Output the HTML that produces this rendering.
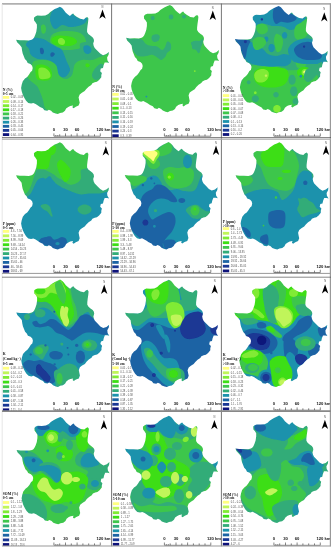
<!DOCTYPE html>
<html><head><meta charset="utf-8"><title>Soil maps</title>
<style>html,body{margin:0;padding:0;background:#fff}svg{display:block}text{font-family:"Liberation Sans",sans-serif}.s{font-family:"Liberation Serif",serif;font-weight:bold}</style></head><body>
<svg width="333" height="550" viewBox="0 0 333 550">
<defs><filter id="b" x="-5%" y="-5%" width="110%" height="110%"><feGaussianBlur stdDeviation="0.45"/></filter>
<clipPath id="c0"><path d="M59.9 6.8 L62.1 8.1 L63.6 9.8 L65.6 12.4 L67.9 14.4 L69.9 15.9 L72.1 13.9 L73.2 13.4 L74.3 15.0 L76.6 16.7 L80.3 18.8 L83.8 19.4 L85.6 17.7 L87.3 17.0 L88.4 18.6 L88.1 21.9 L87.5 25.9 L87.1 29.4 L87.1 31.9 L88.3 33.9 L90.3 35.6 L92.5 37.2 L93.7 38.9 L94.0 40.9 L93.2 43.6 L93.7 45.9 L94.7 48.0 L97.4 50.8 L100.2 53.6 L103.0 55.2 L106.3 54.1 L108.9 51.9 L108.6 54.7 L107.1 57.5 L107.4 60.2 L109.1 63.0 L107.1 62.5 L104.7 62.5 L103.6 65.2 L103.0 68.0 L100.8 68.6 L100.2 71.3 L101.9 73.0 L101.3 75.2 L101.3 77.2 L99.1 80.0 L96.9 81.7 L94.7 82.2 L92.4 83.3 L91.3 85.0 L88.6 86.7 L86.3 88.9 L84.7 91.1 L81.9 92.8 L79.7 94.5 L78.6 97.2 L79.1 100.0 L79.7 102.8 L78.6 105.6 L75.8 106.7 L73.6 108.3 L72.4 107.2 L73.0 105.6 L70.2 106.1 L68.3 106.9 L66.1 108.6 L65.0 110.8 L62.8 112.5 L60.0 113.0 L57.8 114.1 L55.6 113.6 L52.8 112.5 L51.1 110.8 L48.9 109.7 L47.2 110.8 L44.4 110.2 L42.8 108.2 L40.0 106.9 L37.5 105.2 L35.6 104.1 L33.3 103.0 L31.1 103.6 L28.3 103.0 L26.1 100.8 L24.4 98.0 L22.8 94.7 L21.7 91.3 L21.1 88.0 L21.7 84.7 L22.8 81.3 L25.0 78.6 L27.2 76.9 L28.9 74.7 L30.6 71.9 L32.1 70.7 L32.7 67.9 L32.1 65.7 L30.4 64.0 L27.7 62.9 L26.6 60.7 L24.9 59.0 L23.8 56.2 L22.7 53.5 L22.1 50.7 L21.6 47.3 L19.9 45.1 L17.1 42.3 L16.1 39.7 L19.9 40.3 L24.3 40.2 L28.8 40.4 L31.6 39.7 L32.9 39.0 L34.1 37.4 L35.2 35.0 L36.3 31.7 L36.9 27.8 L36.9 24.5 L35.5 22.2 L34.1 20.6 L33.9 17.8 L35.3 16.4 L37.3 15.6 L41.3 15.7 L45.3 15.4 L48.3 13.9 L50.3 11.9 L51.8 10.9 L54.7 9.1 L57.4 7.9Z"/></clipPath>
<clipPath id="c1"><path d="M169.9 4.9 L172.1 6.2 L173.6 7.9 L175.6 10.5 L177.9 12.5 L179.9 14.0 L182.1 12.0 L183.2 11.5 L184.3 13.1 L186.6 14.8 L190.3 16.9 L193.8 17.5 L195.6 15.8 L197.3 15.1 L198.4 16.7 L198.1 20.0 L197.5 24.0 L197.1 27.5 L197.1 30.0 L198.3 32.0 L200.3 33.7 L202.5 35.3 L203.7 37.0 L204.0 39.0 L203.2 41.7 L203.7 44.0 L204.7 46.1 L207.4 48.9 L210.2 51.7 L213.0 53.3 L216.3 52.2 L218.9 50.0 L218.6 52.8 L217.1 55.6 L217.4 58.3 L219.1 61.1 L217.1 60.6 L214.7 60.6 L213.6 63.3 L213.0 66.1 L210.8 66.7 L210.2 69.4 L211.9 71.1 L211.3 73.3 L211.3 75.3 L209.1 78.1 L206.9 79.8 L204.7 80.3 L202.4 81.4 L201.3 83.1 L198.6 84.8 L196.3 87.0 L194.7 89.2 L191.9 90.9 L189.7 92.6 L188.6 95.3 L189.1 98.1 L189.7 100.9 L188.6 103.7 L185.8 104.8 L183.6 106.4 L182.4 105.3 L183.0 103.7 L180.2 104.2 L178.3 105.0 L176.1 106.7 L175.0 108.9 L172.8 110.6 L170.0 111.1 L167.8 112.2 L165.6 111.7 L162.8 110.6 L161.1 108.9 L158.9 107.8 L157.2 108.9 L154.4 108.3 L152.8 106.3 L150.0 105.0 L147.5 103.3 L145.6 102.2 L143.3 101.1 L141.1 101.7 L138.3 101.1 L136.1 98.9 L134.4 96.1 L132.8 92.8 L131.7 89.4 L131.1 86.1 L131.7 82.8 L132.8 79.4 L135.0 76.7 L137.2 75.0 L138.9 72.8 L140.6 70.0 L142.1 68.8 L142.7 66.0 L142.1 63.8 L140.4 62.1 L137.7 61.0 L136.6 58.8 L134.9 57.1 L133.8 54.3 L132.7 51.6 L132.1 48.8 L131.6 45.4 L129.9 43.2 L127.1 40.4 L126.1 37.8 L129.9 38.4 L134.3 38.3 L138.8 38.5 L141.6 37.8 L142.9 37.1 L144.1 35.5 L145.2 33.1 L146.3 29.8 L146.9 25.9 L146.9 22.6 L145.5 20.3 L144.1 18.7 L143.9 15.9 L145.3 14.5 L147.3 13.7 L151.3 13.8 L155.3 13.5 L158.3 12.0 L160.3 10.0 L161.8 9.0 L164.7 7.2 L167.4 6.0Z"/></clipPath>
<clipPath id="c2"><path d="M278.7 6.0 L280.9 7.3 L282.4 9.0 L284.4 11.6 L286.7 13.6 L288.7 15.1 L290.9 13.1 L292.0 12.6 L293.1 14.2 L295.4 15.9 L299.1 18.0 L302.6 18.6 L304.4 16.9 L306.1 16.2 L307.2 17.8 L306.9 21.1 L306.3 25.1 L305.9 28.6 L305.9 31.1 L307.1 33.1 L309.1 34.8 L311.3 36.4 L312.5 38.1 L312.8 40.1 L312.0 42.8 L312.5 45.1 L313.5 47.2 L316.2 50.0 L319.0 52.8 L321.8 54.4 L325.1 53.3 L327.7 51.1 L327.4 53.9 L325.9 56.7 L326.2 59.4 L327.9 62.2 L325.9 61.7 L323.5 61.7 L322.4 64.4 L321.8 67.2 L319.6 67.8 L319.0 70.5 L320.7 72.2 L320.1 74.4 L320.1 76.4 L317.9 79.2 L315.7 80.9 L313.5 81.4 L311.2 82.5 L310.1 84.2 L307.4 85.9 L305.1 88.1 L303.5 90.3 L300.7 92.0 L298.5 93.7 L297.4 96.4 L297.9 99.2 L298.5 102.0 L297.4 104.8 L294.6 105.9 L292.4 107.5 L291.2 106.4 L291.8 104.8 L289.0 105.3 L287.1 106.1 L284.9 107.8 L283.8 110.0 L281.6 111.7 L278.8 112.2 L276.6 113.3 L274.4 112.8 L271.6 111.7 L269.9 110.0 L267.7 108.9 L266.0 110.0 L263.2 109.4 L261.6 107.4 L258.8 106.1 L256.3 104.4 L254.4 103.3 L252.1 102.2 L249.9 102.8 L247.1 102.2 L244.9 100.0 L243.2 97.2 L241.6 93.9 L240.5 90.5 L239.9 87.2 L240.5 83.9 L241.6 80.5 L243.8 77.8 L246.0 76.1 L247.7 73.9 L249.4 71.1 L250.9 69.9 L251.5 67.1 L250.9 64.9 L249.2 63.2 L246.5 62.1 L245.4 59.9 L243.7 58.2 L242.6 55.4 L241.5 52.7 L240.9 49.9 L240.4 46.5 L238.7 44.3 L235.9 41.5 L234.9 38.9 L238.7 39.5 L243.1 39.4 L247.6 39.6 L250.4 38.9 L251.7 38.2 L252.9 36.6 L254.0 34.2 L255.1 30.9 L255.7 27.0 L255.7 23.7 L254.3 21.4 L252.9 19.8 L252.7 17.0 L254.1 15.6 L256.1 14.8 L260.1 14.9 L264.1 14.6 L267.1 13.1 L269.1 11.1 L270.6 10.1 L273.5 8.3 L276.2 7.1Z"/></clipPath>
<clipPath id="c3"><path d="M59.9 142.3 L62.1 143.6 L63.6 145.3 L65.6 147.9 L67.9 149.9 L69.9 151.4 L72.1 149.4 L73.2 148.9 L74.3 150.5 L76.6 152.2 L80.3 154.3 L83.8 154.9 L85.6 153.2 L87.3 152.5 L88.4 154.1 L88.1 157.4 L87.5 161.4 L87.1 164.9 L87.1 167.4 L88.3 169.4 L90.3 171.1 L92.5 172.7 L93.7 174.4 L94.0 176.4 L93.2 179.1 L93.7 181.4 L94.7 183.5 L97.4 186.3 L100.2 189.1 L103.0 190.7 L106.3 189.6 L108.9 187.4 L108.6 190.2 L107.1 193.0 L107.4 195.7 L109.1 198.5 L107.1 198.0 L104.7 198.0 L103.6 200.7 L103.0 203.5 L100.8 204.1 L100.2 206.8 L101.9 208.5 L101.3 210.7 L101.3 212.7 L99.1 215.5 L96.9 217.2 L94.7 217.7 L92.4 218.8 L91.3 220.5 L88.6 222.2 L86.3 224.4 L84.7 226.6 L81.9 228.3 L79.7 230.0 L78.6 232.7 L79.1 235.5 L79.7 238.3 L78.6 241.1 L75.8 242.2 L73.6 243.8 L72.4 242.7 L73.0 241.1 L70.2 241.6 L68.3 242.4 L66.1 244.1 L65.0 246.3 L62.8 248.0 L60.0 248.5 L57.8 249.6 L55.6 249.1 L52.8 248.0 L51.1 246.3 L48.9 245.2 L47.2 246.3 L44.4 245.7 L42.8 243.7 L40.0 242.4 L37.5 240.7 L35.6 239.6 L33.3 238.5 L31.1 239.1 L28.3 238.5 L26.1 236.3 L24.4 233.5 L22.8 230.2 L21.7 226.8 L21.1 223.5 L21.7 220.2 L22.8 216.8 L25.0 214.1 L27.2 212.4 L28.9 210.2 L30.6 207.4 L32.1 206.2 L32.7 203.4 L32.1 201.2 L30.4 199.5 L27.7 198.4 L26.6 196.2 L24.9 194.5 L23.8 191.7 L22.7 189.0 L22.1 186.2 L21.6 182.8 L19.9 180.6 L17.1 177.8 L16.1 175.2 L19.9 175.8 L24.3 175.7 L28.8 175.9 L31.6 175.2 L32.9 174.5 L34.1 172.9 L35.2 170.5 L36.3 167.2 L36.9 163.3 L36.9 160.0 L35.5 157.7 L34.1 156.1 L33.9 153.3 L35.3 151.9 L37.3 151.1 L41.3 151.2 L45.3 150.9 L48.3 149.4 L50.3 147.4 L51.8 146.4 L54.7 144.6 L57.4 143.4Z"/></clipPath>
<clipPath id="c4"><path d="M168.6 142.1 L170.8 143.4 L172.3 145.1 L174.3 147.7 L176.6 149.7 L178.6 151.2 L180.8 149.2 L181.9 148.7 L183.0 150.3 L185.3 152.0 L189.0 154.1 L192.5 154.7 L194.3 153.0 L196.0 152.3 L197.1 153.9 L196.8 157.2 L196.2 161.2 L195.8 164.7 L195.8 167.2 L197.0 169.2 L199.0 170.9 L201.2 172.5 L202.4 174.2 L202.7 176.2 L201.9 178.9 L202.4 181.2 L203.4 183.3 L206.1 186.1 L208.9 188.9 L211.7 190.5 L215.0 189.4 L217.6 187.2 L217.3 190.0 L215.8 192.8 L216.1 195.5 L217.8 198.3 L215.8 197.8 L213.4 197.8 L212.3 200.5 L211.7 203.3 L209.5 203.9 L208.9 206.6 L210.6 208.3 L210.0 210.5 L210.0 212.5 L207.8 215.3 L205.6 217.0 L203.4 217.5 L201.1 218.6 L200.0 220.3 L197.3 222.0 L195.0 224.2 L193.4 226.4 L190.6 228.1 L188.4 229.8 L187.3 232.5 L187.8 235.3 L188.4 238.1 L187.3 240.9 L184.5 242.0 L182.3 243.6 L181.1 242.5 L181.7 240.9 L178.9 241.4 L177.0 242.2 L174.8 243.9 L173.7 246.1 L171.5 247.8 L168.7 248.3 L166.5 249.4 L164.3 248.9 L161.5 247.8 L159.8 246.1 L157.6 245.0 L155.9 246.1 L153.1 245.5 L151.5 243.5 L148.7 242.2 L146.2 240.5 L144.3 239.4 L142.0 238.3 L139.8 238.9 L137.0 238.3 L134.8 236.1 L133.1 233.3 L131.5 230.0 L130.4 226.6 L129.8 223.3 L130.4 220.0 L131.5 216.6 L133.7 213.9 L135.9 212.2 L137.6 210.0 L139.3 207.2 L140.8 206.0 L141.4 203.2 L140.8 201.0 L139.1 199.3 L136.4 198.2 L135.3 196.0 L133.6 194.3 L132.5 191.5 L131.4 188.8 L130.8 186.0 L130.3 182.6 L128.6 180.4 L125.8 177.6 L124.8 175.0 L128.6 175.6 L133.0 175.5 L137.5 175.7 L140.3 175.0 L141.6 174.3 L142.8 172.7 L143.9 170.3 L145.0 167.0 L145.6 163.1 L145.6 159.8 L144.2 157.5 L142.8 155.9 L142.6 153.1 L144.0 151.7 L146.0 150.9 L150.0 151.0 L154.0 150.7 L157.0 149.2 L159.0 147.2 L160.5 146.2 L163.4 144.4 L166.1 143.2Z"/></clipPath>
<clipPath id="c5"><path d="M279.4 142.3 L281.6 143.6 L283.1 145.3 L285.1 147.9 L287.4 149.9 L289.4 151.4 L291.6 149.4 L292.7 148.9 L293.8 150.5 L296.1 152.2 L299.8 154.3 L303.3 154.9 L305.1 153.2 L306.8 152.5 L307.9 154.1 L307.6 157.4 L307.0 161.4 L306.6 164.9 L306.6 167.4 L307.8 169.4 L309.8 171.1 L312.0 172.7 L313.2 174.4 L313.5 176.4 L312.7 179.1 L313.2 181.4 L314.2 183.5 L316.9 186.3 L319.7 189.1 L322.5 190.7 L325.8 189.6 L328.4 187.4 L328.1 190.2 L326.6 193.0 L326.9 195.7 L328.6 198.5 L326.6 198.0 L324.2 198.0 L323.1 200.7 L322.5 203.5 L320.3 204.1 L319.7 206.8 L321.4 208.5 L320.8 210.7 L320.8 212.7 L318.6 215.5 L316.4 217.2 L314.2 217.7 L311.9 218.8 L310.8 220.5 L308.1 222.2 L305.8 224.4 L304.2 226.6 L301.4 228.3 L299.2 230.0 L298.1 232.7 L298.6 235.5 L299.2 238.3 L298.1 241.1 L295.3 242.2 L293.1 243.8 L291.9 242.7 L292.5 241.1 L289.7 241.6 L287.8 242.4 L285.6 244.1 L284.5 246.3 L282.3 248.0 L279.5 248.5 L277.3 249.6 L275.1 249.1 L272.3 248.0 L270.6 246.3 L268.4 245.2 L266.7 246.3 L263.9 245.7 L262.3 243.7 L259.5 242.4 L257.0 240.7 L255.1 239.6 L252.8 238.5 L250.6 239.1 L247.8 238.5 L245.6 236.3 L243.9 233.5 L242.3 230.2 L241.2 226.8 L240.6 223.5 L241.2 220.2 L242.3 216.8 L244.5 214.1 L246.7 212.4 L248.4 210.2 L250.1 207.4 L251.6 206.2 L252.2 203.4 L251.6 201.2 L249.9 199.5 L247.2 198.4 L246.1 196.2 L244.4 194.5 L243.3 191.7 L242.2 189.0 L241.6 186.2 L241.1 182.8 L239.4 180.6 L236.6 177.8 L235.6 175.2 L239.4 175.8 L243.8 175.7 L248.3 175.9 L251.1 175.2 L252.4 174.5 L253.6 172.9 L254.7 170.5 L255.8 167.2 L256.4 163.3 L256.4 160.0 L255.0 157.7 L253.6 156.1 L253.4 153.3 L254.8 151.9 L256.8 151.1 L260.8 151.2 L264.8 150.9 L267.8 149.4 L269.8 147.4 L271.3 146.4 L274.2 144.6 L276.9 143.4Z"/></clipPath>
<clipPath id="c6"><path d="M60.1 279.6 L62.3 280.9 L63.8 282.6 L65.8 285.2 L68.1 287.2 L70.1 288.7 L72.3 286.7 L73.4 286.2 L74.5 287.8 L76.8 289.5 L80.5 291.6 L84.0 292.2 L85.8 290.5 L87.5 289.8 L88.6 291.4 L88.3 294.7 L87.7 298.7 L87.3 302.2 L87.3 304.7 L88.5 306.7 L90.5 308.4 L92.7 310.0 L93.9 311.7 L94.2 313.7 L93.4 316.4 L93.9 318.7 L94.9 320.8 L97.6 323.6 L100.4 326.4 L103.2 328.0 L106.5 326.9 L109.1 324.7 L108.8 327.5 L107.3 330.3 L107.6 333.0 L109.3 335.8 L107.3 335.3 L104.9 335.3 L103.8 338.0 L103.2 340.8 L101.0 341.4 L100.4 344.1 L102.1 345.8 L101.5 348.0 L101.5 350.0 L99.3 352.8 L97.1 354.5 L94.9 355.0 L92.6 356.1 L91.5 357.8 L88.8 359.5 L86.5 361.7 L84.9 363.9 L82.1 365.6 L79.9 367.3 L78.8 370.0 L79.3 372.8 L79.9 375.6 L78.8 378.4 L76.0 379.5 L73.8 381.1 L72.6 380.0 L73.2 378.4 L70.4 378.9 L68.5 379.7 L66.3 381.4 L65.2 383.6 L63.0 385.3 L60.2 385.8 L58.0 386.9 L55.8 386.4 L53.0 385.3 L51.3 383.6 L49.1 382.5 L47.4 383.6 L44.6 383.0 L43.0 381.0 L40.2 379.7 L37.7 378.0 L35.8 376.9 L33.5 375.8 L31.3 376.4 L28.5 375.8 L26.3 373.6 L24.6 370.8 L23.0 367.5 L21.9 364.1 L21.3 360.8 L21.9 357.5 L23.0 354.1 L25.2 351.4 L27.4 349.7 L29.1 347.5 L30.8 344.7 L32.3 343.5 L32.9 340.7 L32.3 338.5 L30.6 336.8 L27.9 335.7 L26.8 333.5 L25.1 331.8 L24.0 329.0 L22.9 326.3 L22.3 323.5 L21.8 320.1 L20.1 317.9 L17.3 315.1 L16.3 312.5 L20.1 313.1 L24.5 313.0 L29.0 313.2 L31.8 312.5 L33.1 311.8 L34.3 310.2 L35.4 307.8 L36.5 304.5 L37.1 300.6 L37.1 297.3 L35.7 295.0 L34.3 293.4 L34.1 290.6 L35.5 289.2 L37.5 288.4 L41.5 288.5 L45.5 288.2 L48.5 286.7 L50.5 284.7 L52.0 283.7 L54.9 281.9 L57.6 280.7Z"/></clipPath>
<clipPath id="c7"><path d="M168.9 279.8 L171.1 281.1 L172.6 282.8 L174.6 285.4 L176.9 287.4 L178.9 288.9 L181.1 286.9 L182.2 286.4 L183.3 288.0 L185.6 289.7 L189.3 291.8 L192.8 292.4 L194.6 290.7 L196.3 290.0 L197.4 291.6 L197.1 294.9 L196.5 298.9 L196.1 302.4 L196.1 304.9 L197.3 306.9 L199.3 308.6 L201.5 310.2 L202.7 311.9 L203.0 313.9 L202.2 316.6 L202.7 318.9 L203.7 321.0 L206.4 323.8 L209.2 326.6 L212.0 328.2 L215.3 327.1 L217.9 324.9 L217.6 327.7 L216.1 330.5 L216.4 333.2 L218.1 336.0 L216.1 335.5 L213.7 335.5 L212.6 338.2 L212.0 341.0 L209.8 341.6 L209.2 344.3 L210.9 346.0 L210.3 348.2 L210.3 350.2 L208.1 353.0 L205.9 354.7 L203.7 355.2 L201.4 356.3 L200.3 358.0 L197.6 359.7 L195.3 361.9 L193.7 364.1 L190.9 365.8 L188.7 367.5 L187.6 370.2 L188.1 373.0 L188.7 375.8 L187.6 378.6 L184.8 379.7 L182.6 381.3 L181.4 380.2 L182.0 378.6 L179.2 379.1 L177.3 379.9 L175.1 381.6 L174.0 383.8 L171.8 385.5 L169.0 386.0 L166.8 387.1 L164.6 386.6 L161.8 385.5 L160.1 383.8 L157.9 382.7 L156.2 383.8 L153.4 383.2 L151.8 381.2 L149.0 379.9 L146.5 378.2 L144.6 377.1 L142.3 376.0 L140.1 376.6 L137.3 376.0 L135.1 373.8 L133.4 371.0 L131.8 367.7 L130.7 364.3 L130.1 361.0 L130.7 357.7 L131.8 354.3 L134.0 351.6 L136.2 349.9 L137.9 347.7 L139.6 344.9 L141.1 343.7 L141.7 340.9 L141.1 338.7 L139.4 337.0 L136.7 335.9 L135.6 333.7 L133.9 332.0 L132.8 329.2 L131.7 326.5 L131.1 323.7 L130.6 320.3 L128.9 318.1 L126.1 315.3 L125.1 312.7 L128.9 313.3 L133.3 313.2 L137.8 313.4 L140.6 312.7 L141.9 312.0 L143.1 310.4 L144.2 308.0 L145.3 304.7 L145.9 300.8 L145.9 297.5 L144.5 295.2 L143.1 293.6 L142.9 290.8 L144.3 289.4 L146.3 288.6 L150.3 288.7 L154.3 288.4 L157.3 286.9 L159.3 284.9 L160.8 283.9 L163.7 282.1 L166.4 280.9Z"/></clipPath>
<clipPath id="c8"><path d="M278.2 279.8 L280.4 281.1 L281.9 282.8 L283.9 285.4 L286.2 287.4 L288.2 288.9 L290.4 286.9 L291.5 286.4 L292.6 288.0 L294.9 289.7 L298.6 291.8 L302.1 292.4 L303.9 290.7 L305.6 290.0 L306.7 291.6 L306.4 294.9 L305.8 298.9 L305.4 302.4 L305.4 304.9 L306.6 306.9 L308.6 308.6 L310.8 310.2 L312.0 311.9 L312.3 313.9 L311.5 316.6 L312.0 318.9 L313.0 321.0 L315.7 323.8 L318.5 326.6 L321.3 328.2 L324.6 327.1 L327.2 324.9 L326.9 327.7 L325.4 330.5 L325.7 333.2 L327.4 336.0 L325.4 335.5 L323.0 335.5 L321.9 338.2 L321.3 341.0 L319.1 341.6 L318.5 344.3 L320.2 346.0 L319.6 348.2 L319.6 350.2 L317.4 353.0 L315.2 354.7 L313.0 355.2 L310.7 356.3 L309.6 358.0 L306.9 359.7 L304.6 361.9 L303.0 364.1 L300.2 365.8 L298.0 367.5 L296.9 370.2 L297.4 373.0 L298.0 375.8 L296.9 378.6 L294.1 379.7 L291.9 381.3 L290.7 380.2 L291.3 378.6 L288.5 379.1 L286.6 379.9 L284.4 381.6 L283.3 383.8 L281.1 385.5 L278.3 386.0 L276.1 387.1 L273.9 386.6 L271.1 385.5 L269.4 383.8 L267.2 382.7 L265.5 383.8 L262.7 383.2 L261.1 381.2 L258.3 379.9 L255.8 378.2 L253.9 377.1 L251.6 376.0 L249.4 376.6 L246.6 376.0 L244.4 373.8 L242.7 371.0 L241.1 367.7 L240.0 364.3 L239.4 361.0 L240.0 357.7 L241.1 354.3 L243.3 351.6 L245.5 349.9 L247.2 347.7 L248.9 344.9 L250.4 343.7 L251.0 340.9 L250.4 338.7 L248.7 337.0 L246.0 335.9 L244.9 333.7 L243.2 332.0 L242.1 329.2 L241.0 326.5 L240.4 323.7 L239.9 320.3 L238.2 318.1 L235.4 315.3 L234.4 312.7 L238.2 313.3 L242.6 313.2 L247.1 313.4 L249.9 312.7 L251.2 312.0 L252.4 310.4 L253.5 308.0 L254.6 304.7 L255.2 300.8 L255.2 297.5 L253.8 295.2 L252.4 293.6 L252.2 290.8 L253.6 289.4 L255.6 288.6 L259.6 288.7 L263.6 288.4 L266.6 286.9 L268.6 284.9 L270.1 283.9 L273.0 282.1 L275.7 280.9Z"/></clipPath>
<clipPath id="c9"><path d="M60.4 417.0 L62.6 418.3 L64.1 420.0 L66.1 422.6 L68.4 424.6 L70.4 426.1 L72.6 424.1 L73.7 423.6 L74.8 425.2 L77.1 426.9 L80.8 429.0 L84.3 429.6 L86.1 427.9 L87.8 427.2 L88.9 428.8 L88.6 432.1 L88.0 436.1 L87.6 439.6 L87.6 442.1 L88.8 444.1 L90.8 445.8 L93.0 447.4 L94.2 449.1 L94.5 451.1 L93.7 453.8 L94.2 456.1 L95.2 458.2 L97.9 461.0 L100.7 463.8 L103.5 465.4 L106.8 464.3 L109.4 462.1 L109.1 464.9 L107.6 467.7 L107.9 470.4 L109.6 473.2 L107.6 472.7 L105.2 472.7 L104.1 475.4 L103.5 478.2 L101.3 478.8 L100.7 481.5 L102.4 483.2 L101.8 485.4 L101.8 487.4 L99.6 490.2 L97.4 491.9 L95.2 492.4 L92.9 493.5 L91.8 495.2 L89.1 496.9 L86.8 499.1 L85.2 501.3 L82.4 503.0 L80.2 504.7 L79.1 507.4 L79.6 510.2 L80.2 513.0 L79.1 515.8 L76.3 516.9 L74.1 518.5 L72.9 517.4 L73.5 515.8 L70.7 516.3 L68.8 517.1 L66.6 518.8 L65.5 521.0 L63.3 522.7 L60.5 523.2 L58.3 524.3 L56.1 523.8 L53.3 522.7 L51.6 521.0 L49.4 519.9 L47.7 521.0 L44.9 520.4 L43.3 518.4 L40.5 517.1 L38.0 515.4 L36.1 514.3 L33.8 513.2 L31.6 513.8 L28.8 513.2 L26.6 511.0 L24.9 508.2 L23.3 504.9 L22.2 501.5 L21.6 498.2 L22.2 494.9 L23.3 491.5 L25.5 488.8 L27.7 487.1 L29.4 484.9 L31.1 482.1 L32.6 480.9 L33.2 478.1 L32.6 475.9 L30.9 474.2 L28.2 473.1 L27.1 470.9 L25.4 469.2 L24.3 466.4 L23.2 463.7 L22.6 460.9 L22.1 457.5 L20.4 455.3 L17.6 452.5 L16.6 449.9 L20.4 450.5 L24.8 450.4 L29.3 450.6 L32.1 449.9 L33.4 449.2 L34.6 447.6 L35.7 445.2 L36.8 441.9 L37.4 438.0 L37.4 434.7 L36.0 432.4 L34.6 430.8 L34.4 428.0 L35.8 426.6 L37.8 425.8 L41.8 425.9 L45.8 425.6 L48.8 424.1 L50.8 422.1 L52.3 421.1 L55.2 419.3 L57.9 418.1Z"/></clipPath>
<clipPath id="c10"><path d="M168.9 415.8 L171.1 417.1 L172.6 418.8 L174.6 421.4 L176.9 423.4 L178.9 424.9 L181.1 422.9 L182.2 422.4 L183.3 424.0 L185.6 425.7 L189.3 427.8 L192.8 428.4 L194.6 426.7 L196.3 426.0 L197.4 427.6 L197.1 430.9 L196.5 434.9 L196.1 438.4 L196.1 440.9 L197.3 442.9 L199.3 444.6 L201.5 446.2 L202.7 447.9 L203.0 449.9 L202.2 452.6 L202.7 454.9 L203.7 457.0 L206.4 459.8 L209.2 462.6 L212.0 464.2 L215.3 463.1 L217.9 460.9 L217.6 463.7 L216.1 466.5 L216.4 469.2 L218.1 472.0 L216.1 471.5 L213.7 471.5 L212.6 474.2 L212.0 477.0 L209.8 477.6 L209.2 480.3 L210.9 482.0 L210.3 484.2 L210.3 486.2 L208.1 489.0 L205.9 490.7 L203.7 491.2 L201.4 492.3 L200.3 494.0 L197.6 495.7 L195.3 497.9 L193.7 500.1 L190.9 501.8 L188.7 503.5 L187.6 506.2 L188.1 509.0 L188.7 511.8 L187.6 514.6 L184.8 515.7 L182.6 517.3 L181.4 516.2 L182.0 514.6 L179.2 515.1 L177.3 515.9 L175.1 517.6 L174.0 519.8 L171.8 521.5 L169.0 522.0 L166.8 523.1 L164.6 522.6 L161.8 521.5 L160.1 519.8 L157.9 518.7 L156.2 519.8 L153.4 519.2 L151.8 517.2 L149.0 515.9 L146.5 514.2 L144.6 513.1 L142.3 512.0 L140.1 512.6 L137.3 512.0 L135.1 509.8 L133.4 507.0 L131.8 503.7 L130.7 500.3 L130.1 497.0 L130.7 493.7 L131.8 490.3 L134.0 487.6 L136.2 485.9 L137.9 483.7 L139.6 480.9 L141.1 479.7 L141.7 476.9 L141.1 474.7 L139.4 473.0 L136.7 471.9 L135.6 469.7 L133.9 468.0 L132.8 465.2 L131.7 462.5 L131.1 459.7 L130.6 456.3 L128.9 454.1 L126.1 451.3 L125.1 448.7 L128.9 449.3 L133.3 449.2 L137.8 449.4 L140.6 448.7 L141.9 448.0 L143.1 446.4 L144.2 444.0 L145.3 440.7 L145.9 436.8 L145.9 433.5 L144.5 431.2 L143.1 429.6 L142.9 426.8 L144.3 425.4 L146.3 424.6 L150.3 424.7 L154.3 424.4 L157.3 422.9 L159.3 420.9 L160.8 419.9 L163.7 418.1 L166.4 416.9Z"/></clipPath>
<clipPath id="c11"><path d="M279.2 415.6 L281.4 416.9 L282.9 418.6 L284.9 421.2 L287.2 423.2 L289.2 424.7 L291.4 422.7 L292.5 422.2 L293.6 423.8 L295.9 425.5 L299.6 427.6 L303.1 428.2 L304.9 426.5 L306.6 425.8 L307.7 427.4 L307.4 430.7 L306.8 434.7 L306.4 438.2 L306.4 440.7 L307.6 442.7 L309.6 444.4 L311.8 446.0 L313.0 447.7 L313.3 449.7 L312.5 452.4 L313.0 454.7 L314.0 456.8 L316.7 459.6 L319.5 462.4 L322.3 464.0 L325.6 462.9 L328.2 460.7 L327.9 463.5 L326.4 466.3 L326.7 469.0 L328.4 471.8 L326.4 471.3 L324.0 471.3 L322.9 474.0 L322.3 476.8 L320.1 477.4 L319.5 480.1 L321.2 481.8 L320.6 484.0 L320.6 486.0 L318.4 488.8 L316.2 490.5 L314.0 491.0 L311.7 492.1 L310.6 493.8 L307.9 495.5 L305.6 497.7 L304.0 499.9 L301.2 501.6 L299.0 503.3 L297.9 506.0 L298.4 508.8 L299.0 511.6 L297.9 514.4 L295.1 515.5 L292.9 517.1 L291.7 516.0 L292.3 514.4 L289.5 514.9 L287.6 515.7 L285.4 517.4 L284.3 519.6 L282.1 521.3 L279.3 521.8 L277.1 522.9 L274.9 522.4 L272.1 521.3 L270.4 519.6 L268.2 518.5 L266.5 519.6 L263.7 519.0 L262.1 517.0 L259.3 515.7 L256.8 514.0 L254.9 512.9 L252.6 511.8 L250.4 512.4 L247.6 511.8 L245.4 509.6 L243.7 506.8 L242.1 503.5 L241.0 500.1 L240.4 496.8 L241.0 493.5 L242.1 490.1 L244.3 487.4 L246.5 485.7 L248.2 483.5 L249.9 480.7 L251.4 479.5 L252.0 476.7 L251.4 474.5 L249.7 472.8 L247.0 471.7 L245.9 469.5 L244.2 467.8 L243.1 465.0 L242.0 462.3 L241.4 459.5 L240.9 456.1 L239.2 453.9 L236.4 451.1 L235.4 448.5 L239.2 449.1 L243.6 449.0 L248.1 449.2 L250.9 448.5 L252.2 447.8 L253.4 446.2 L254.5 443.8 L255.6 440.5 L256.2 436.6 L256.2 433.3 L254.8 431.0 L253.4 429.4 L253.2 426.6 L254.6 425.2 L256.6 424.4 L260.6 424.5 L264.6 424.2 L267.6 422.7 L269.6 420.7 L271.1 419.7 L274.0 417.9 L276.7 416.7Z"/></clipPath>
</defs>
<rect width="333" height="550" fill="#fff"/>
<g clip-path="url(#c0)"><g filter="url(#b)">
<rect x="5.0" y="0.0" width="115" height="125" fill="#32ac78"/>
<path d="M50.0 40.0 C50.0 38.2 50.7 36.3 52.0 35.0 C53.3 33.7 55.7 32.7 58.0 32.0 C60.3 31.3 63.3 31.1 66.0 31.0 C68.7 30.9 71.7 31.2 74.0 31.5 C76.3 31.8 78.2 32.1 80.0 33.0 C81.8 33.9 83.5 35.3 84.5 37.0 C85.5 38.7 86.4 41.2 86.0 43.0 C85.6 44.8 84.0 46.4 82.0 47.5 C80.0 48.6 76.7 49.1 74.0 49.5 C71.3 49.9 68.7 50.1 66.0 50.0 C63.3 49.9 60.3 49.7 58.0 49.0 C55.7 48.3 53.3 47.5 52.0 46.0 C50.7 44.5 50.0 41.8 50.0 40.0Z" fill="#3ec64b"/>
<path d="M33.0 62.0 C34.5 60.3 37.2 60.2 40.0 60.0 C42.8 59.8 47.2 60.0 50.0 61.0 C52.8 62.0 55.3 63.5 57.0 66.0 C58.7 68.5 58.5 73.8 60.0 76.0 C61.5 78.2 64.0 79.2 66.0 79.0 C68.0 78.8 70.5 77.5 72.0 75.0 C73.5 72.5 73.3 66.5 75.0 64.0 C76.7 61.5 79.2 60.7 82.0 60.0 C84.8 59.3 89.0 60.5 92.0 60.0 C95.0 59.5 97.0 58.0 100.0 57.0 C103.0 56.0 109.0 52.5 110.0 54.0 C111.0 55.5 107.3 62.3 106.0 66.0 C104.7 69.7 104.3 72.7 102.0 76.0 C99.7 79.3 95.7 82.7 92.0 86.0 C88.3 89.3 82.0 92.7 80.0 96.0 C78.0 99.3 81.7 104.0 80.0 106.0 C78.3 108.0 73.3 106.7 70.0 108.0 C66.7 109.3 63.3 113.5 60.0 114.0 C56.7 114.5 52.5 112.0 50.0 111.0 C47.5 110.0 46.2 109.8 45.0 108.0 C43.8 106.2 43.8 102.7 43.0 100.0 C42.2 97.3 41.0 94.3 40.0 92.0 C39.0 89.7 38.3 87.7 37.0 86.0 C35.7 84.3 33.7 83.7 32.0 82.0 C30.3 80.3 27.2 78.0 27.0 76.0 C26.8 74.0 30.0 72.3 31.0 70.0 C32.0 67.7 31.5 63.7 33.0 62.0Z" fill="#3ec64b"/>
<path d="M41.0 26.0 C41.3 24.6 43.2 24.2 44.0 24.5 C44.8 24.8 45.8 26.6 46.0 28.0 C46.2 29.4 45.7 32.2 45.0 33.0 C44.3 33.8 42.7 34.2 42.0 33.0 C41.3 31.8 40.7 27.4 41.0 26.0Z" fill="#3ec64b"/>
<path d="M80.0 44.0 C81.0 42.0 85.7 42.0 88.0 42.0 C90.3 42.0 92.5 42.7 94.0 44.0 C95.5 45.3 97.0 48.0 97.0 50.0 C97.0 52.0 95.5 54.7 94.0 56.0 C92.5 57.3 90.0 58.3 88.0 58.0 C86.0 57.7 83.3 56.3 82.0 54.0 C80.7 51.7 79.0 46.0 80.0 44.0Z" fill="#32ac78"/>
<path d="M94.0 70.0 C95.3 68.0 98.3 64.7 100.0 64.0 C101.7 63.3 103.7 64.0 104.0 66.0 C104.3 68.0 103.3 73.7 102.0 76.0 C100.7 78.3 97.7 80.0 96.0 80.0 C94.3 80.0 92.3 77.7 92.0 76.0 C91.7 74.3 92.7 72.0 94.0 70.0Z" fill="#32ac78"/>
<path d="M53.0 10.0 C54.8 8.0 58.8 5.7 61.0 6.0 C63.2 6.3 64.2 10.7 66.0 12.0 C67.8 13.3 69.7 12.8 72.0 14.0 C74.3 15.2 77.5 18.3 80.0 19.0 C82.5 19.7 86.2 17.3 87.0 18.0 C87.8 18.7 86.5 21.7 85.0 23.0 C83.5 24.3 80.5 25.3 78.0 26.0 C75.5 26.7 72.7 27.2 70.0 27.0 C67.3 26.8 64.3 24.7 62.0 25.0 C59.7 25.3 57.7 28.8 56.0 29.0 C54.3 29.2 53.0 27.8 52.0 26.0 C51.0 24.2 49.8 20.7 50.0 18.0 C50.2 15.3 51.2 12.0 53.0 10.0Z" fill="#1c92ac"/>
<path d="M26.0 44.0 C26.7 42.2 30.2 38.8 33.0 38.0 C35.8 37.2 40.2 38.2 43.0 39.0 C45.8 39.8 47.7 41.7 50.0 43.0 C52.3 44.3 55.0 45.8 57.0 47.0 C59.0 48.2 60.3 47.5 62.0 50.0 C63.7 52.5 65.7 58.7 67.0 62.0 C68.3 65.3 70.3 67.5 70.0 70.0 C69.7 72.5 66.8 76.2 65.0 77.0 C63.2 77.8 60.5 77.0 59.0 75.0 C57.5 73.0 57.8 67.5 56.0 65.0 C54.2 62.5 51.0 61.0 48.0 60.0 C45.0 59.0 40.8 59.8 38.0 59.0 C35.2 58.2 32.5 56.7 31.0 55.0 C29.5 53.3 29.8 50.8 29.0 49.0 C28.2 47.2 25.3 45.8 26.0 44.0Z" fill="#1c92ac"/>
<path d="M84.0 46.0 C84.8 45.2 86.8 45.2 88.0 45.5 C89.2 45.8 90.5 46.9 91.0 48.0 C91.5 49.1 91.5 51.0 91.0 52.0 C90.5 53.0 89.0 53.8 88.0 54.0 C87.0 54.2 85.8 53.7 85.0 53.0 C84.2 52.3 83.7 51.2 83.5 50.0 C83.3 48.8 83.2 46.8 84.0 46.0Z" fill="#1c92ac"/>
<path d="M40.0 48.5 C40.3 47.6 41.8 47.6 42.5 48.0 C43.2 48.4 43.9 50.0 44.0 51.0 C44.1 52.0 43.6 53.6 43.0 54.0 C42.4 54.4 41.0 54.4 40.5 53.5 C40.0 52.6 39.7 49.4 40.0 48.5Z" fill="#1c64a4"/>
<path d="M50.5 53.5 C50.9 52.8 52.3 52.2 53.0 52.3 C53.7 52.4 54.8 53.3 54.8 54.0 C54.8 54.7 53.7 56.1 53.0 56.5 C52.3 56.9 51.2 57.0 50.8 56.5 C50.4 56.0 50.1 54.2 50.5 53.5Z" fill="#1c64a4"/>
<path d="M36.0 66.0 C36.9 64.6 39.2 64.5 41.0 64.5 C42.8 64.5 45.3 65.1 47.0 66.0 C48.7 66.9 50.2 68.3 51.0 70.0 C51.8 71.7 52.3 74.3 52.0 76.0 C51.7 77.7 50.7 79.2 49.0 80.0 C47.3 80.8 44.0 80.7 42.0 80.5 C40.0 80.3 38.1 80.2 37.0 79.0 C35.9 77.8 35.7 75.2 35.5 73.0 C35.3 70.8 35.1 67.4 36.0 66.0Z" fill="#3cde14"/>
<path d="M38.5 69.0 C39.0 67.5 40.8 67.6 42.0 67.5 C43.2 67.4 44.8 67.8 46.0 68.5 C47.2 69.2 48.8 70.7 49.5 72.0 C50.2 73.3 50.9 75.4 50.5 76.5 C50.1 77.6 48.6 78.4 47.0 78.8 C45.4 79.2 42.4 79.4 41.0 79.0 C39.6 78.6 39.2 78.2 38.8 76.5 C38.4 74.8 38.0 70.5 38.5 69.0Z" fill="#80eb34"/>
<path d="M52.0 38.0 C53.0 36.9 55.7 35.8 58.0 35.5 C60.3 35.2 63.3 35.6 66.0 36.0 C68.7 36.4 72.2 37.0 74.0 38.0 C75.8 39.0 77.3 40.8 77.0 42.0 C76.7 43.2 74.2 44.8 72.0 45.5 C69.8 46.2 66.7 46.1 64.0 46.0 C61.3 45.9 58.0 45.7 56.0 45.0 C54.0 44.3 52.7 43.2 52.0 42.0 C51.3 40.8 51.0 39.1 52.0 38.0Z" fill="#3cde14"/>
<path d="M58.5 39.0 C59.2 38.3 60.9 37.7 62.0 38.0 C63.1 38.3 64.7 39.9 65.0 41.0 C65.3 42.1 64.8 43.9 64.0 44.5 C63.2 45.1 61.0 44.9 60.0 44.5 C59.0 44.1 58.2 42.9 58.0 42.0 C57.8 41.1 57.8 39.7 58.5 39.0Z" fill="#80eb34"/>
<path d="M85.8 64.0 C86.2 63.5 87.3 63.4 88.0 63.6 C88.7 63.9 89.8 64.9 89.8 65.5 C89.8 66.1 88.7 67.0 88.0 67.2 C87.3 67.4 86.2 67.0 85.8 66.5 C85.4 66.0 85.4 64.5 85.8 64.0Z" fill="#3cde14"/>
</g></g>
<text class="s" x="2.8" y="90.8" font-size="3.7" fill="#111">N (%)</text>
<text class="s" x="2.8" y="95.0" font-size="3.7" fill="#111">0-5 cm</text>
<rect x="2.8" y="96.0" width="6.4" height="2.8" fill="#ffff80"/>
<text x="10.7" y="98.4" font-size="2.65" fill="#555">0.02 - 0.09</text>
<rect x="2.8" y="100.1" width="6.4" height="2.8" fill="#c0f55a"/>
<text x="10.7" y="102.5" font-size="2.65" fill="#555">0.09 - 0.14</text>
<rect x="2.8" y="104.3" width="6.4" height="2.8" fill="#80eb34"/>
<text x="10.7" y="106.6" font-size="2.65" fill="#555">0.14 - 0.17</text>
<rect x="2.8" y="108.4" width="6.4" height="2.8" fill="#3cde14"/>
<text x="10.7" y="110.7" font-size="2.65" fill="#555">0.17 - 0.18</text>
<rect x="2.8" y="112.5" width="6.4" height="2.8" fill="#3ec64b"/>
<text x="10.7" y="114.9" font-size="2.65" fill="#555">0.18 - 0.21</text>
<rect x="2.8" y="116.7" width="6.4" height="2.8" fill="#32ac78"/>
<text x="10.7" y="119.0" font-size="2.65" fill="#555">0.21 - 0.26</text>
<rect x="2.8" y="120.8" width="6.4" height="2.8" fill="#1c92ac"/>
<text x="10.7" y="123.1" font-size="2.65" fill="#555">0.26 - 0.33</text>
<rect x="2.8" y="124.9" width="6.4" height="2.8" fill="#1c64a4"/>
<text x="10.7" y="127.3" font-size="2.65" fill="#555">0.33 - 0.45</text>
<rect x="2.8" y="129.0" width="6.4" height="2.8" fill="#1a3794"/>
<text x="10.7" y="131.4" font-size="2.65" fill="#555">0.45 - 0.64</text>
<rect x="2.8" y="133.2" width="6.4" height="2.8" fill="#0e127a"/>
<text x="10.7" y="135.5" font-size="2.65" fill="#555">0.64 - 0.95</text>
<path d="M53.9 136.2H100.3M53.9 136.2v-2.8M65.5 136.2v-2.8M77.1 136.2v-2.8M100.3 136.2v-2.8M59.7 136.2v-1.9M71.3 136.2v-1.9M82.9 136.2v-1.9M88.7 136.2v-1.9M94.5 136.2v-1.9M55.8 136.2v-1.2M57.8 136.2v-1.2" fill="none" stroke="#222" stroke-width="0.55"/>
<text x="53.9" y="131.3" font-size="4.2" font-weight="bold" text-anchor="middle" fill="#111">0</text>
<text x="65.5" y="131.3" font-size="4.2" font-weight="bold" text-anchor="middle" fill="#111">30</text>
<text x="77.1" y="131.3" font-size="4.2" font-weight="bold" text-anchor="middle" fill="#111">60</text>
<text x="96.4" y="131.3" font-size="4.2" font-weight="bold" fill="#111">120 km</text>
<path d="M102.5 9.5l3.2 9.3l-3.2 -2.5l-3.2 2.5z" fill="#000"/>
<text x="102.5" y="7.5" font-size="2.6" text-anchor="middle" fill="#555">N</text>
<g clip-path="url(#c1)"><g filter="url(#b)">
<rect x="115.0" y="-1.9" width="115" height="125" fill="#3ec64b"/>
<path d="M125.8 38.0 C126.6 37.5 130.6 38.5 133.2 38.7 C135.8 38.9 139.4 38.3 141.5 39.2 C143.6 40.1 144.4 42.9 146.0 44.0 C147.6 45.1 149.2 45.4 151.0 45.8 C152.8 46.2 155.2 45.8 157.0 46.5 C158.8 47.2 160.7 49.8 162.0 49.9 C163.3 50.0 164.2 48.4 165.0 47.0 C165.8 45.6 166.2 42.5 167.0 41.7 C167.8 41.0 169.3 41.8 170.0 42.5 C170.7 43.2 171.1 44.8 171.2 46.0 C171.3 47.2 171.2 48.8 170.5 50.0 C169.8 51.2 167.8 51.9 167.0 53.0 C166.2 54.1 166.4 55.4 165.5 56.5 C164.6 57.6 162.7 59.8 161.3 59.9 C159.9 60.0 158.6 58.2 157.2 57.4 C155.8 56.6 154.5 55.2 153.0 54.9 C151.5 54.6 149.9 55.4 148.0 55.7 C146.1 56.0 143.4 56.6 141.5 56.5 C139.6 56.4 137.9 55.9 136.5 54.9 C135.1 53.9 134.0 52.2 133.2 50.8 C132.4 49.4 132.4 48.1 131.6 46.6 C130.8 45.1 129.3 43.1 128.3 41.7 C127.3 40.3 125.0 38.5 125.8 38.0Z" fill="#32ac78"/>
<path d="M154.7 18.1 C154.7 18.5 154.5 19.0 154.3 19.3 C154.1 19.7 153.7 20.0 153.3 20.1 C152.9 20.2 152.4 20.2 152.0 20.1 C151.6 20.0 151.2 19.7 151.0 19.3 C150.8 19.0 150.6 18.5 150.6 18.1 C150.6 17.7 150.8 17.2 151.0 16.9 C151.2 16.5 151.6 16.2 152.0 16.1 C152.4 16.0 152.9 16.0 153.3 16.1 C153.7 16.2 154.1 16.5 154.3 16.9 C154.5 17.2 154.7 17.7 154.7 18.1Z" fill="#32ac78"/>
<path d="M173.4 16.9 C173.4 17.4 173.2 18.0 173.0 18.4 C172.7 18.8 172.2 19.1 171.8 19.3 C171.3 19.4 170.8 19.4 170.3 19.3 C169.9 19.1 169.4 18.8 169.1 18.4 C168.9 18.0 168.7 17.4 168.7 16.9 C168.7 16.4 168.9 15.8 169.1 15.4 C169.4 15.0 169.9 14.7 170.3 14.5 C170.8 14.4 171.3 14.4 171.8 14.5 C172.2 14.7 172.7 15.0 173.0 15.4 C173.2 15.8 173.4 16.4 173.4 16.9Z" fill="#32ac78"/>
<path d="M186.0 16.7 C186.0 17.1 185.8 17.5 185.6 17.8 C185.4 18.0 185.0 18.3 184.6 18.4 C184.2 18.5 183.7 18.5 183.3 18.4 C182.9 18.3 182.5 18.0 182.3 17.8 C182.1 17.5 181.9 17.1 181.9 16.7 C181.9 16.3 182.1 15.9 182.3 15.6 C182.5 15.4 182.9 15.1 183.3 15.0 C183.7 14.9 184.2 14.9 184.6 15.0 C185.0 15.1 185.4 15.4 185.6 15.6 C185.8 15.9 186.0 16.3 186.0 16.7Z" fill="#32ac78"/>
<path d="M151.4 38.0 C151.4 36.9 152.1 35.6 153.0 35.0 C153.9 34.4 155.9 34.0 157.0 34.2 C158.1 34.4 159.4 35.0 159.7 36.0 C160.0 37.0 159.6 39.0 159.0 40.0 C158.4 41.0 157.0 41.5 156.0 41.7 C155.0 42.0 153.8 42.1 153.0 41.5 C152.2 40.9 151.4 39.1 151.4 38.0Z" fill="#32ac78"/>
<path d="M191.0 42.5 C191.5 41.7 193.5 41.1 195.0 40.8 C196.5 40.5 198.7 41.2 200.0 40.8 C201.3 40.4 202.6 38.0 203.0 38.4 C203.4 38.8 202.8 41.8 202.5 43.3 C202.2 44.8 201.3 46.1 200.9 47.5 C200.5 48.9 200.4 50.6 200.0 51.6 C199.6 52.6 199.1 53.5 198.4 53.2 C197.7 52.9 196.9 50.6 195.9 49.9 C194.9 49.2 193.3 49.8 192.6 49.1 C191.9 48.4 192.1 46.9 191.8 45.8 C191.5 44.7 190.5 43.3 191.0 42.5Z" fill="#32ac78"/>
<path d="M147.3 96.7 C147.3 96.9 147.2 97.2 147.0 97.3 C146.9 97.5 146.6 97.6 146.4 97.6 C146.2 97.6 145.9 97.5 145.8 97.3 C145.6 97.2 145.5 96.9 145.5 96.7 C145.5 96.5 145.6 96.2 145.8 96.1 C145.9 95.9 146.2 95.8 146.4 95.8 C146.6 95.8 146.9 95.9 147.0 96.1 C147.2 96.2 147.3 96.5 147.3 96.7Z" fill="#1c92ac"/>
<path d="M195.7 71.1 C195.7 71.3 195.6 71.6 195.4 71.7 C195.3 71.9 195.0 72.0 194.8 72.0 C194.6 72.0 194.3 71.9 194.2 71.7 C194.0 71.6 193.9 71.3 193.9 71.1 C193.9 70.9 194.0 70.6 194.2 70.5 C194.3 70.3 194.6 70.2 194.8 70.2 C195.0 70.2 195.3 70.3 195.4 70.5 C195.6 70.6 195.7 70.9 195.7 71.1Z" fill="#80eb34"/>
</g></g>
<text class="s" x="112.3" y="87.7" font-size="3.7" fill="#111">N (%)</text>
<text class="s" x="112.3" y="91.7" font-size="3.7" fill="#111">5-10 cm</text>
<rect x="112.3" y="93.0" width="6.4" height="2.8" fill="#ffff80"/>
<text x="120.2" y="95.4" font-size="2.65" fill="#555">0.02 - 0.05</text>
<rect x="112.3" y="97.6" width="6.4" height="2.8" fill="#c0f55a"/>
<text x="120.2" y="99.9" font-size="2.65" fill="#555">0.05 - 0.08</text>
<rect x="112.3" y="102.2" width="6.4" height="2.8" fill="#80eb34"/>
<text x="120.2" y="104.5" font-size="2.65" fill="#555">0.08 - 0.1</text>
<rect x="112.3" y="106.8" width="6.4" height="2.8" fill="#3cde14"/>
<text x="120.2" y="109.1" font-size="2.65" fill="#555">0.1 - 0.13</text>
<rect x="112.3" y="111.4" width="6.4" height="2.8" fill="#3ec64b"/>
<text x="120.2" y="113.7" font-size="2.65" fill="#555">0.13 - 0.15</text>
<rect x="112.3" y="116.0" width="6.4" height="2.8" fill="#32ac78"/>
<text x="120.2" y="118.3" font-size="2.65" fill="#555">0.15 - 0.16</text>
<rect x="112.3" y="120.5" width="6.4" height="2.8" fill="#1c92ac"/>
<text x="120.2" y="122.9" font-size="2.65" fill="#555">0.16 - 0.19</text>
<rect x="112.3" y="125.1" width="6.4" height="2.8" fill="#1c64a4"/>
<text x="120.2" y="127.5" font-size="2.65" fill="#555">0.19 - 0.24</text>
<rect x="112.3" y="129.7" width="6.4" height="2.8" fill="#1a3794"/>
<text x="120.2" y="132.1" font-size="2.65" fill="#555">0.24 - 0.3</text>
<rect x="112.3" y="134.3" width="6.4" height="2.8" fill="#0e127a"/>
<text x="120.2" y="136.7" font-size="2.65" fill="#555">0.3 - 0.39</text>
<path d="M164.4 136.2H210.8M164.4 136.2v-2.8M176.0 136.2v-2.8M187.6 136.2v-2.8M210.8 136.2v-2.8M170.2 136.2v-1.9M181.8 136.2v-1.9M193.4 136.2v-1.9M199.2 136.2v-1.9M205.0 136.2v-1.9M166.3 136.2v-1.2M168.3 136.2v-1.2" fill="none" stroke="#222" stroke-width="0.55"/>
<text x="164.4" y="131.3" font-size="4.2" font-weight="bold" text-anchor="middle" fill="#111">0</text>
<text x="176.0" y="131.3" font-size="4.2" font-weight="bold" text-anchor="middle" fill="#111">30</text>
<text x="187.6" y="131.3" font-size="4.2" font-weight="bold" text-anchor="middle" fill="#111">60</text>
<text x="206.9" y="131.3" font-size="4.2" font-weight="bold" fill="#111">120 km</text>
<path d="M212.8 10.6l3.2 9.3l-3.2 -2.5l-3.2 2.5z" fill="#000"/>
<text x="212.8" y="8.6" font-size="2.6" text-anchor="middle" fill="#555">N</text>
<g clip-path="url(#c2)"><g filter="url(#b)">
<rect x="223.8" y="-0.8" width="115" height="125" fill="#32ac78"/>
<path d="M246.0 68.0 C248.0 66.2 252.7 65.3 256.0 65.0 C259.3 64.7 262.7 65.5 266.0 66.0 C269.3 66.5 272.7 67.3 276.0 68.0 C279.3 68.7 282.7 69.7 286.0 70.0 C289.3 70.3 292.7 70.3 296.0 70.0 C299.3 69.7 303.0 67.7 306.0 68.0 C309.0 68.3 312.0 70.3 314.0 72.0 C316.0 73.7 318.3 75.7 318.0 78.0 C317.7 80.3 314.3 83.7 312.0 86.0 C309.7 88.3 306.3 89.7 304.0 92.0 C301.7 94.3 299.3 97.3 298.0 100.0 C296.7 102.7 298.0 106.3 296.0 108.0 C294.0 109.7 289.3 108.7 286.0 110.0 C282.7 111.3 279.3 115.7 276.0 116.0 C272.7 116.3 269.3 113.3 266.0 112.0 C262.7 110.7 259.3 109.3 256.0 108.0 C252.7 106.7 248.7 106.0 246.0 104.0 C243.3 102.0 241.0 99.0 240.0 96.0 C239.0 93.0 239.3 89.3 240.0 86.0 C240.7 82.7 243.0 79.0 244.0 76.0 C245.0 73.0 244.0 69.8 246.0 68.0Z" fill="#3ec64b"/>
<path d="M252.0 16.0 C253.7 14.5 258.7 14.3 262.0 13.0 C265.3 11.7 269.0 9.3 272.0 8.0 C275.0 6.7 277.3 4.3 280.0 5.0 C282.7 5.7 285.0 10.2 288.0 12.0 C291.0 13.8 295.0 15.0 298.0 16.0 C301.0 17.0 305.0 16.7 306.0 18.0 C307.0 19.3 305.3 22.3 304.0 24.0 C302.7 25.7 300.3 27.0 298.0 28.0 C295.7 29.0 292.3 30.2 290.0 30.0 C287.7 29.8 286.0 27.7 284.0 27.0 C282.0 26.3 280.0 26.2 278.0 26.0 C276.0 25.8 274.0 26.3 272.0 26.0 C270.0 25.7 268.0 24.3 266.0 24.0 C264.0 23.7 261.8 23.7 260.0 24.0 C258.2 24.3 256.3 26.3 255.0 26.0 C253.7 25.7 252.5 23.7 252.0 22.0 C251.5 20.3 250.3 17.5 252.0 16.0Z" fill="#1c92ac"/>
<path d="M244.0 44.0 C245.0 41.7 247.7 41.8 250.0 42.0 C252.3 42.2 255.7 43.7 258.0 45.0 C260.3 46.3 262.3 48.5 264.0 50.0 C265.7 51.5 266.0 53.0 268.0 54.0 C270.0 55.0 273.3 56.0 276.0 56.0 C278.7 56.0 281.7 54.0 284.0 54.0 C286.3 54.0 288.8 54.7 290.0 56.0 C291.2 57.3 291.7 60.3 291.0 62.0 C290.3 63.7 288.2 65.3 286.0 66.0 C283.8 66.7 280.5 65.9 278.0 66.0 C275.5 66.1 273.7 66.5 271.0 66.5 C268.3 66.5 264.8 66.3 262.0 66.0 C259.2 65.7 256.3 65.2 254.0 64.5 C251.7 63.8 249.7 63.4 248.0 62.0 C246.3 60.6 244.7 59.0 244.0 56.0 C243.3 53.0 243.0 46.3 244.0 44.0Z" fill="#1c92ac"/>
<path d="M268.4 39.1 C268.4 39.7 268.2 40.3 268.0 40.7 C267.7 41.1 267.3 41.5 266.9 41.7 C266.5 41.8 265.9 41.8 265.5 41.7 C265.1 41.5 264.7 41.1 264.4 40.7 C264.2 40.3 264.0 39.7 264.0 39.1 C264.0 38.6 264.2 38.0 264.4 37.6 C264.7 37.2 265.1 36.8 265.5 36.6 C265.9 36.5 266.5 36.5 266.9 36.6 C267.3 36.8 267.7 37.2 268.0 37.6 C268.2 38.0 268.4 38.6 268.4 39.1Z" fill="#1c92ac"/>
<path d="M274.7 48.1 C274.7 48.9 274.5 49.9 274.1 50.6 C273.7 51.2 273.1 51.8 272.5 52.1 C271.9 52.3 271.2 52.3 270.6 52.1 C270.0 51.8 269.4 51.2 269.0 50.6 C268.6 49.9 268.4 48.9 268.4 48.1 C268.4 47.3 268.6 46.3 269.0 45.6 C269.4 45.0 270.0 44.4 270.6 44.1 C271.2 43.9 271.9 43.9 272.5 44.1 C273.1 44.4 273.7 45.0 274.1 45.6 C274.5 46.3 274.7 47.3 274.7 48.1Z" fill="#1c92ac"/>
<path d="M257.0 25.0 C257.9 24.1 260.3 23.3 262.0 23.5 C263.7 23.7 266.1 24.8 267.0 26.0 C267.9 27.2 268.2 29.7 267.7 31.0 C267.2 32.3 265.4 33.6 264.0 34.0 C262.6 34.4 260.2 34.2 259.0 33.4 C257.8 32.6 256.8 30.4 256.5 29.0 C256.2 27.6 256.1 25.9 257.0 25.0Z" fill="#3ec64b"/>
<path d="M253.0 40.0 C253.8 38.5 256.2 37.3 258.0 37.0 C259.8 36.7 262.7 37.0 264.0 38.0 C265.3 39.0 266.3 41.3 266.0 43.0 C265.7 44.7 263.7 46.8 262.0 48.0 C260.3 49.2 257.5 50.3 256.0 50.0 C254.5 49.7 253.5 47.7 253.0 46.0 C252.5 44.3 252.2 41.5 253.0 40.0Z" fill="#3ec64b"/>
<path d="M276.0 34.0 C277.2 33.3 279.8 34.7 281.0 36.0 C282.2 37.3 283.0 39.7 283.0 42.0 C283.0 44.3 282.0 48.3 281.0 50.0 C280.0 51.7 278.0 52.7 277.0 52.0 C276.0 51.3 275.5 48.0 275.0 46.0 C274.5 44.0 273.8 42.0 274.0 40.0 C274.2 38.0 274.8 34.7 276.0 34.0Z" fill="#3ec64b"/>
<path d="M307.4 18.5 C308.4 19.2 306.5 24.4 306.6 26.8 C306.7 29.2 308.5 30.8 308.2 32.6 C307.9 34.4 306.4 36.3 304.9 37.5 C303.4 38.7 300.8 40.0 299.1 40.0 C297.5 40.0 295.8 38.9 295.0 37.5 C294.2 36.1 294.1 33.7 294.2 31.8 C294.3 29.9 294.7 27.5 295.8 26.0 C296.9 24.5 298.9 23.9 300.8 22.7 C302.7 21.4 306.4 17.8 307.4 18.5Z" fill="#3ec64b"/>
<path d="M295.8 62.0 C296.5 60.7 300.3 59.7 302.0 60.0 C303.7 60.3 305.7 62.7 306.0 64.0 C306.3 65.3 305.3 67.3 304.0 68.0 C302.7 68.7 299.4 69.0 298.0 68.0 C296.6 67.0 295.1 63.3 295.8 62.0Z" fill="#3ec64b"/>
<path d="M288.0 50.0 C288.3 47.0 291.3 43.9 294.0 42.0 C296.7 40.1 300.7 38.8 304.0 38.5 C307.3 38.2 311.2 38.6 314.0 40.0 C316.8 41.4 318.7 44.3 321.0 47.0 C323.3 49.7 327.5 53.3 328.0 56.0 C328.5 58.7 326.7 61.7 324.0 63.0 C321.3 64.3 316.0 63.9 312.0 64.0 C308.0 64.1 303.3 64.2 300.0 63.5 C296.7 62.8 294.0 62.2 292.0 60.0 C290.0 57.8 287.7 53.0 288.0 50.0Z" fill="#1c92ac"/>
<path d="M287.3 35.3 C287.3 35.9 287.1 36.7 286.8 37.2 C286.5 37.8 286.0 38.2 285.5 38.4 C285.0 38.6 284.3 38.6 283.8 38.4 C283.3 38.2 282.8 37.8 282.5 37.2 C282.2 36.7 282.0 35.9 282.0 35.3 C282.0 34.7 282.2 33.9 282.5 33.4 C282.8 32.8 283.3 32.4 283.8 32.2 C284.3 32.0 285.0 32.0 285.5 32.2 C286.0 32.4 286.5 32.8 286.8 33.4 C287.1 33.9 287.3 34.7 287.3 35.3Z" fill="#1c92ac"/>
<path d="M234.9 39.2 C236.1 38.7 241.9 39.4 244.5 39.7 C247.1 40.0 249.6 39.9 250.3 40.8 C251.0 41.7 249.2 43.5 248.7 45.0 C248.1 46.5 247.4 48.2 247.0 49.9 C246.6 51.5 246.6 53.4 246.2 54.9 C245.8 56.4 245.2 59.3 244.5 59.0 C243.8 58.7 242.8 55.3 242.0 53.2 C241.2 51.1 240.4 48.4 239.6 46.6 C238.8 44.8 237.9 43.7 237.1 42.5 C236.3 41.3 233.7 39.7 234.9 39.2Z" fill="#1c64a4"/>
<path d="M274.0 8.0 C275.2 5.8 278.6 5.3 280.0 5.0 C281.4 4.7 281.6 5.2 282.6 6.1 C283.6 7.0 284.2 8.9 285.9 10.3 C287.5 11.7 290.7 13.2 292.5 14.4 C294.3 15.6 296.4 16.6 296.7 17.7 C297.0 18.8 295.7 20.2 294.2 21.0 C292.7 21.8 289.8 22.6 287.6 22.7 C285.4 22.8 282.9 21.6 281.0 21.8 C279.1 22.0 277.3 24.6 276.0 24.0 C274.7 23.4 273.3 20.7 273.0 18.0 C272.7 15.3 272.8 10.2 274.0 8.0Z" fill="#1c64a4"/>
<path d="M294.0 49.1 C294.4 47.1 297.1 45.2 299.1 44.0 C301.1 42.8 303.7 42.2 305.8 42.0 C307.9 41.8 309.7 41.7 311.5 42.5 C313.3 43.3 314.8 45.1 316.5 47.0 C318.2 48.9 321.4 52.0 322.0 54.0 C322.6 56.0 321.7 58.0 320.0 59.0 C318.3 60.0 314.7 59.9 312.0 60.0 C309.3 60.1 306.5 60.2 304.0 59.5 C301.5 58.8 298.7 57.7 297.0 56.0 C295.3 54.3 293.6 51.1 294.0 49.1Z" fill="#1c64a4"/>
<path d="M246.9 41.7 C246.9 42.1 246.7 42.5 246.5 42.8 C246.2 43.0 245.8 43.2 245.4 43.2 C245.0 43.2 244.6 43.0 244.3 42.8 C244.1 42.5 243.9 42.1 243.9 41.7 C243.9 41.3 244.1 40.9 244.3 40.6 C244.6 40.4 245.0 40.2 245.4 40.2 C245.8 40.2 246.2 40.4 246.5 40.6 C246.7 40.9 246.9 41.3 246.9 41.7Z" fill="#1a3794"/>
<path d="M263.1 19.4 C263.1 19.7 262.9 20.0 262.7 20.2 C262.5 20.4 262.2 20.6 261.9 20.6 C261.6 20.6 261.3 20.4 261.1 20.2 C260.9 20.0 260.7 19.7 260.7 19.4 C260.7 19.1 260.9 18.8 261.1 18.6 C261.3 18.4 261.6 18.2 261.9 18.2 C262.2 18.2 262.5 18.4 262.7 18.6 C262.9 18.8 263.1 19.1 263.1 19.4Z" fill="#1a3794"/>
<path d="M305.2 46.6 C305.2 46.9 305.1 47.2 304.9 47.4 C304.7 47.6 304.4 47.7 304.1 47.7 C303.8 47.7 303.5 47.6 303.3 47.4 C303.1 47.2 303.0 46.9 303.0 46.6 C303.0 46.3 303.1 46.0 303.3 45.8 C303.5 45.6 303.8 45.5 304.1 45.5 C304.4 45.5 304.7 45.6 304.9 45.8 C305.1 46.0 305.2 46.3 305.2 46.6Z" fill="#1a3794"/>
<path d="M254.5 72.0 C255.5 70.3 257.4 68.8 260.0 68.0 C262.6 67.2 266.7 67.1 270.0 67.0 C273.3 66.9 277.2 67.0 280.0 67.5 C282.8 68.0 285.6 68.4 287.0 70.0 C288.4 71.6 288.8 74.7 288.5 77.0 C288.2 79.3 286.8 82.3 285.0 84.0 C283.2 85.7 280.5 86.4 278.0 87.0 C275.5 87.6 272.7 87.6 270.0 87.5 C267.3 87.4 264.2 87.2 262.0 86.5 C259.8 85.8 257.8 84.4 256.5 83.0 C255.2 81.6 254.3 79.8 254.0 78.0 C253.7 76.2 253.5 73.7 254.5 72.0Z" fill="#3cde14"/>
<path d="M254.4 74.0 C254.9 72.5 256.4 70.8 258.0 70.0 C259.6 69.2 262.2 68.7 264.0 69.0 C265.8 69.3 267.8 70.5 268.5 72.0 C269.2 73.5 268.8 76.3 268.0 78.0 C267.2 79.7 265.7 81.3 264.0 82.0 C262.3 82.7 259.5 82.8 258.0 82.3 C256.5 81.8 255.6 80.4 255.0 79.0 C254.4 77.6 253.9 75.5 254.4 74.0Z" fill="#80eb34"/>
<path d="M267.3 75.7 C267.3 76.0 267.1 76.4 266.9 76.6 C266.7 76.8 266.3 77.0 266.0 77.0 C265.7 77.0 265.3 76.8 265.1 76.6 C264.9 76.4 264.7 76.0 264.7 75.7 C264.7 75.4 264.9 75.0 265.1 74.8 C265.3 74.6 265.7 74.4 266.0 74.4 C266.3 74.4 266.7 74.6 266.9 74.8 C267.1 75.0 267.3 75.4 267.3 75.7Z" fill="#c0f55a"/>
<path d="M256.7 92.7 C256.7 93.0 256.5 93.5 256.3 93.7 C256.1 93.9 255.6 94.1 255.3 94.1 C255.0 94.1 254.5 93.9 254.3 93.7 C254.1 93.5 253.9 93.0 253.9 92.7 C253.9 92.4 254.1 91.9 254.3 91.7 C254.5 91.5 255.0 91.3 255.3 91.3 C255.6 91.3 256.1 91.5 256.3 91.7 C256.5 91.9 256.7 92.4 256.7 92.7Z" fill="#80eb34"/>
<path d="M250.7 82.3 C250.7 82.8 250.4 83.4 250.1 83.7 C249.8 84.0 249.2 84.3 248.7 84.3 C248.2 84.3 247.6 84.0 247.3 83.7 C247.0 83.4 246.7 82.8 246.7 82.3 C246.7 81.8 247.0 81.2 247.3 80.9 C247.6 80.6 248.2 80.3 248.7 80.3 C249.2 80.3 249.8 80.6 250.1 80.9 C250.4 81.2 250.7 81.8 250.7 82.3Z" fill="#32ac78"/>
<path d="M258.9 98.8 C258.9 99.6 258.4 100.7 257.8 101.3 C257.2 101.9 256.1 102.4 255.3 102.4 C254.5 102.4 253.4 101.9 252.8 101.3 C252.2 100.7 251.7 99.6 251.7 98.8 C251.7 98.0 252.2 96.9 252.8 96.3 C253.4 95.7 254.5 95.2 255.3 95.2 C256.1 95.2 257.2 95.7 257.8 96.3 C258.4 96.9 258.9 98.0 258.9 98.8Z" fill="#32ac78"/>
<path d="M278.8 94.7 C278.8 95.4 278.4 96.2 278.0 96.7 C277.5 97.1 276.7 97.5 276.0 97.5 C275.3 97.5 274.5 97.1 274.0 96.7 C273.6 96.2 273.2 95.4 273.2 94.7 C273.2 94.0 273.6 93.2 274.0 92.7 C274.5 92.3 275.3 91.9 276.0 91.9 C276.7 91.9 277.5 92.3 278.0 92.7 C278.4 93.2 278.8 94.0 278.8 94.7Z" fill="#32ac78"/>
<path d="M280.8 108.7 C280.8 109.6 280.3 110.8 279.7 111.4 C279.1 112.0 277.9 112.5 277.0 112.5 C276.1 112.5 274.9 112.0 274.3 111.4 C273.7 110.8 273.2 109.6 273.2 108.7 C273.2 107.8 273.7 106.6 274.3 106.0 C274.9 105.4 276.1 104.9 277.0 104.9 C277.9 104.9 279.1 105.4 279.7 106.0 C280.3 106.6 280.8 107.8 280.8 108.7Z" fill="#80eb34"/>
<path d="M312.0 72.5 C312.0 73.6 311.4 74.9 310.6 75.7 C309.7 76.6 308.2 77.4 306.8 77.7 C305.4 78.1 303.6 78.1 302.2 77.7 C300.8 77.4 299.3 76.6 298.4 75.7 C297.6 74.9 297.0 73.6 297.0 72.5 C297.0 71.4 297.6 70.1 298.4 69.3 C299.3 68.4 300.8 67.6 302.2 67.3 C303.6 66.9 305.4 66.9 306.8 67.3 C308.2 67.6 309.7 68.4 310.6 69.3 C311.4 70.1 312.0 71.4 312.0 72.5Z" fill="#3cde14"/>
<path d="M308.2 72.4 C308.2 73.2 307.8 74.2 307.2 74.7 C306.7 75.3 305.7 75.7 304.9 75.7 C304.1 75.7 303.1 75.3 302.6 74.7 C302.0 74.2 301.6 73.2 301.6 72.4 C301.6 71.6 302.0 70.6 302.6 70.1 C303.1 69.5 304.1 69.1 304.9 69.1 C305.7 69.1 306.7 69.5 307.2 70.1 C307.8 70.6 308.2 71.6 308.2 72.4Z" fill="#80eb34"/>
<path d="M306.5 72.2 C306.5 72.6 306.3 73.1 306.0 73.3 C305.8 73.6 305.3 73.8 304.9 73.8 C304.5 73.8 304.0 73.6 303.8 73.3 C303.5 73.1 303.3 72.6 303.3 72.2 C303.3 71.8 303.5 71.3 303.8 71.1 C304.0 70.8 304.5 70.6 304.9 70.6 C305.3 70.6 305.8 70.8 306.0 71.1 C306.3 71.3 306.5 71.8 306.5 72.2Z" fill="#ffff80"/>
<path d="M302.2 76.2 C302.2 76.5 302.0 77.0 301.8 77.2 C301.6 77.4 301.1 77.6 300.8 77.6 C300.5 77.6 300.0 77.4 299.8 77.2 C299.6 77.0 299.4 76.5 299.4 76.2 C299.4 75.9 299.6 75.4 299.8 75.2 C300.0 75.0 300.5 74.8 300.8 74.8 C301.1 74.8 301.6 75.0 301.8 75.2 C302.0 75.4 302.2 75.9 302.2 76.2Z" fill="#1c92ac"/>
<path d="M295.8 79.8 C295.8 80.8 295.5 81.9 295.1 82.7 C294.7 83.5 293.9 84.3 293.2 84.6 C292.6 84.9 291.6 84.9 291.0 84.6 C290.3 84.3 289.5 83.5 289.1 82.7 C288.7 81.9 288.4 80.8 288.4 79.8 C288.4 78.8 288.7 77.7 289.1 76.9 C289.5 76.1 290.3 75.3 291.0 75.0 C291.6 74.7 292.6 74.7 293.2 75.0 C293.9 75.3 294.7 76.1 295.1 76.9 C295.5 77.7 295.8 78.8 295.8 79.8Z" fill="#32ac78"/>
<path d="M297.5 91.3 C297.5 92.3 297.2 93.5 296.8 94.3 C296.4 95.0 295.6 95.8 294.9 96.1 C294.2 96.4 293.3 96.4 292.6 96.1 C291.9 95.8 291.1 95.0 290.7 94.3 C290.3 93.5 290.0 92.3 290.0 91.3 C290.0 90.4 290.3 89.2 290.7 88.4 C291.1 87.7 291.9 86.9 292.6 86.6 C293.3 86.3 294.2 86.3 294.9 86.6 C295.6 86.9 296.4 87.7 296.8 88.4 C297.2 89.2 297.5 90.4 297.5 91.3Z" fill="#32ac78"/>
<path d="M299.0 101.3 C299.0 101.9 298.8 102.7 298.4 103.2 C298.0 103.8 297.4 104.2 296.8 104.4 C296.1 104.6 295.4 104.6 294.7 104.4 C294.1 104.2 293.5 103.8 293.1 103.2 C292.7 102.7 292.5 101.9 292.5 101.3 C292.5 100.7 292.7 99.9 293.1 99.4 C293.5 98.8 294.1 98.4 294.7 98.2 C295.4 98.0 296.1 98.0 296.8 98.2 C297.4 98.4 298.0 98.8 298.4 99.4 C298.8 99.9 299.0 100.7 299.0 101.3Z" fill="#32ac78"/>
<path d="M306.0 70.0 C307.7 68.0 311.3 67.3 314.0 66.0 C316.7 64.7 321.0 61.3 322.0 62.0 C323.0 62.7 321.3 67.3 320.0 70.0 C318.7 72.7 316.0 76.0 314.0 78.0 C312.0 80.0 309.7 82.0 308.0 82.0 C306.3 82.0 304.3 80.0 304.0 78.0 C303.7 76.0 304.3 72.0 306.0 70.0Z" fill="#32ac78"/>
</g></g>
<text class="s" x="222.8" y="88.5" font-size="3.7" fill="#111">N (%)</text>
<text class="s" x="222.8" y="92.2" font-size="3.7" fill="#111">&gt;10 cm</text>
<rect x="222.8" y="94.2" width="6.4" height="2.8" fill="#ffff80"/>
<text x="230.7" y="96.5" font-size="2.65" fill="#555">0.01 - 0.03</text>
<rect x="222.8" y="98.5" width="6.4" height="2.8" fill="#c0f55a"/>
<text x="230.7" y="100.9" font-size="2.65" fill="#555">0.03 - 0.05</text>
<rect x="222.8" y="102.8" width="6.4" height="2.8" fill="#80eb34"/>
<text x="230.7" y="105.2" font-size="2.65" fill="#555">0.05 - 0.06</text>
<rect x="222.8" y="107.2" width="6.4" height="2.8" fill="#3cde14"/>
<text x="230.7" y="109.5" font-size="2.65" fill="#555">0.06 - 0.07</text>
<rect x="222.8" y="111.5" width="6.4" height="2.8" fill="#3ec64b"/>
<text x="230.7" y="113.8" font-size="2.65" fill="#555">0.07 - 0.08</text>
<rect x="222.8" y="115.8" width="6.4" height="2.8" fill="#32ac78"/>
<text x="230.7" y="118.1" font-size="2.65" fill="#555">0.08 - 0.1</text>
<rect x="222.8" y="120.1" width="6.4" height="2.8" fill="#1c92ac"/>
<text x="230.7" y="122.5" font-size="2.65" fill="#555">0.1 - 0.13</text>
<rect x="222.8" y="124.4" width="6.4" height="2.8" fill="#1c64a4"/>
<text x="230.7" y="126.8" font-size="2.65" fill="#555">0.13 - 0.16</text>
<rect x="222.8" y="128.8" width="6.4" height="2.8" fill="#1a3794"/>
<text x="230.7" y="131.1" font-size="2.65" fill="#555">0.16 - 0.2</text>
<rect x="222.8" y="133.1" width="6.4" height="2.8" fill="#0e127a"/>
<text x="230.7" y="135.4" font-size="2.65" fill="#555">0.2 - 0.26</text>
<path d="M273.9 136.2H320.3M273.9 136.2v-2.8M285.5 136.2v-2.8M297.1 136.2v-2.8M320.3 136.2v-2.8M279.7 136.2v-1.9M291.3 136.2v-1.9M302.9 136.2v-1.9M308.7 136.2v-1.9M314.5 136.2v-1.9M275.8 136.2v-1.2M277.8 136.2v-1.2" fill="none" stroke="#222" stroke-width="0.55"/>
<text x="273.9" y="131.3" font-size="4.2" font-weight="bold" text-anchor="middle" fill="#111">0</text>
<text x="285.5" y="131.3" font-size="4.2" font-weight="bold" text-anchor="middle" fill="#111">30</text>
<text x="297.1" y="131.3" font-size="4.2" font-weight="bold" text-anchor="middle" fill="#111">60</text>
<text x="316.4" y="131.3" font-size="4.2" font-weight="bold" fill="#111">120 km</text>
<path d="M324.3 12.2l3.2 9.3l-3.2 -2.5l-3.2 2.5z" fill="#000"/>
<text x="324.3" y="10.2" font-size="2.6" text-anchor="middle" fill="#555">N</text>
<g clip-path="url(#c3)"><g filter="url(#b)">
<rect x="5.0" y="135.5" width="115" height="125" fill="#1c92ac"/>
<path d="M10.0 140.0 C27.5 130.0 97.5 132.3 115.0 140.0 C132.5 147.7 116.6 177.3 115.0 186.0 C113.4 194.7 108.5 190.7 105.6 191.9 C102.6 193.2 100.1 193.2 97.3 193.5 C94.5 193.8 91.8 193.3 89.0 193.5 C86.2 193.7 83.5 194.7 80.8 194.4 C78.0 194.1 75.2 192.9 72.5 191.9 C69.8 190.9 66.9 189.8 64.3 188.6 C61.7 187.4 59.0 185.9 57.1 184.5 C55.2 183.1 54.2 181.7 53.0 180.3 C51.8 178.9 51.0 176.5 49.7 176.2 C48.5 175.9 46.6 178.4 45.5 178.7 C44.4 179.0 44.2 177.7 43.0 177.8 C41.8 177.9 39.5 178.2 38.1 179.5 C36.7 180.8 36.0 183.0 34.8 185.3 C33.6 187.6 32.1 191.6 30.7 193.5 C29.3 195.4 28.3 195.8 26.5 196.9 C24.7 198.0 22.8 199.5 20.0 200.0 C17.2 200.5 11.7 210.0 10.0 200.0 C8.3 190.0 -7.5 150.0 10.0 140.0Z" fill="#32ac78"/>
<path d="M10.0 140.0 C25.0 131.7 86.3 136.7 100.0 140.0 C113.7 143.3 94.0 155.5 92.0 160.0 C90.0 164.5 89.4 165.6 88.2 167.1 C87.0 168.6 86.1 168.2 84.9 168.8 C83.7 169.4 81.5 168.8 80.8 170.4 C80.1 172.1 81.6 176.5 80.8 178.7 C80.0 180.9 77.7 182.6 75.8 183.6 C73.9 184.6 71.4 185.1 69.2 184.5 C67.0 183.9 64.5 181.4 62.6 180.3 C60.7 179.2 59.4 178.8 57.9 177.8 C56.4 176.8 55.4 175.6 53.8 174.5 C52.1 173.4 49.8 172.0 48.0 171.2 C46.2 170.4 44.8 169.9 43.0 169.6 C41.2 169.3 38.7 168.8 37.3 169.6 C35.9 170.4 35.6 172.4 34.8 174.5 C34.0 176.6 33.1 179.7 32.3 182.0 C31.5 184.3 30.9 186.7 29.8 188.6 C28.7 190.5 27.7 192.6 25.7 193.5 C23.7 194.4 20.6 194.6 18.0 194.0 C15.4 193.4 11.3 199.0 10.0 190.0 C8.7 181.0 -5.0 148.3 10.0 140.0Z" fill="#3ec64b"/>
<path d="M34.0 150.0 C34.7 148.0 37.8 148.0 40.0 148.0 C42.2 148.0 45.0 149.3 47.0 150.0 C49.0 150.7 51.5 150.3 52.0 152.0 C52.5 153.7 50.7 157.3 50.0 160.0 C49.3 162.7 49.3 166.5 48.0 168.0 C46.7 169.5 43.8 169.0 42.0 169.0 C40.2 169.0 38.0 169.5 37.0 168.0 C36.0 166.5 36.5 163.0 36.0 160.0 C35.5 157.0 33.3 152.0 34.0 150.0Z" fill="#3cde14"/>
<path d="M57.0 164.0 C57.2 162.2 59.0 160.5 60.0 160.0 C61.0 159.5 61.8 160.2 63.0 161.0 C64.2 161.8 65.8 163.5 67.0 165.0 C68.2 166.5 70.1 167.8 70.5 170.0 C70.9 172.2 70.4 176.0 69.5 178.0 C68.6 180.0 66.3 182.2 65.0 182.0 C63.7 181.8 62.6 178.8 61.5 177.0 C60.4 175.2 59.2 173.2 58.5 171.0 C57.8 168.8 56.8 165.8 57.0 164.0Z" fill="#3cde14"/>
<path d="M48.0 147.0 C48.7 145.8 50.7 145.0 52.0 145.0 C53.3 145.0 55.5 145.7 56.0 147.0 C56.5 148.3 55.8 151.7 55.0 153.0 C54.2 154.3 52.2 155.2 51.0 155.0 C49.8 154.8 48.5 153.3 48.0 152.0 C47.5 150.7 47.3 148.2 48.0 147.0Z" fill="#3cde14"/>
<path d="M40.6 205.7 C41.0 204.9 44.0 203.9 45.5 204.1 C47.0 204.2 48.7 205.4 49.7 206.6 C50.7 207.8 50.8 209.8 51.3 211.5 C51.8 213.2 52.7 215.8 52.6 216.5 C52.5 217.2 51.4 216.5 50.5 215.7 C49.6 214.9 48.5 212.6 47.2 211.5 C46.0 210.4 44.1 210.0 43.0 209.0 C41.9 208.0 40.2 206.5 40.6 205.7Z" fill="#32ac78"/>
<path d="M91.6 209.4 C91.6 210.6 90.7 212.1 89.5 212.9 C88.4 213.8 86.2 214.4 84.6 214.4 C83.0 214.4 80.8 213.8 79.7 212.9 C78.5 212.1 77.6 210.6 77.6 209.4 C77.6 208.2 78.5 206.7 79.7 205.9 C80.8 205.0 83.0 204.4 84.6 204.4 C86.2 204.4 88.4 205.0 89.5 205.9 C90.7 206.7 91.6 208.2 91.6 209.4Z" fill="#32ac78"/>
<path d="M38.1 242.9 C38.0 241.9 39.4 239.8 40.6 238.8 C41.8 237.8 43.9 237.5 45.5 237.1 C47.1 236.7 49.1 235.9 50.5 236.3 C51.9 236.7 52.6 239.2 53.8 239.6 C55.0 240.0 56.5 239.2 57.9 238.8 C59.3 238.4 60.5 236.9 62.0 237.1 C63.5 237.3 66.0 237.9 66.7 240.0 C67.4 242.1 67.2 247.8 66.0 249.5 C64.8 251.2 61.6 250.4 59.6 250.4 C57.6 250.4 55.4 250.2 53.8 249.5 C52.1 248.8 51.1 246.9 49.7 246.2 C48.3 245.5 46.9 245.7 45.5 245.4 C44.1 245.1 42.6 245.0 41.4 244.6 C40.2 244.2 38.2 243.9 38.1 242.9Z" fill="#1c64a4"/>
<path d="M59.6 243.7 C59.6 244.1 59.3 244.6 59.0 244.8 C58.6 245.1 58.0 245.3 57.5 245.3 C57.0 245.3 56.4 245.1 56.0 244.8 C55.7 244.6 55.4 244.1 55.4 243.7 C55.4 243.3 55.7 242.8 56.0 242.6 C56.4 242.3 57.0 242.1 57.5 242.1 C58.0 242.1 58.6 242.3 59.0 242.6 C59.3 242.8 59.6 243.3 59.6 243.7Z" fill="#1c92ac"/>
</g></g>
<text class="s" x="2.8" y="225.1" font-size="3.7" fill="#111">P (ppm)</text>
<text class="s" x="2.8" y="229.2" font-size="3.7" fill="#111">0-5 cm</text>
<rect x="2.8" y="230.0" width="6.4" height="2.8" fill="#ffff80"/>
<text x="10.7" y="232.3" font-size="2.65" fill="#555">4.6 - 7.56</text>
<rect x="2.8" y="234.4" width="6.4" height="2.8" fill="#c0f55a"/>
<text x="10.7" y="236.8" font-size="2.65" fill="#555">7.56 - 8.99</text>
<rect x="2.8" y="238.9" width="6.4" height="2.8" fill="#80eb34"/>
<text x="10.7" y="241.2" font-size="2.65" fill="#555">8.99 - 9.69</text>
<rect x="2.8" y="243.3" width="6.4" height="2.8" fill="#3cde14"/>
<text x="10.7" y="245.6" font-size="2.65" fill="#555">9.69 - 14.54</text>
<rect x="2.8" y="247.7" width="6.4" height="2.8" fill="#3ec64b"/>
<text x="10.7" y="250.1" font-size="2.65" fill="#555">14.54 - 20.23</text>
<rect x="2.8" y="252.2" width="6.4" height="2.8" fill="#32ac78"/>
<text x="10.7" y="254.5" font-size="2.65" fill="#555">20.23 - 27.17</text>
<rect x="2.8" y="256.6" width="6.4" height="2.8" fill="#1c92ac"/>
<text x="10.7" y="258.9" font-size="2.65" fill="#555">27.17 - 35.65</text>
<rect x="2.8" y="261.0" width="6.4" height="2.8" fill="#1c64a4"/>
<text x="10.7" y="263.4" font-size="2.65" fill="#555">35.65 - 46</text>
<rect x="2.8" y="265.4" width="6.4" height="2.8" fill="#1a3794"/>
<text x="10.7" y="267.8" font-size="2.65" fill="#555">46 - 58.65</text>
<rect x="2.8" y="269.9" width="6.4" height="2.8" fill="#0e127a"/>
<text x="10.7" y="272.2" font-size="2.65" fill="#555">58.65 - 69</text>
<path d="M53.9 272.5H100.3M53.9 272.5v-2.8M65.5 272.5v-2.8M77.1 272.5v-2.8M100.3 272.5v-2.8M59.7 272.5v-1.9M71.3 272.5v-1.9M82.9 272.5v-1.9M88.7 272.5v-1.9M94.5 272.5v-1.9M55.8 272.5v-1.2M57.8 272.5v-1.2" fill="none" stroke="#222" stroke-width="0.55"/>
<text x="53.9" y="267.6" font-size="4.2" font-weight="bold" text-anchor="middle" fill="#111">0</text>
<text x="65.5" y="267.6" font-size="4.2" font-weight="bold" text-anchor="middle" fill="#111">30</text>
<text x="77.1" y="267.6" font-size="4.2" font-weight="bold" text-anchor="middle" fill="#111">60</text>
<text x="96.4" y="267.6" font-size="4.2" font-weight="bold" fill="#111">120 km</text>
<path d="M105.8 146.2l3.2 9.3l-3.2 -2.5l-3.2 2.5z" fill="#000"/>
<text x="105.8" y="144.2" font-size="2.6" text-anchor="middle" fill="#555">N</text>
<g clip-path="url(#c4)"><g filter="url(#b)">
<rect x="113.7" y="135.3" width="115" height="125" fill="#1c92ac"/>
<path d="M118.0 140.0 C135.8 131.3 207.2 135.3 225.0 140.0 C242.8 144.7 227.5 162.7 225.0 168.0 C222.5 173.3 213.9 170.7 210.0 172.0 C206.1 173.3 204.0 173.0 201.5 176.0 C199.0 179.0 197.9 187.5 195.0 190.0 C192.1 192.5 186.8 191.2 183.9 191.0 C181.0 190.8 179.9 189.1 177.6 188.9 C175.3 188.7 172.5 190.2 170.2 190.0 C167.9 189.8 165.5 189.3 163.9 187.9 C162.3 186.5 161.9 183.5 160.7 181.6 C159.5 179.7 158.2 177.2 156.5 176.3 C154.8 175.4 152.3 175.4 150.2 176.3 C148.1 177.2 146.0 179.8 143.9 181.6 C141.8 183.3 139.7 185.4 137.6 186.8 C135.5 188.2 134.6 189.1 131.3 190.0 C128.0 190.9 120.2 200.3 118.0 192.0 C115.8 183.7 100.2 148.7 118.0 140.0Z" fill="#32ac78"/>
<path d="M125.0 174.5 C125.7 173.3 130.5 174.8 133.0 175.0 C135.5 175.2 137.8 175.2 140.0 175.5 C142.2 175.8 145.0 176.1 146.0 177.0 C147.0 177.9 147.0 179.8 146.0 181.0 C145.0 182.2 142.0 183.2 140.0 184.0 C138.0 184.8 135.8 186.3 134.0 186.0 C132.2 185.7 130.5 183.9 129.0 182.0 C127.5 180.1 124.3 175.7 125.0 174.5Z" fill="#3ec64b"/>
<path d="M158.0 151.0 C158.3 149.3 160.2 147.5 162.0 146.0 C163.8 144.5 167.1 142.0 168.8 142.0 C170.5 142.0 171.6 144.3 172.0 146.0 C172.4 147.7 172.0 150.5 171.0 152.0 C170.0 153.5 167.8 154.3 166.0 155.0 C164.2 155.7 161.3 156.7 160.0 156.0 C158.7 155.3 157.7 152.7 158.0 151.0Z" fill="#3ec64b"/>
<path d="M146.0 159.0 C146.5 158.2 150.0 161.8 152.0 162.0 C154.0 162.2 156.7 159.5 158.0 160.0 C159.3 160.5 160.5 163.5 160.0 165.0 C159.5 166.5 156.8 168.7 155.0 169.0 C153.2 169.3 150.5 168.7 149.0 167.0 C147.5 165.3 145.5 159.8 146.0 159.0Z" fill="#3ec64b"/>
<path d="M163.5 170.0 C164.5 168.2 167.6 167.3 170.0 167.0 C172.4 166.7 175.3 168.0 178.0 168.0 C180.7 168.0 183.5 166.7 186.0 167.0 C188.5 167.3 191.7 168.2 193.0 170.0 C194.3 171.8 194.2 175.5 193.7 178.0 C193.2 180.5 191.9 183.3 190.0 185.0 C188.1 186.7 184.7 187.5 182.0 188.0 C179.3 188.5 176.3 188.5 174.0 188.0 C171.7 187.5 169.7 186.7 168.0 185.0 C166.3 183.3 164.8 180.5 164.0 178.0 C163.2 175.5 162.5 171.8 163.5 170.0Z" fill="#3ec64b"/>
<path d="M174.0 176.6 C174.0 177.3 173.7 178.2 173.3 178.8 C172.9 179.4 172.1 180.0 171.4 180.2 C170.7 180.4 169.8 180.4 169.1 180.2 C168.4 180.0 167.6 179.4 167.2 178.8 C166.8 178.2 166.5 177.3 166.5 176.6 C166.5 175.9 166.8 175.0 167.2 174.4 C167.6 173.8 168.4 173.2 169.1 173.0 C169.8 172.8 170.7 172.8 171.4 173.0 C172.1 173.2 172.9 173.8 173.3 174.4 C173.7 175.0 174.0 175.9 174.0 176.6Z" fill="#3cde14"/>
<path d="M170.9 177.2 C170.9 177.6 170.7 178.1 170.4 178.3 C170.2 178.6 169.7 178.8 169.3 178.8 C168.9 178.8 168.4 178.6 168.2 178.3 C167.9 178.1 167.7 177.6 167.7 177.2 C167.7 176.8 167.9 176.3 168.2 176.1 C168.4 175.8 168.9 175.6 169.3 175.6 C169.7 175.6 170.2 175.8 170.4 176.1 C170.7 176.3 170.9 176.8 170.9 177.2Z" fill="#80eb34"/>
<path d="M141.0 152.0 C141.2 150.7 144.0 149.4 146.0 149.0 C148.0 148.6 150.9 149.2 153.0 149.5 C155.1 149.8 157.4 149.6 158.5 150.5 C159.6 151.4 159.8 153.4 159.5 155.0 C159.2 156.6 157.5 158.5 156.5 160.0 C155.5 161.5 154.8 163.9 153.5 164.0 C152.2 164.1 150.4 161.7 149.0 160.5 C147.6 159.3 146.3 158.4 145.0 157.0 C143.7 155.6 140.8 153.3 141.0 152.0Z" fill="#80eb34"/>
<path d="M143.5 152.5 C143.5 151.6 145.2 150.5 146.4 150.2 C147.7 149.9 149.4 150.3 151.0 150.5 C152.6 150.7 154.9 150.9 156.0 151.5 C157.1 152.1 157.7 152.9 157.5 154.0 C157.3 155.1 155.7 156.8 155.0 158.0 C154.3 159.2 154.0 161.1 153.3 161.2 C152.6 161.3 151.8 159.8 150.6 158.8 C149.4 157.9 147.6 156.6 146.4 155.5 C145.2 154.4 143.5 153.4 143.5 152.5Z" fill="#ffff80"/>
<path d="M192.0 161.5 C192.0 162.8 191.7 164.4 191.1 165.5 C190.6 166.6 189.7 167.6 188.9 168.0 C188.1 168.4 186.9 168.4 186.1 168.0 C185.3 167.6 184.4 166.6 183.9 165.5 C183.3 164.4 183.0 162.8 183.0 161.5 C183.0 160.2 183.3 158.6 183.9 157.5 C184.4 156.4 185.3 155.4 186.1 155.0 C186.9 154.6 188.1 154.6 188.9 155.0 C189.7 155.4 190.6 156.4 191.1 157.5 C191.7 158.6 192.0 160.2 192.0 161.5Z" fill="#1c92ac"/>
<path d="M139.7 201.5 C141.2 199.8 141.5 196.9 142.9 195.2 C144.3 193.4 146.5 192.1 148.1 191.0 C149.7 189.9 150.9 190.0 152.3 188.9 C153.7 187.8 154.6 185.2 156.5 184.7 C158.4 184.2 161.6 184.8 163.9 185.8 C166.2 186.9 168.3 189.1 170.2 191.0 C172.1 192.9 174.3 195.6 175.5 197.3 C176.7 199.1 177.6 200.7 177.1 201.5 C176.6 202.3 174.0 202.3 172.3 202.0 C170.6 201.7 168.8 200.0 167.0 199.4 C165.2 198.8 163.6 198.4 161.8 198.4 C160.1 198.4 158.2 198.5 156.5 199.4 C154.8 200.3 152.7 201.8 151.3 203.6 C149.9 205.3 148.4 208.0 148.1 209.9 C147.8 211.8 148.5 213.6 149.2 215.2 C149.9 216.8 151.1 219.1 152.3 219.4 C153.5 219.8 154.9 218.1 156.5 217.3 C158.1 216.5 159.7 215.5 161.8 214.6 C163.9 213.7 167.0 211.9 169.1 212.0 C171.2 212.1 173.3 213.4 174.4 215.2 C175.5 217.0 175.8 220.0 175.5 222.6 C175.2 225.2 173.7 228.6 172.3 231.0 C170.9 233.4 168.6 235.2 167.0 237.3 C165.4 239.4 163.3 241.6 162.8 243.6 C162.3 245.6 165.0 248.4 163.9 249.5 C162.8 250.6 159.1 250.8 156.5 250.0 C153.9 249.2 150.9 247.0 148.1 245.0 C145.3 243.0 142.7 240.8 139.7 238.0 C136.7 235.2 131.9 231.4 130.0 228.0 C128.1 224.6 128.0 220.1 128.0 217.3 C128.0 214.5 129.0 212.9 130.0 211.0 C131.0 209.1 132.4 207.3 134.0 205.7 C135.6 204.1 138.2 203.2 139.7 201.5Z" fill="#1c64a4"/>
<path d="M157.2 210.6 C157.2 211.0 157.0 211.5 156.7 211.8 C156.4 212.1 155.9 212.3 155.5 212.3 C155.1 212.3 154.6 212.1 154.3 211.8 C154.0 211.5 153.8 211.0 153.8 210.6 C153.8 210.2 154.0 209.7 154.3 209.4 C154.6 209.1 155.1 208.9 155.5 208.9 C155.9 208.9 156.4 209.1 156.7 209.4 C157.0 209.7 157.2 210.2 157.2 210.6Z" fill="#32ac78"/>
<path d="M148.4 222.6 C148.4 223.3 148.0 224.2 147.5 224.7 C147.0 225.2 146.1 225.6 145.4 225.6 C144.7 225.6 143.8 225.2 143.3 224.7 C142.8 224.2 142.4 223.3 142.4 222.6 C142.4 221.9 142.8 221.0 143.3 220.5 C143.8 220.0 144.7 219.6 145.4 219.6 C146.1 219.6 147.0 220.0 147.5 220.5 C148.0 221.0 148.4 221.9 148.4 222.6Z" fill="#1a3794"/>
<path d="M155.8 226.3 C155.8 226.6 155.6 227.1 155.4 227.3 C155.2 227.5 154.7 227.7 154.4 227.7 C154.1 227.7 153.6 227.5 153.4 227.3 C153.2 227.1 153.0 226.6 153.0 226.3 C153.0 226.0 153.2 225.5 153.4 225.3 C153.6 225.1 154.1 224.9 154.4 224.9 C154.7 224.9 155.2 225.1 155.4 225.3 C155.6 225.5 155.8 226.0 155.8 226.3Z" fill="#1c92ac"/>
<path d="M152.6 178.4 C152.6 178.7 152.4 179.1 152.2 179.3 C152.0 179.5 151.6 179.7 151.3 179.7 C151.0 179.7 150.6 179.5 150.4 179.3 C150.2 179.1 150.0 178.7 150.0 178.4 C150.0 178.1 150.2 177.7 150.4 177.5 C150.6 177.3 151.0 177.1 151.3 177.1 C151.6 177.1 152.0 177.3 152.2 177.5 C152.4 177.7 152.6 178.1 152.6 178.4Z" fill="#1c64a4"/>
<path d="M144.1 185.1 C144.1 185.4 143.9 185.7 143.7 185.9 C143.5 186.1 143.2 186.3 142.9 186.3 C142.6 186.3 142.3 186.1 142.1 185.9 C141.9 185.7 141.7 185.4 141.7 185.1 C141.7 184.8 141.9 184.5 142.1 184.3 C142.3 184.1 142.6 183.9 142.9 183.9 C143.2 183.9 143.5 184.1 143.7 184.3 C143.9 184.5 144.1 184.8 144.1 185.1Z" fill="#1c64a4"/>
<path d="M155.3 183.3 C155.3 183.5 155.2 183.8 155.0 183.9 C154.9 184.1 154.6 184.2 154.4 184.2 C154.2 184.2 153.9 184.1 153.8 183.9 C153.6 183.8 153.5 183.5 153.5 183.3 C153.5 183.1 153.6 182.8 153.8 182.7 C153.9 182.5 154.2 182.4 154.4 182.4 C154.6 182.4 154.9 182.5 155.0 182.7 C155.2 182.8 155.3 183.1 155.3 183.3Z" fill="#1c64a4"/>
<path d="M185.3 200.5 C185.3 201.1 184.9 201.8 184.3 202.2 C183.7 202.6 182.6 202.9 181.8 202.9 C181.0 202.9 179.9 202.6 179.3 202.2 C178.7 201.8 178.3 201.1 178.3 200.5 C178.3 199.9 178.7 199.2 179.3 198.8 C179.9 198.4 181.0 198.1 181.8 198.1 C182.6 198.1 183.7 198.4 184.3 198.8 C184.9 199.2 185.3 199.9 185.3 200.5Z" fill="#1c64a4"/>
<path d="M163.0 242.0 C163.3 240.3 166.2 239.9 168.0 239.6 C169.8 239.3 172.7 239.3 174.0 240.0 C175.3 240.7 176.3 242.4 176.0 244.0 C175.7 245.6 173.7 248.5 172.0 249.5 C170.3 250.5 167.5 251.2 166.0 250.0 C164.5 248.8 162.7 243.7 163.0 242.0Z" fill="#1c64a4"/>
<path d="M185.8 209.9 C186.1 208.4 188.9 206.5 190.8 205.7 C192.7 204.9 195.6 204.5 197.4 204.9 C199.2 205.3 200.1 207.2 201.5 208.2 C202.9 209.2 204.2 210.4 206.0 211.0 C207.8 211.6 211.7 211.0 212.0 212.0 C212.3 213.0 209.7 216.0 208.0 217.0 C206.3 218.0 203.9 217.7 202.0 218.0 C200.1 218.3 198.2 219.0 196.6 219.0 C195.0 219.0 193.7 218.8 192.4 218.1 C191.2 217.4 190.2 216.2 189.1 214.8 C188.0 213.4 185.5 211.4 185.8 209.9Z" fill="#32ac78"/>
<path d="M199.5 210.5 C199.5 211.5 199.2 212.6 198.6 213.4 C198.1 214.2 197.2 215.0 196.4 215.3 C195.6 215.6 194.4 215.6 193.6 215.3 C192.8 215.0 191.9 214.2 191.4 213.4 C190.8 212.6 190.5 211.5 190.5 210.5 C190.5 209.5 190.8 208.4 191.4 207.6 C191.9 206.8 192.8 206.0 193.6 205.7 C194.4 205.4 195.6 205.4 196.4 205.7 C197.2 206.0 198.1 206.8 198.6 207.6 C199.2 208.4 199.5 209.5 199.5 210.5Z" fill="#3ec64b"/>
<path d="M196.4 209.0 C196.4 209.4 196.2 209.8 196.0 210.1 C195.7 210.3 195.3 210.5 194.9 210.5 C194.5 210.5 194.1 210.3 193.8 210.1 C193.6 209.8 193.4 209.4 193.4 209.0 C193.4 208.6 193.6 208.2 193.8 207.9 C194.1 207.7 194.5 207.5 194.9 207.5 C195.3 207.5 195.7 207.7 196.0 207.9 C196.2 208.2 196.4 208.6 196.4 209.0Z" fill="#3cde14"/>
</g></g>
<text class="s" x="112.3" y="225.1" font-size="3.7" fill="#111">P (ppm)</text>
<text class="s" x="112.3" y="229.1" font-size="3.7" fill="#111">5-10 cm</text>
<rect x="112.3" y="230.0" width="6.4" height="2.8" fill="#ffff80"/>
<text x="120.2" y="232.3" font-size="2.65" fill="#555">0.4 - 0.98</text>
<rect x="112.3" y="234.4" width="6.4" height="2.8" fill="#c0f55a"/>
<text x="120.2" y="236.8" font-size="2.65" fill="#555">0.98 - 1.99</text>
<rect x="112.3" y="238.9" width="6.4" height="2.8" fill="#80eb34"/>
<text x="120.2" y="241.2" font-size="2.65" fill="#555">1.99 - 3.3</text>
<rect x="112.3" y="243.3" width="6.4" height="2.8" fill="#3cde14"/>
<text x="120.2" y="245.6" font-size="2.65" fill="#555">3.3 - 5.48</text>
<rect x="112.3" y="247.7" width="6.4" height="2.8" fill="#3ec64b"/>
<text x="120.2" y="250.1" font-size="2.65" fill="#555">5.48 - 8.97</text>
<rect x="112.3" y="252.2" width="6.4" height="2.8" fill="#32ac78"/>
<text x="120.2" y="254.5" font-size="2.65" fill="#555">8.97 - 14.32</text>
<rect x="112.3" y="256.6" width="6.4" height="2.8" fill="#1c92ac"/>
<text x="120.2" y="258.9" font-size="2.65" fill="#555">14.32 - 22.29</text>
<rect x="112.3" y="261.0" width="6.4" height="2.8" fill="#1c64a4"/>
<text x="120.2" y="263.4" font-size="2.65" fill="#555">22.29 - 34.96</text>
<rect x="112.3" y="265.4" width="6.4" height="2.8" fill="#1a3794"/>
<text x="120.2" y="267.8" font-size="2.65" fill="#555">34.96 - 54.43</text>
<rect x="112.3" y="269.9" width="6.4" height="2.8" fill="#0e127a"/>
<text x="120.2" y="272.2" font-size="2.65" fill="#555">54.43 - 67.1</text>
<path d="M164.4 272.5H210.8M164.4 272.5v-2.8M176.0 272.5v-2.8M187.6 272.5v-2.8M210.8 272.5v-2.8M170.2 272.5v-1.9M181.8 272.5v-1.9M193.4 272.5v-1.9M199.2 272.5v-1.9M205.0 272.5v-1.9M166.3 272.5v-1.2M168.3 272.5v-1.2" fill="none" stroke="#222" stroke-width="0.55"/>
<text x="164.4" y="267.6" font-size="4.2" font-weight="bold" text-anchor="middle" fill="#111">0</text>
<text x="176.0" y="267.6" font-size="4.2" font-weight="bold" text-anchor="middle" fill="#111">30</text>
<text x="187.6" y="267.6" font-size="4.2" font-weight="bold" text-anchor="middle" fill="#111">60</text>
<text x="206.9" y="267.6" font-size="4.2" font-weight="bold" fill="#111">120 km</text>
<path d="M216.0 145.6l3.2 9.3l-3.2 -2.5l-3.2 2.5z" fill="#000"/>
<text x="216.0" y="143.6" font-size="2.6" text-anchor="middle" fill="#555">N</text>
<g clip-path="url(#c5)"><g filter="url(#b)">
<rect x="224.5" y="135.5" width="115" height="125" fill="#1c92ac"/>
<path d="M228.0 140.0 C245.8 130.0 317.2 133.3 335.0 140.0 C352.8 146.7 338.3 173.3 335.0 180.0 C331.7 186.7 319.0 181.3 315.0 180.0 C311.0 178.7 312.8 173.8 310.8 172.3 C308.8 170.8 305.3 169.8 303.0 170.8 C300.7 171.8 298.5 175.4 297.0 178.4 C295.5 181.4 295.5 186.0 294.0 189.0 C292.5 192.0 289.8 194.8 288.0 196.6 C286.2 198.4 284.2 199.8 283.0 200.0 C281.8 200.2 281.4 199.3 280.5 198.0 C279.6 196.7 279.8 193.5 277.5 192.0 C275.2 190.5 270.6 189.2 266.8 189.0 C263.0 188.8 258.5 189.5 254.7 190.5 C250.9 191.5 246.8 193.6 244.0 195.0 C241.2 196.4 240.7 198.2 238.0 199.0 C235.3 199.8 229.7 209.8 228.0 200.0 C226.3 190.2 210.2 150.0 228.0 140.0Z" fill="#32ac78"/>
<path d="M236.0 175.0 C236.7 173.9 241.7 175.3 244.0 175.5 C246.3 175.7 248.5 175.2 250.0 176.0 C251.5 176.8 253.0 178.7 253.0 180.0 C253.0 181.3 251.5 183.0 250.0 184.0 C248.5 185.0 245.7 186.3 244.0 186.0 C242.3 185.7 241.3 183.8 240.0 182.0 C238.7 180.2 235.3 176.1 236.0 175.0Z" fill="#3ec64b"/>
<path d="M254.0 152.0 C254.7 150.5 256.7 149.3 258.0 149.0 C259.3 148.7 260.7 150.5 262.0 150.0 C263.3 149.5 264.3 147.2 266.0 146.0 C267.7 144.8 269.7 143.8 272.0 143.0 C274.3 142.2 277.3 140.0 280.0 141.0 C282.7 142.0 285.7 147.2 288.0 149.0 C290.3 150.8 292.5 150.5 294.0 152.0 C295.5 153.5 296.2 155.7 297.0 158.0 C297.8 160.3 299.0 163.0 299.0 166.0 C299.0 169.0 297.8 172.7 297.0 176.0 C296.2 179.3 295.5 183.6 294.0 186.0 C292.5 188.4 290.3 189.8 288.0 190.5 C285.7 191.2 282.3 190.4 280.0 190.0 C277.7 189.6 276.0 189.0 274.0 188.0 C272.0 187.0 269.7 186.0 268.0 184.0 C266.3 182.0 265.2 178.7 264.0 176.0 C262.8 173.3 262.2 170.2 261.0 168.0 C259.8 165.8 258.2 164.7 257.0 163.0 C255.8 161.3 254.5 159.8 254.0 158.0 C253.5 156.2 253.3 153.5 254.0 152.0Z" fill="#3ec64b"/>
<path d="M261.0 154.0 C261.7 152.0 263.8 149.8 266.0 148.0 C268.2 146.2 271.7 144.2 274.0 143.0 C276.3 141.8 278.3 140.2 280.0 141.0 C281.7 141.8 283.3 145.2 284.0 148.0 C284.7 150.8 284.3 155.0 284.0 158.0 C283.7 161.0 283.7 164.5 282.0 166.0 C280.3 167.5 276.7 167.0 274.0 167.0 C271.3 167.0 268.0 167.2 266.0 166.0 C264.0 164.8 262.8 162.0 262.0 160.0 C261.2 158.0 260.3 156.0 261.0 154.0Z" fill="#3cde14"/>
<path d="M291.0 171.3 C291.0 171.6 290.7 172.0 290.1 172.3 C289.6 172.6 288.7 172.8 287.8 172.9 C287.0 173.0 285.8 173.0 285.0 172.9 C284.1 172.8 283.2 172.6 282.7 172.3 C282.1 172.0 281.8 171.6 281.8 171.3 C281.8 171.0 282.1 170.6 282.7 170.3 C283.2 170.0 284.1 169.8 285.0 169.7 C285.8 169.6 287.0 169.6 287.8 169.7 C288.7 169.8 289.6 170.0 290.1 170.3 C290.7 170.6 291.0 171.0 291.0 171.3Z" fill="#3cde14"/>
<path d="M282.6 178.5 C282.6 178.8 282.4 179.1 282.1 179.4 C281.8 179.6 281.3 179.8 280.9 179.9 C280.4 180.0 279.8 180.0 279.3 179.9 C278.9 179.8 278.4 179.6 278.1 179.4 C277.8 179.1 277.6 178.8 277.6 178.5 C277.6 178.2 277.8 177.9 278.1 177.6 C278.4 177.4 278.9 177.2 279.3 177.1 C279.8 177.0 280.4 177.0 280.9 177.1 C281.3 177.2 281.8 177.4 282.1 177.6 C282.4 177.9 282.6 178.2 282.6 178.5Z" fill="#3cde14"/>
<path d="M309.0 201.8 C309.0 202.7 308.6 203.6 308.0 204.3 C307.5 204.9 306.5 205.5 305.5 205.8 C304.6 206.0 303.4 206.0 302.5 205.8 C301.5 205.5 300.5 204.9 300.0 204.3 C299.4 203.6 299.0 202.7 299.0 201.8 C299.0 201.0 299.4 200.1 300.0 199.4 C300.5 198.8 301.5 198.2 302.5 197.9 C303.4 197.7 304.6 197.7 305.5 197.9 C306.5 198.2 307.5 198.8 308.0 199.4 C308.6 200.1 309.0 201.0 309.0 201.8Z" fill="#32ac78"/>
<path d="M307.5 182.8 C307.5 183.3 307.2 184.0 306.9 184.4 C306.5 184.7 305.8 185.0 305.3 185.0 C304.8 185.0 304.1 184.7 303.7 184.4 C303.4 184.0 303.1 183.3 303.1 182.8 C303.1 182.3 303.4 181.6 303.7 181.2 C304.1 180.9 304.8 180.6 305.3 180.6 C305.8 180.6 306.5 180.9 306.9 181.2 C307.2 181.6 307.5 182.3 307.5 182.8Z" fill="#1c64a4"/>
<path d="M268.5 214.0 C269.0 211.8 270.1 211.7 272.0 211.0 C273.9 210.3 277.8 209.7 280.0 210.0 C282.2 210.3 284.2 210.7 285.0 213.0 C285.8 215.3 285.5 221.5 285.0 224.0 C284.5 226.5 283.8 227.3 282.0 228.0 C280.2 228.7 276.2 228.7 274.0 228.0 C271.8 227.3 269.9 226.3 269.0 224.0 C268.1 221.7 268.0 216.2 268.5 214.0Z" fill="#1c64a4"/>
<path d="M242.0 227.2 C242.3 226.5 244.8 227.2 246.2 228.0 C247.6 228.8 249.6 230.7 250.3 232.2 C251.0 233.7 250.9 236.4 250.3 237.1 C249.8 237.8 248.0 237.1 247.0 236.3 C246.0 235.5 245.3 233.7 244.5 232.2 C243.7 230.7 241.7 227.9 242.0 227.2Z" fill="#1c64a4"/>
<path d="M261.0 236.3 C262.1 235.3 265.6 233.8 266.8 234.3 C268.1 234.9 268.4 237.9 268.5 239.6 C268.6 241.3 268.5 243.9 267.7 244.6 C266.9 245.3 264.8 244.5 263.5 243.8 C262.2 243.1 260.6 241.8 260.2 240.5 C259.8 239.2 259.9 237.3 261.0 236.3Z" fill="#1c64a4"/>
<path d="M277.3 197.5 C277.3 197.8 277.1 198.2 276.9 198.4 C276.7 198.6 276.3 198.8 276.0 198.8 C275.7 198.8 275.3 198.6 275.1 198.4 C274.9 198.2 274.7 197.8 274.7 197.5 C274.7 197.2 274.9 196.8 275.1 196.6 C275.3 196.4 275.7 196.2 276.0 196.2 C276.3 196.2 276.7 196.4 276.9 196.6 C277.1 196.8 277.3 197.2 277.3 197.5Z" fill="#3ec64b"/>
<path d="M264.4 225.6 C264.4 225.8 264.3 226.1 264.1 226.2 C264.0 226.4 263.7 226.5 263.5 226.5 C263.3 226.5 263.0 226.4 262.9 226.2 C262.7 226.1 262.6 225.8 262.6 225.6 C262.6 225.4 262.7 225.1 262.9 225.0 C263.0 224.8 263.3 224.7 263.5 224.7 C263.7 224.7 264.0 224.8 264.1 225.0 C264.3 225.1 264.4 225.4 264.4 225.6Z" fill="#3ec64b"/>
<path d="M298.3 198.3 C299.1 197.6 302.3 199.6 304.1 200.0 C305.9 200.4 307.5 200.2 309.0 200.8 C310.5 201.4 311.9 202.1 313.2 203.3 C314.4 204.5 315.3 207.0 316.5 208.2 C317.7 209.4 320.5 210.0 320.6 210.7 C320.7 211.4 318.8 211.8 317.3 212.4 C315.8 213.0 313.3 213.4 311.5 214.0 C309.7 214.6 308.1 215.1 306.6 215.7 C305.1 216.2 303.6 217.7 302.4 217.3 C301.1 216.9 300.0 214.6 299.1 213.2 C298.2 211.8 297.2 210.5 297.2 209.0 C297.2 207.5 298.9 205.9 299.1 204.1 C299.3 202.3 297.5 199.0 298.3 198.3Z" fill="#32ac78"/>
</g></g>
<text class="s" x="222.8" y="222.7" font-size="3.7" fill="#111">P (ppm)</text>
<text class="s" x="222.8" y="226.7" font-size="3.7" fill="#111">&gt;10 cm</text>
<rect x="222.8" y="227.2" width="6.4" height="2.8" fill="#ffff80"/>
<text x="230.7" y="229.5" font-size="2.65" fill="#555">0.6 - 1.4</text>
<rect x="222.8" y="231.9" width="6.4" height="2.8" fill="#c0f55a"/>
<text x="230.7" y="234.2" font-size="2.65" fill="#555">1.4 - 2.73</text>
<rect x="222.8" y="236.6" width="6.4" height="2.8" fill="#80eb34"/>
<text x="230.7" y="238.9" font-size="2.65" fill="#555">2.73 - 4.49</text>
<rect x="222.8" y="241.3" width="6.4" height="2.8" fill="#3cde14"/>
<text x="230.7" y="243.6" font-size="2.65" fill="#555">4.49 - 6.91</text>
<rect x="222.8" y="246.0" width="6.4" height="2.8" fill="#3ec64b"/>
<text x="230.7" y="248.3" font-size="2.65" fill="#555">6.91 - 9.06</text>
<rect x="222.8" y="250.7" width="6.4" height="2.8" fill="#32ac78"/>
<text x="230.7" y="253.0" font-size="2.65" fill="#555">9.06 - 13.95</text>
<rect x="222.8" y="255.4" width="6.4" height="2.8" fill="#1c92ac"/>
<text x="230.7" y="257.8" font-size="2.65" fill="#555">13.95 - 19.32</text>
<rect x="222.8" y="260.1" width="6.4" height="2.8" fill="#1c64a4"/>
<text x="230.7" y="262.4" font-size="2.65" fill="#555">19.32 - 26.66</text>
<rect x="222.8" y="264.8" width="6.4" height="2.8" fill="#1a3794"/>
<text x="230.7" y="267.1" font-size="2.65" fill="#555">26.66 - 35.05</text>
<rect x="222.8" y="269.5" width="6.4" height="2.8" fill="#0e127a"/>
<text x="230.7" y="271.8" font-size="2.65" fill="#555">35.05 - 45.3</text>
<path d="M273.9 272.5H320.3M273.9 272.5v-2.8M285.5 272.5v-2.8M297.1 272.5v-2.8M320.3 272.5v-2.8M279.7 272.5v-1.9M291.3 272.5v-1.9M302.9 272.5v-1.9M308.7 272.5v-1.9M314.5 272.5v-1.9M275.8 272.5v-1.2M277.8 272.5v-1.2" fill="none" stroke="#222" stroke-width="0.55"/>
<text x="273.9" y="267.6" font-size="4.2" font-weight="bold" text-anchor="middle" fill="#111">0</text>
<text x="285.5" y="267.6" font-size="4.2" font-weight="bold" text-anchor="middle" fill="#111">30</text>
<text x="297.1" y="267.6" font-size="4.2" font-weight="bold" text-anchor="middle" fill="#111">60</text>
<text x="316.4" y="267.6" font-size="4.2" font-weight="bold" fill="#111">120 km</text>
<path d="M326.0 145.6l3.2 9.3l-3.2 -2.5l-3.2 2.5z" fill="#000"/>
<text x="326.0" y="143.6" font-size="2.6" text-anchor="middle" fill="#555">N</text>
<g clip-path="url(#c6)"><g filter="url(#b)">
<rect x="5.2" y="272.8" width="115" height="125" fill="#1c92ac"/>
<path d="M30.0 280.0 C44.5 274.7 100.8 273.3 115.0 280.0 C129.2 286.7 118.5 313.6 115.0 320.0 C111.5 326.4 98.5 319.6 94.0 318.3 C89.5 317.0 90.2 312.3 88.0 312.0 C85.8 311.7 83.4 314.3 80.8 316.7 C78.2 319.1 75.3 325.1 72.5 326.6 C69.7 328.2 66.4 327.4 64.0 326.0 C61.6 324.6 60.0 320.3 58.0 318.0 C56.0 315.7 54.0 313.7 52.0 312.0 C50.0 310.3 48.0 308.7 46.0 308.0 C44.0 307.3 42.0 307.3 40.0 308.0 C38.0 308.7 36.0 311.3 34.0 312.0 C32.0 312.7 28.7 317.3 28.0 312.0 C27.3 306.7 15.5 285.3 30.0 280.0Z" fill="#32ac78"/>
<path d="M56.0 282.0 C57.7 280.2 60.3 278.8 62.0 279.0 C63.7 279.2 64.7 281.7 66.0 283.0 C67.3 284.3 68.9 284.4 70.0 287.0 C71.1 289.6 71.5 295.2 72.5 298.5 C73.5 301.8 75.0 303.5 75.8 306.8 C76.6 310.1 77.8 315.8 77.5 318.3 C77.2 320.8 75.6 320.7 74.0 322.0 C72.4 323.3 70.0 326.3 68.0 326.0 C66.0 325.7 63.7 322.3 62.0 320.0 C60.3 317.7 59.3 314.3 58.0 312.0 C56.7 309.7 55.3 308.0 54.0 306.0 C52.7 304.0 50.3 302.7 50.0 300.0 C49.7 297.3 51.0 293.0 52.0 290.0 C53.0 287.0 54.3 283.8 56.0 282.0Z" fill="#3ec64b"/>
<path d="M34.0 292.0 C34.2 289.7 34.3 287.3 36.0 286.0 C37.7 284.7 41.3 284.5 44.0 284.0 C46.7 283.5 49.3 283.7 52.0 283.0 C54.7 282.3 57.7 279.5 60.0 280.0 C62.3 280.5 64.3 283.7 66.0 286.0 C67.7 288.3 69.0 291.0 70.0 294.0 C71.0 297.0 71.3 300.7 72.0 304.0 C72.7 307.3 74.3 311.0 74.0 314.0 C73.7 317.0 71.7 320.3 70.0 322.0 C68.3 323.7 66.0 325.0 64.0 324.0 C62.0 323.0 60.0 319.0 58.0 316.0 C56.0 313.0 54.0 308.3 52.0 306.0 C50.0 303.7 48.0 302.7 46.0 302.0 C44.0 301.3 41.8 302.3 40.0 302.0 C38.2 301.7 36.0 301.7 35.0 300.0 C34.0 298.3 33.8 294.3 34.0 292.0Z" fill="#3cde14"/>
<path d="M34.8 294.0 C34.1 292.2 34.5 288.5 36.0 287.0 C37.5 285.5 41.3 285.5 44.0 285.0 C46.7 284.5 49.3 284.8 52.0 284.0 C54.7 283.2 58.0 280.2 60.0 280.5 C62.0 280.8 63.0 284.1 64.0 286.0 C65.0 287.9 66.3 290.3 66.0 292.0 C65.7 293.7 63.7 295.7 62.0 296.0 C60.3 296.3 58.0 294.5 56.0 294.0 C54.0 293.5 51.7 292.5 50.0 293.0 C48.3 293.5 47.7 296.2 46.0 297.0 C44.3 297.8 41.9 298.5 40.0 298.0 C38.1 297.5 35.5 295.8 34.8 294.0Z" fill="#80eb34"/>
<path d="M45.5 291.0 C45.5 291.7 45.1 292.5 44.5 293.0 C43.9 293.6 42.8 294.0 41.8 294.2 C40.8 294.4 39.5 294.4 38.5 294.2 C37.5 294.0 36.4 293.6 35.8 293.0 C35.2 292.5 34.8 291.7 34.8 291.0 C34.8 290.4 35.2 289.6 35.8 289.1 C36.4 288.5 37.5 288.1 38.5 287.9 C39.5 287.7 40.8 287.7 41.8 287.9 C42.8 288.1 43.9 288.5 44.5 289.1 C45.1 289.6 45.5 290.4 45.5 291.0Z" fill="#3cde14"/>
<path d="M55.0 284.0 C55.5 281.8 58.5 280.3 60.0 281.0 C61.5 281.7 63.0 285.5 64.0 288.0 C65.0 290.5 66.0 293.3 66.0 296.0 C66.0 298.7 65.0 303.3 64.0 304.0 C63.0 304.7 61.2 301.7 60.0 300.0 C58.8 298.3 57.8 296.7 57.0 294.0 C56.2 291.3 54.5 286.2 55.0 284.0Z" fill="#3ec64b"/>
<path d="M65.1 306.8 C66.1 306.0 68.0 307.0 68.4 308.4 C68.8 309.8 67.5 312.8 67.6 315.0 C67.7 317.2 69.3 319.7 69.2 321.6 C69.1 323.5 67.7 326.2 66.7 326.6 C65.7 327.0 64.2 325.5 63.4 324.1 C62.6 322.7 61.9 320.1 61.8 318.3 C61.7 316.5 62.1 315.3 62.6 313.4 C63.1 311.5 64.1 307.6 65.1 306.8Z" fill="#c0f55a"/>
<path d="M65.0 313.0 C65.0 314.4 64.8 316.0 64.5 317.1 C64.2 318.2 63.7 319.2 63.3 319.7 C62.8 320.1 62.2 320.1 61.7 319.7 C61.3 319.2 60.8 318.2 60.5 317.1 C60.2 316.0 60.0 314.4 60.0 313.0 C60.0 311.6 60.2 310.0 60.5 308.9 C60.8 307.8 61.3 306.8 61.7 306.3 C62.2 305.9 62.8 305.9 63.3 306.3 C63.7 306.8 64.2 307.8 64.5 308.9 C64.8 310.0 65.0 311.6 65.0 313.0Z" fill="#c0f55a"/>
<path d="M45.5 313.2 C45.5 314.1 45.1 315.1 44.5 315.7 C43.9 316.4 42.8 317.0 41.8 317.3 C40.8 317.5 39.5 317.5 38.5 317.3 C37.5 317.0 36.4 316.4 35.8 315.7 C35.2 315.1 34.8 314.1 34.8 313.2 C34.8 312.4 35.2 311.4 35.8 310.8 C36.4 310.1 37.5 309.5 38.5 309.2 C39.5 309.0 40.8 309.0 41.8 309.2 C42.8 309.5 43.9 310.1 44.5 310.8 C45.1 311.4 45.5 312.4 45.5 313.2Z" fill="#32ac78"/>
<path d="M30.0 317.0 C30.0 317.6 29.8 318.3 29.4 318.8 C29.1 319.2 28.5 319.7 27.9 319.9 C27.4 320.0 26.6 320.0 26.1 319.9 C25.5 319.7 24.9 319.2 24.6 318.8 C24.2 318.3 24.0 317.6 24.0 317.0 C24.0 316.4 24.2 315.7 24.6 315.2 C24.9 314.8 25.5 314.3 26.1 314.1 C26.6 314.0 27.4 314.0 27.9 314.1 C28.5 314.3 29.1 314.8 29.4 315.2 C29.8 315.7 30.0 316.4 30.0 317.0Z" fill="#32ac78"/>
<path d="M32.3 322.5 C32.6 321.5 35.1 320.5 36.4 320.8 C37.6 321.1 38.3 323.8 39.8 324.1 C41.3 324.4 43.7 323.3 45.5 322.5 C47.3 321.7 48.8 319.5 50.5 319.1 C52.2 318.7 53.9 319.2 55.5 320.0 C57.1 320.8 59.0 322.9 60.4 324.1 C61.8 325.3 62.7 326.0 64.0 327.0 C65.3 328.0 67.0 330.0 68.4 329.9 C69.8 329.8 71.0 328.2 72.5 326.6 C74.0 325.0 76.1 321.8 77.5 320.0 C78.9 318.2 79.3 316.8 80.8 315.8 C82.3 314.8 84.8 314.1 86.6 314.2 C88.4 314.3 90.0 315.6 91.5 316.7 C93.0 317.8 94.0 319.4 95.7 320.8 C97.4 322.2 99.0 323.9 101.5 324.9 C104.0 325.9 109.4 325.6 111.0 327.0 C112.6 328.4 112.2 331.7 111.0 333.0 C109.8 334.3 106.2 334.9 103.9 334.9 C101.6 334.9 99.5 333.6 97.3 333.2 C95.1 332.8 92.9 332.4 90.7 332.4 C88.5 332.4 86.3 332.4 84.1 333.2 C81.9 334.0 79.4 336.1 77.5 337.3 C75.6 338.5 73.9 340.3 72.5 340.6 C71.1 340.9 70.9 339.9 69.2 339.0 C67.5 338.1 64.8 336.0 62.6 334.9 C60.4 333.8 57.8 333.5 56.0 332.4 C54.2 331.3 53.3 329.3 52.0 328.2 C50.7 327.1 49.1 326.3 48.0 326.0 C46.9 325.7 46.9 326.4 45.5 326.6 C44.1 326.8 41.6 327.4 39.8 327.4 C38.0 327.4 36.0 327.4 34.8 326.6 C33.5 325.8 32.0 323.5 32.3 322.5Z" fill="#1c64a4"/>
<path d="M55.3 311.7 C55.3 311.9 55.2 312.2 55.0 312.4 C54.8 312.6 54.5 312.7 54.3 312.7 C54.1 312.7 53.8 312.6 53.6 312.4 C53.4 312.2 53.3 311.9 53.3 311.7 C53.3 311.5 53.4 311.2 53.6 311.0 C53.8 310.8 54.1 310.7 54.3 310.7 C54.5 310.7 54.8 310.8 55.0 311.0 C55.2 311.2 55.3 311.5 55.3 311.7Z" fill="#1c64a4"/>
<path d="M33.1 349.5 C33.8 348.1 36.2 346.2 38.1 345.4 C40.0 344.6 42.9 344.2 44.7 344.6 C46.5 345.0 48.7 346.2 48.8 347.9 C48.9 349.5 46.6 352.6 45.5 354.5 C44.4 356.4 43.6 359.1 42.2 359.4 C40.8 359.7 38.7 357.1 37.3 356.1 C35.9 355.2 34.7 354.8 34.0 353.7 C33.3 352.6 32.4 350.9 33.1 349.5Z" fill="#32ac78"/>
<path d="M43.0 350.8 C43.0 351.5 42.7 352.4 42.2 353.0 C41.8 353.5 41.0 354.1 40.2 354.3 C39.5 354.5 38.5 354.5 37.8 354.3 C37.0 354.1 36.2 353.5 35.8 353.0 C35.3 352.4 35.0 351.5 35.0 350.8 C35.0 350.0 35.3 349.1 35.8 348.5 C36.2 348.0 37.0 347.4 37.8 347.2 C38.5 347.0 39.5 347.0 40.2 347.2 C41.0 347.4 41.8 348.0 42.2 348.5 C42.7 349.1 43.0 350.0 43.0 350.8Z" fill="#3ec64b"/>
<path d="M23.2 363.6 C23.8 362.2 26.3 360.4 28.2 360.0 C30.1 359.6 32.8 361.0 34.8 361.0 C36.8 361.0 38.1 359.8 40.0 360.0 C41.9 360.2 44.0 361.3 46.0 362.0 C48.0 362.7 50.2 363.0 52.0 364.0 C53.8 365.0 56.0 366.3 57.0 368.0 C58.0 369.7 58.2 372.0 58.0 374.0 C57.8 376.0 57.0 378.3 56.0 380.0 C55.0 381.7 53.5 383.4 52.0 384.0 C50.5 384.6 48.8 384.2 47.2 383.5 C45.6 382.8 44.0 381.1 42.2 380.0 C40.4 378.9 38.5 378.1 36.4 377.0 C34.3 375.9 31.7 374.9 29.8 373.5 C27.9 372.1 26.0 370.1 24.9 368.5 C23.8 366.9 22.6 365.0 23.2 363.6Z" fill="#1c64a4"/>
<path d="M36.4 366.0 C37.0 364.6 38.7 364.0 39.8 364.4 C40.9 364.8 41.8 367.1 43.0 368.5 C44.2 369.9 46.0 371.2 47.2 372.7 C48.5 374.2 50.2 376.1 50.5 377.6 C50.8 379.1 49.8 381.2 48.8 381.8 C47.8 382.4 46.1 381.8 44.7 381.0 C43.3 380.2 42.0 378.2 40.6 376.8 C39.2 375.4 37.1 374.5 36.4 372.7 C35.7 370.9 35.8 367.4 36.4 366.0Z" fill="#1a3794"/>
<path d="M49.7 353.0 C50.4 352.0 52.3 351.2 54.0 351.0 C55.7 350.8 58.5 351.3 60.0 352.0 C61.5 352.7 62.9 353.8 62.9 355.0 C62.9 356.2 61.5 358.3 60.0 359.0 C58.5 359.7 55.7 359.7 54.0 359.4 C52.3 359.1 50.7 358.1 50.0 357.0 C49.3 355.9 49.0 354.0 49.7 353.0Z" fill="#1c64a4"/>
<path d="M46.7 345.4 C46.7 345.7 46.5 346.0 46.3 346.2 C46.1 346.4 45.8 346.6 45.5 346.6 C45.2 346.6 44.9 346.4 44.7 346.2 C44.5 346.0 44.3 345.7 44.3 345.4 C44.3 345.1 44.5 344.8 44.7 344.6 C44.9 344.4 45.2 344.2 45.5 344.2 C45.8 344.2 46.1 344.4 46.3 344.6 C46.5 344.8 46.7 345.1 46.7 345.4Z" fill="#1c64a4"/>
<path d="M31.9 354.5 C31.9 354.8 31.7 355.1 31.5 355.3 C31.3 355.5 31.0 355.7 30.7 355.7 C30.4 355.7 30.1 355.5 29.9 355.3 C29.7 355.1 29.5 354.8 29.5 354.5 C29.5 354.2 29.7 353.9 29.9 353.7 C30.1 353.5 30.4 353.3 30.7 353.3 C31.0 353.3 31.3 353.5 31.5 353.7 C31.7 353.9 31.9 354.2 31.9 354.5Z" fill="#1c64a4"/>
<path d="M55.8 364.4 C55.8 364.7 55.6 365.0 55.4 365.2 C55.2 365.4 54.9 365.6 54.6 365.6 C54.3 365.6 54.0 365.4 53.8 365.2 C53.6 365.0 53.4 364.7 53.4 364.4 C53.4 364.1 53.6 363.8 53.8 363.6 C54.0 363.4 54.3 363.2 54.6 363.2 C54.9 363.2 55.2 363.4 55.4 363.6 C55.6 363.8 55.8 364.1 55.8 364.4Z" fill="#1c64a4"/>
<path d="M59.2 370.2 C59.2 370.5 59.0 370.8 58.8 371.0 C58.6 371.2 58.3 371.4 58.0 371.4 C57.7 371.4 57.4 371.2 57.2 371.0 C57.0 370.8 56.8 370.5 56.8 370.2 C56.8 369.9 57.0 369.6 57.2 369.4 C57.4 369.2 57.7 369.0 58.0 369.0 C58.3 369.0 58.6 369.2 58.8 369.4 C59.0 369.6 59.2 369.9 59.2 370.2Z" fill="#1c64a4"/>
<path d="M55.6 371.8 C55.6 372.0 55.5 372.3 55.3 372.5 C55.1 372.7 54.8 372.8 54.6 372.8 C54.4 372.8 54.1 372.7 53.9 372.5 C53.7 372.3 53.6 372.0 53.6 371.8 C53.6 371.6 53.7 371.3 53.9 371.1 C54.1 370.9 54.4 370.8 54.6 370.8 C54.8 370.8 55.1 370.9 55.3 371.1 C55.5 371.3 55.6 371.6 55.6 371.8Z" fill="#1c64a4"/>
<path d="M54.6 371.0 C55.6 369.8 58.3 368.8 60.0 369.0 C61.7 369.2 64.3 370.2 65.0 372.0 C65.7 373.8 64.8 378.0 64.0 380.0 C63.2 382.0 61.3 383.9 60.0 384.2 C58.7 384.5 57.0 383.4 56.0 382.0 C55.0 380.6 54.2 377.8 54.0 376.0 C53.8 374.2 53.6 372.2 54.6 371.0Z" fill="#32ac78"/>
<path d="M62.6 366.0 C64.5 364.9 67.0 363.6 69.2 363.6 C71.4 363.6 74.2 364.6 75.8 366.0 C77.4 367.4 78.5 369.9 79.1 371.8 C79.6 373.7 79.9 376.1 79.1 377.6 C78.3 379.1 76.1 380.2 74.2 381.0 C72.3 381.8 69.8 381.8 67.6 382.6 C65.4 383.4 62.9 385.3 61.0 385.9 C59.1 386.4 56.8 387.5 56.0 385.9 C55.2 384.2 55.7 378.6 56.0 376.0 C56.3 373.4 56.9 371.7 58.0 370.0 C59.1 368.3 60.7 367.1 62.6 366.0Z" fill="#32ac78"/>
<path d="M62.6 378.6 C62.6 379.7 62.4 381.0 62.0 381.9 C61.7 382.8 61.1 383.6 60.5 383.9 C59.9 384.3 59.2 384.3 58.6 383.9 C58.0 383.6 57.4 382.8 57.1 381.9 C56.7 381.0 56.5 379.7 56.5 378.6 C56.5 377.5 56.7 376.2 57.1 375.3 C57.4 374.4 58.0 373.6 58.6 373.3 C59.2 372.9 59.9 372.9 60.5 373.3 C61.1 373.6 61.7 374.4 62.0 375.3 C62.4 376.2 62.6 377.5 62.6 378.6Z" fill="#3ec64b"/>
<path d="M97.3 345.3 C97.3 346.4 96.7 347.7 95.8 348.7 C94.9 349.6 93.3 350.4 91.9 350.7 C90.4 351.1 88.5 351.1 87.0 350.7 C85.6 350.4 84.0 349.6 83.1 348.7 C82.2 347.7 81.6 346.4 81.6 345.3 C81.6 344.2 82.2 342.9 83.1 341.9 C84.0 341.0 85.6 340.2 87.0 339.9 C88.5 339.5 90.4 339.5 91.9 339.9 C93.3 340.2 94.9 341.0 95.8 341.9 C96.7 342.9 97.3 344.2 97.3 345.3Z" fill="#32ac78"/>
<path d="M91.6 344.6 C91.6 345.3 91.3 346.1 90.8 346.6 C90.3 347.2 89.5 347.6 88.7 347.8 C88.0 348.0 86.9 348.0 86.2 347.8 C85.4 347.6 84.6 347.2 84.1 346.6 C83.6 346.1 83.3 345.3 83.3 344.6 C83.3 344.0 83.6 343.2 84.1 342.7 C84.6 342.1 85.4 341.7 86.2 341.5 C86.9 341.3 88.0 341.3 88.7 341.5 C89.5 341.7 90.3 342.1 90.8 342.7 C91.3 343.2 91.6 344.0 91.6 344.6Z" fill="#3ec64b"/>
<path d="M89.0 344.6 C89.0 345.0 88.8 345.5 88.5 345.7 C88.3 346.0 87.8 346.2 87.4 346.2 C87.0 346.2 86.5 346.0 86.3 345.7 C86.0 345.5 85.8 345.0 85.8 344.6 C85.8 344.2 86.0 343.7 86.3 343.5 C86.5 343.2 87.0 343.0 87.4 343.0 C87.8 343.0 88.3 343.2 88.5 343.5 C88.8 343.7 89.0 344.2 89.0 344.6Z" fill="#3cde14"/>
<path d="M85.0 357.0 C85.0 358.6 84.4 360.6 83.7 361.7 C82.9 362.8 81.5 363.6 80.4 363.6 C79.3 363.6 77.9 362.8 77.1 361.7 C76.4 360.6 75.8 358.6 75.8 357.0 C75.8 355.4 76.4 353.4 77.1 352.3 C77.9 351.2 79.3 350.4 80.4 350.4 C81.5 350.4 82.9 351.2 83.7 352.3 C84.4 353.4 85.0 355.4 85.0 357.0Z" fill="#1c64a4"/>
<path d="M78.4 345.4 C78.4 345.8 78.2 346.3 77.9 346.6 C77.6 346.9 77.1 347.1 76.7 347.1 C76.3 347.1 75.8 346.9 75.5 346.6 C75.2 346.3 75.0 345.8 75.0 345.4 C75.0 345.0 75.2 344.5 75.5 344.2 C75.8 343.9 76.3 343.7 76.7 343.7 C77.1 343.7 77.6 343.9 77.9 344.2 C78.2 344.5 78.4 345.0 78.4 345.4Z" fill="#1c64a4"/>
<path d="M69.4 354.5 C69.4 354.7 69.3 355.0 69.1 355.2 C68.9 355.4 68.6 355.5 68.4 355.5 C68.2 355.5 67.9 355.4 67.7 355.2 C67.5 355.0 67.4 354.7 67.4 354.5 C67.4 354.3 67.5 354.0 67.7 353.8 C67.9 353.6 68.2 353.5 68.4 353.5 C68.6 353.5 68.9 353.6 69.1 353.8 C69.3 354.0 69.4 354.3 69.4 354.5Z" fill="#1c64a4"/>
<path d="M68.6 347.9 C68.6 348.1 68.5 348.4 68.3 348.6 C68.1 348.8 67.8 348.9 67.6 348.9 C67.4 348.9 67.1 348.8 66.9 348.6 C66.7 348.4 66.6 348.1 66.6 347.9 C66.6 347.7 66.7 347.4 66.9 347.2 C67.1 347.0 67.4 346.9 67.6 346.9 C67.8 346.9 68.1 347.0 68.3 347.2 C68.5 347.4 68.6 347.7 68.6 347.9Z" fill="#1c64a4"/>
<path d="M63.3 344.2 C63.3 344.6 63.1 345.0 62.9 345.3 C62.6 345.5 62.2 345.7 61.8 345.7 C61.4 345.7 61.0 345.5 60.7 345.3 C60.5 345.0 60.3 344.6 60.3 344.2 C60.3 343.8 60.5 343.4 60.7 343.1 C61.0 342.9 61.4 342.7 61.8 342.7 C62.2 342.7 62.6 342.9 62.9 343.1 C63.1 343.4 63.3 343.8 63.3 344.2Z" fill="#32ac78"/>
<path d="M91.0 400.0 C91.0 400.8 90.7 401.7 90.1 402.4 C89.6 403.0 88.7 403.6 87.9 403.8 C87.1 404.0 85.9 404.0 85.1 403.8 C84.3 403.6 83.4 403.0 82.9 402.4 C82.3 401.7 82.0 400.8 82.0 400.0 C82.0 399.2 82.3 398.3 82.9 397.6 C83.4 397.0 84.3 396.4 85.1 396.2 C85.9 396.0 87.1 396.0 87.9 396.2 C88.7 396.4 89.6 397.0 90.1 397.6 C90.7 398.3 91.0 399.2 91.0 400.0Z" fill="#32ac78"/>
</g></g>
<text class="s" x="2.8" y="355.4" font-size="3.7" fill="#111">K</text>
<text class="s" x="2.8" y="360.1" font-size="3.7" fill="#111">(Cmol kg<tspan dy="-1.1" font-size="2.3">-1</tspan><tspan dy="1.1">)</tspan></text>
<text class="s" x="2.8" y="364.9" font-size="3.7" fill="#111">0-5 cm</text>
<rect x="2.8" y="366.8" width="6.4" height="2.8" fill="#ffff80"/>
<text x="10.7" y="369.1" font-size="2.65" fill="#555">0.09 - 0.14</text>
<rect x="2.8" y="371.4" width="6.4" height="2.8" fill="#c0f55a"/>
<text x="10.7" y="373.8" font-size="2.65" fill="#555">0.14 - 0.2</text>
<rect x="2.8" y="376.0" width="6.4" height="2.8" fill="#80eb34"/>
<text x="10.7" y="378.4" font-size="2.65" fill="#555">0.2 - 0.24</text>
<rect x="2.8" y="380.7" width="6.4" height="2.8" fill="#3cde14"/>
<text x="10.7" y="383.0" font-size="2.65" fill="#555">0.24 - 0.3</text>
<rect x="2.8" y="385.3" width="6.4" height="2.8" fill="#3ec64b"/>
<text x="10.7" y="387.6" font-size="2.65" fill="#555">0.3 - 0.41</text>
<rect x="2.8" y="389.9" width="6.4" height="2.8" fill="#32ac78"/>
<text x="10.7" y="392.2" font-size="2.65" fill="#555">0.41 - 0.58</text>
<rect x="2.8" y="394.5" width="6.4" height="2.8" fill="#1c92ac"/>
<text x="10.7" y="396.9" font-size="2.65" fill="#555">0.58 - 0.87</text>
<rect x="2.8" y="399.1" width="6.4" height="2.8" fill="#1c64a4"/>
<text x="10.7" y="401.5" font-size="2.65" fill="#555">0.87 - 1.34</text>
<rect x="2.8" y="403.8" width="6.4" height="2.8" fill="#1a3794"/>
<text x="10.7" y="406.1" font-size="2.65" fill="#555">1.34 - 2.11</text>
<rect x="2.8" y="408.4" width="6.4" height="2.8" fill="#0e127a"/>
<text x="10.7" y="410.7" font-size="2.65" fill="#555">2.11 - 3.4</text>
<path d="M53.9 410.2H100.3M53.9 410.2v-2.8M65.5 410.2v-2.8M77.1 410.2v-2.8M100.3 410.2v-2.8M59.7 410.2v-1.9M71.3 410.2v-1.9M82.9 410.2v-1.9M88.7 410.2v-1.9M94.5 410.2v-1.9M55.8 410.2v-1.2M57.8 410.2v-1.2" fill="none" stroke="#222" stroke-width="0.55"/>
<text x="53.9" y="405.3" font-size="4.2" font-weight="bold" text-anchor="middle" fill="#111">0</text>
<text x="65.5" y="405.3" font-size="4.2" font-weight="bold" text-anchor="middle" fill="#111">30</text>
<text x="77.1" y="405.3" font-size="4.2" font-weight="bold" text-anchor="middle" fill="#111">60</text>
<text x="96.4" y="405.3" font-size="4.2" font-weight="bold" fill="#111">120 km</text>
<path d="M104.2 284.6l3.2 9.3l-3.2 -2.5l-3.2 2.5z" fill="#000"/>
<text x="104.2" y="282.6" font-size="2.6" text-anchor="middle" fill="#555">N</text>
<g clip-path="url(#c7)"><g filter="url(#b)">
<rect x="114.0" y="273.0" width="115" height="125" fill="#1c64a4"/>
<path d="M120.0 280.0 C137.7 272.3 208.3 274.7 226.0 280.0 C243.7 285.3 229.7 306.5 226.0 312.0 C222.3 317.5 209.0 313.0 204.0 313.0 C199.0 313.0 198.7 311.8 196.0 312.0 C193.3 312.2 190.3 312.7 188.0 314.0 C185.7 315.3 184.0 317.7 182.0 320.0 C180.0 322.3 178.0 326.7 176.0 328.0 C174.0 329.3 172.0 328.3 170.0 328.0 C168.0 327.7 166.0 326.7 164.0 326.0 C162.0 325.3 160.3 324.7 158.0 324.0 C155.7 323.3 152.3 321.7 150.0 322.0 C147.7 322.3 146.0 324.7 144.0 326.0 C142.0 327.3 140.3 329.7 138.0 330.0 C135.7 330.3 133.0 328.7 130.0 328.0 C127.0 327.3 121.7 334.0 120.0 326.0 C118.3 318.0 102.3 287.7 120.0 280.0Z" fill="#1c92ac"/>
<path d="M156.0 326.0 C156.3 325.0 158.8 324.5 160.0 325.0 C161.2 325.5 162.2 327.2 163.0 329.0 C163.8 330.8 164.8 334.3 165.0 336.0 C165.2 337.7 164.7 339.0 164.0 339.0 C163.3 339.0 162.0 337.3 161.0 336.0 C160.0 334.7 158.8 332.7 158.0 331.0 C157.2 329.3 155.7 327.0 156.0 326.0Z" fill="#1c92ac"/>
<path d="M164.0 336.0 C164.2 334.3 166.0 334.0 167.0 335.0 C168.0 336.0 169.5 339.3 170.0 342.0 C170.5 344.7 170.3 349.3 170.0 351.0 C169.7 352.7 168.7 353.0 168.0 352.0 C167.3 351.0 166.7 347.7 166.0 345.0 C165.3 342.3 163.8 337.7 164.0 336.0Z" fill="#1c92ac"/>
<path d="M124.0 312.0 C124.7 311.2 129.3 312.8 132.0 313.0 C134.7 313.2 137.7 313.8 140.0 313.0 C142.3 312.2 144.3 309.5 146.0 308.0 C147.7 306.5 147.7 305.3 150.0 304.0 C152.3 302.7 157.0 300.7 160.0 300.0 C163.0 299.3 164.7 300.0 168.0 300.0 C171.3 300.0 176.3 300.7 180.0 300.0 C183.7 299.3 186.8 297.7 190.0 296.0 C193.2 294.3 197.5 288.5 199.0 290.0 C200.5 291.5 199.8 301.7 199.0 305.0 C198.2 308.3 196.2 309.0 194.0 310.0 C191.8 311.0 188.3 310.3 186.0 311.0 C183.7 311.7 182.0 313.2 180.0 314.0 C178.0 314.8 176.3 315.3 174.0 316.0 C171.7 316.7 168.7 317.7 166.0 318.0 C163.3 318.3 160.7 318.0 158.0 318.0 C155.3 318.0 152.3 317.3 150.0 318.0 C147.7 318.7 146.0 320.7 144.0 322.0 C142.0 323.3 140.0 325.7 138.0 326.0 C136.0 326.3 133.7 325.3 132.0 324.0 C130.3 322.7 129.3 320.0 128.0 318.0 C126.7 316.0 123.3 312.8 124.0 312.0Z" fill="#32ac78"/>
<path d="M180.0 286.0 C181.0 283.3 185.3 283.7 188.0 284.0 C190.7 284.3 194.2 286.0 196.0 288.0 C197.8 290.0 199.0 293.0 199.0 296.0 C199.0 299.0 197.8 304.0 196.0 306.0 C194.2 308.0 190.3 309.0 188.0 308.0 C185.7 307.0 183.3 303.7 182.0 300.0 C180.7 296.3 179.0 288.7 180.0 286.0Z" fill="#32ac78"/>
<path d="M146.0 290.0 C146.7 287.3 147.7 285.0 150.0 284.0 C152.3 283.0 156.7 284.7 160.0 284.0 C163.3 283.3 167.3 279.8 170.0 280.0 C172.7 280.2 174.5 283.0 176.0 285.0 C177.5 287.0 178.3 289.5 179.0 292.0 C179.7 294.5 180.2 297.5 180.0 300.0 C179.8 302.5 179.0 305.3 178.0 307.0 C177.0 308.7 175.3 309.8 174.0 310.0 C172.7 310.2 171.7 307.7 170.0 308.0 C168.3 308.3 166.0 310.7 164.0 312.0 C162.0 313.3 160.0 315.3 158.0 316.0 C156.0 316.7 153.7 317.0 152.0 316.0 C150.3 315.0 149.0 312.7 148.0 310.0 C147.0 307.3 146.3 303.3 146.0 300.0 C145.7 296.7 145.3 292.7 146.0 290.0Z" fill="#3ec64b"/>
<path d="M145.0 288.0 C145.5 285.7 147.8 283.5 150.0 283.0 C152.2 282.5 155.7 285.2 158.0 285.0 C160.3 284.8 162.3 282.0 164.0 281.5 C165.7 281.0 167.2 280.2 168.0 282.0 C168.8 283.8 168.7 289.0 168.5 292.0 C168.3 295.0 167.9 298.0 167.0 300.0 C166.1 302.0 164.5 303.3 163.0 304.0 C161.5 304.7 159.8 304.3 158.0 304.0 C156.2 303.7 153.8 303.2 152.0 302.0 C150.2 300.8 148.2 299.3 147.0 297.0 C145.8 294.7 144.5 290.3 145.0 288.0Z" fill="#3cde14"/>
<path d="M152.0 292.0 C152.6 290.9 153.9 289.8 155.0 289.5 C156.1 289.2 157.8 289.2 158.5 290.0 C159.2 290.8 159.8 292.5 159.5 294.0 C159.2 295.5 158.0 298.0 157.0 299.0 C156.0 300.0 154.4 300.5 153.5 300.0 C152.6 299.5 151.8 297.3 151.5 296.0 C151.2 294.7 151.4 293.1 152.0 292.0Z" fill="#80eb34"/>
<path d="M166.0 306.0 C166.8 304.0 169.7 302.3 172.0 302.0 C174.3 301.7 178.0 302.5 180.0 304.0 C182.0 305.5 183.3 308.3 184.0 311.0 C184.7 313.7 184.7 317.5 184.0 320.0 C183.3 322.5 181.7 324.7 180.0 326.0 C178.3 327.3 175.8 328.7 174.0 328.0 C172.2 327.3 170.2 324.3 169.0 322.0 C167.8 319.7 167.5 316.7 167.0 314.0 C166.5 311.3 165.2 308.0 166.0 306.0Z" fill="#80eb34"/>
<path d="M167.0 309.0 C167.3 307.5 168.7 305.8 170.0 305.0 C171.3 304.2 173.5 303.8 175.0 304.0 C176.5 304.2 178.0 304.8 179.0 306.0 C180.0 307.2 180.6 309.3 181.0 311.0 C181.4 312.7 182.0 314.8 181.5 316.0 C181.0 317.2 179.6 317.8 178.0 318.0 C176.4 318.2 173.7 317.7 172.0 317.0 C170.3 316.3 168.8 315.3 168.0 314.0 C167.2 312.7 166.7 310.5 167.0 309.0Z" fill="#80eb34"/>
<path d="M171.0 316.0 C171.6 314.9 173.5 314.7 175.0 314.5 C176.5 314.3 178.8 314.3 180.0 315.0 C181.2 315.7 182.1 317.2 182.3 318.5 C182.5 319.8 181.9 321.8 181.0 323.0 C180.1 324.2 178.2 325.7 177.0 326.0 C175.8 326.3 174.4 325.8 173.5 325.0 C172.6 324.2 171.9 322.5 171.5 321.0 C171.1 319.5 170.4 317.1 171.0 316.0Z" fill="#c0f55a"/>
<path d="M180.1 328.0 C180.4 325.2 182.1 321.2 183.8 318.8 C185.5 316.4 187.8 314.5 190.2 313.3 C192.6 312.1 196.4 311.2 198.5 311.5 C200.6 311.8 202.1 313.3 203.0 315.1 C203.9 316.9 203.7 320.2 204.2 322.5 C204.7 324.8 206.0 326.9 205.8 328.9 C205.6 330.9 204.7 332.9 203.0 334.4 C201.3 335.9 198.3 337.2 195.7 338.0 C193.1 338.8 189.8 339.4 187.5 339.0 C185.2 338.6 183.2 337.1 182.0 335.3 C180.8 333.5 179.8 330.8 180.1 328.0Z" fill="#1a3794"/>
<path d="M210.5 328.0 C211.0 327.0 212.6 326.4 214.0 326.0 C215.4 325.6 218.2 324.2 219.0 325.5 C219.8 326.8 219.8 332.5 219.0 334.0 C218.2 335.5 215.3 334.8 214.0 334.5 C212.7 334.2 211.6 333.1 211.0 332.0 C210.4 330.9 210.0 329.0 210.5 328.0Z" fill="#1a3794"/>
<path d="M154.2 325.0 C154.2 325.5 153.9 326.1 153.6 326.4 C153.3 326.7 152.7 327.0 152.2 327.0 C151.7 327.0 151.1 326.7 150.8 326.4 C150.5 326.1 150.2 325.5 150.2 325.0 C150.2 324.5 150.5 323.9 150.8 323.6 C151.1 323.3 151.7 323.0 152.2 323.0 C152.7 323.0 153.3 323.3 153.6 323.6 C153.9 323.9 154.2 324.5 154.2 325.0Z" fill="#1a3794"/>
<path d="M176.0 330.7 C176.0 330.9 175.9 331.2 175.7 331.4 C175.5 331.6 175.2 331.7 175.0 331.7 C174.8 331.7 174.5 331.6 174.3 331.4 C174.1 331.2 174.0 330.9 174.0 330.7 C174.0 330.5 174.1 330.2 174.3 330.0 C174.5 329.8 174.8 329.7 175.0 329.7 C175.2 329.7 175.5 329.8 175.7 330.0 C175.9 330.2 176.0 330.5 176.0 330.7Z" fill="#1a3794"/>
<path d="M141.0 346.0 C141.3 343.2 143.3 341.7 145.0 341.0 C146.7 340.3 149.2 341.0 151.0 342.0 C152.8 343.0 154.5 345.0 156.0 347.0 C157.5 349.0 158.7 352.2 160.0 354.0 C161.3 355.8 162.3 357.3 164.0 358.0 C165.7 358.7 168.0 357.7 170.0 358.0 C172.0 358.3 174.5 358.7 176.0 360.0 C177.5 361.3 178.3 364.0 179.0 366.0 C179.7 368.0 179.2 369.7 180.0 372.0 C180.8 374.3 183.0 377.7 184.0 380.0 C185.0 382.3 186.7 384.3 186.0 386.0 C185.3 387.7 182.3 389.7 180.0 390.0 C177.7 390.3 174.7 389.0 172.0 388.0 C169.3 387.0 166.3 385.7 164.0 384.0 C161.7 382.3 160.0 380.0 158.0 378.0 C156.0 376.0 153.8 374.0 152.0 372.0 C150.2 370.0 148.5 368.3 147.0 366.0 C145.5 363.7 144.0 361.3 143.0 358.0 C142.0 354.7 140.7 348.8 141.0 346.0Z" fill="#1c92ac"/>
<path d="M144.0 349.5 C144.4 347.9 147.4 347.3 148.9 347.9 C150.4 348.4 151.5 350.9 153.0 352.8 C154.5 354.7 156.1 357.2 158.0 359.4 C159.9 361.6 162.4 364.3 164.6 366.0 C166.8 367.7 169.0 369.1 171.2 369.4 C173.4 369.7 175.9 367.6 178.0 368.0 C180.1 368.4 183.0 369.7 184.0 372.0 C185.0 374.3 185.0 379.8 184.0 382.0 C183.0 384.2 180.4 385.2 178.0 385.0 C175.6 384.8 172.1 382.5 169.6 381.0 C167.1 379.5 165.1 377.9 163.0 376.0 C160.9 374.1 159.1 371.6 157.2 369.4 C155.3 367.2 153.2 364.7 151.4 362.8 C149.6 360.9 147.6 360.0 146.4 357.8 C145.2 355.6 143.6 351.1 144.0 349.5Z" fill="#32ac78"/>
<path d="M153.0 353.6 C153.0 354.5 152.7 355.4 152.4 356.1 C152.0 356.7 151.3 357.3 150.7 357.6 C150.1 357.8 149.3 357.8 148.7 357.6 C148.1 357.3 147.4 356.7 147.0 356.1 C146.7 355.4 146.4 354.5 146.4 353.6 C146.4 352.8 146.7 351.9 147.0 351.2 C147.4 350.6 148.1 350.0 148.7 349.7 C149.3 349.5 150.1 349.5 150.7 349.7 C151.3 350.0 152.0 350.6 152.4 351.2 C152.7 351.9 153.0 352.8 153.0 353.6Z" fill="#3ec64b"/>
<path d="M166.3 370.0 C167.1 368.5 169.7 368.2 172.0 368.0 C174.3 367.8 178.7 367.0 180.0 369.0 C181.3 371.0 181.3 378.0 180.0 380.0 C178.7 382.0 174.2 381.5 172.0 381.0 C169.8 380.5 167.9 378.8 167.0 377.0 C166.1 375.2 165.5 371.5 166.3 370.0Z" fill="#3ec64b"/>
<path d="M178.0 374.0 C178.0 374.8 177.7 375.7 177.1 376.4 C176.6 377.0 175.7 377.6 174.9 377.8 C174.1 378.0 172.9 378.0 172.1 377.8 C171.3 377.6 170.4 377.0 169.9 376.4 C169.3 375.7 169.0 374.8 169.0 374.0 C169.0 373.2 169.3 372.3 169.9 371.6 C170.4 371.0 171.3 370.4 172.1 370.2 C172.9 370.0 174.1 370.0 174.9 370.2 C175.7 370.4 176.6 371.0 177.1 371.6 C177.7 372.3 178.0 373.2 178.0 374.0Z" fill="#3cde14"/>
<path d="M162.8 353.2 C162.8 353.6 162.6 354.0 162.4 354.3 C162.1 354.5 161.7 354.7 161.3 354.7 C160.9 354.7 160.5 354.5 160.2 354.3 C160.0 354.0 159.8 353.6 159.8 353.2 C159.8 352.8 160.0 352.4 160.2 352.1 C160.5 351.9 160.9 351.7 161.3 351.7 C161.7 351.7 162.1 351.9 162.4 352.1 C162.6 352.4 162.8 352.8 162.8 353.2Z" fill="#1a3794"/>
<path d="M155.9 375.1 C155.9 375.6 155.6 376.2 155.3 376.5 C155.0 376.8 154.4 377.1 153.9 377.1 C153.4 377.1 152.8 376.8 152.5 376.5 C152.2 376.2 151.9 375.6 151.9 375.1 C151.9 374.6 152.2 374.0 152.5 373.7 C152.8 373.4 153.4 373.1 153.9 373.1 C154.4 373.1 155.0 373.4 155.3 373.7 C155.6 374.0 155.9 374.6 155.9 375.1Z" fill="#1a3794"/>
</g></g>
<text class="s" x="112.3" y="355.9" font-size="3.7" fill="#111">K</text>
<text class="s" x="112.3" y="360.2" font-size="3.7" fill="#111">(Cmol kg<tspan dy="-1.1" font-size="2.3">-1</tspan><tspan dy="1.1">)</tspan></text>
<text class="s" x="112.3" y="364.8" font-size="3.7" fill="#111">5-10 cm</text>
<rect x="112.3" y="366.4" width="6.4" height="2.8" fill="#ffff80"/>
<text x="120.2" y="368.8" font-size="2.65" fill="#555">0.05 - 0.1</text>
<rect x="112.3" y="371.0" width="6.4" height="2.8" fill="#c0f55a"/>
<text x="120.2" y="373.3" font-size="2.65" fill="#555">0.1 - 0.14</text>
<rect x="112.3" y="375.5" width="6.4" height="2.8" fill="#80eb34"/>
<text x="120.2" y="377.9" font-size="2.65" fill="#555">0.14 - 0.17</text>
<rect x="112.3" y="380.1" width="6.4" height="2.8" fill="#3cde14"/>
<text x="120.2" y="382.4" font-size="2.65" fill="#555">0.17 - 0.21</text>
<rect x="112.3" y="384.6" width="6.4" height="2.8" fill="#3ec64b"/>
<text x="120.2" y="387.0" font-size="2.65" fill="#555">0.21 - 0.28</text>
<rect x="112.3" y="389.2" width="6.4" height="2.8" fill="#32ac78"/>
<text x="120.2" y="391.6" font-size="2.65" fill="#555">0.28 - 0.39</text>
<rect x="112.3" y="393.8" width="6.4" height="2.8" fill="#1c92ac"/>
<text x="120.2" y="396.1" font-size="2.65" fill="#555">0.39 - 0.58</text>
<rect x="112.3" y="398.3" width="6.4" height="2.8" fill="#1c64a4"/>
<text x="120.2" y="400.7" font-size="2.65" fill="#555">0.58 - 0.87</text>
<rect x="112.3" y="402.9" width="6.4" height="2.8" fill="#1a3794"/>
<text x="120.2" y="405.2" font-size="2.65" fill="#555">0.87 - 1.35</text>
<rect x="112.3" y="407.4" width="6.4" height="2.8" fill="#0e127a"/>
<text x="120.2" y="409.8" font-size="2.65" fill="#555">1.35 - 2.12</text>
<path d="M164.4 410.2H210.8M164.4 410.2v-2.8M176.0 410.2v-2.8M187.6 410.2v-2.8M210.8 410.2v-2.8M170.2 410.2v-1.9M181.8 410.2v-1.9M193.4 410.2v-1.9M199.2 410.2v-1.9M205.0 410.2v-1.9M166.3 410.2v-1.2M168.3 410.2v-1.2" fill="none" stroke="#222" stroke-width="0.55"/>
<text x="164.4" y="405.3" font-size="4.2" font-weight="bold" text-anchor="middle" fill="#111">0</text>
<text x="176.0" y="405.3" font-size="4.2" font-weight="bold" text-anchor="middle" fill="#111">30</text>
<text x="187.6" y="405.3" font-size="4.2" font-weight="bold" text-anchor="middle" fill="#111">60</text>
<text x="206.9" y="405.3" font-size="4.2" font-weight="bold" fill="#111">120 km</text>
<path d="M214.7 284.4l3.2 9.3l-3.2 -2.5l-3.2 2.5z" fill="#000"/>
<text x="214.7" y="282.4" font-size="2.6" text-anchor="middle" fill="#555">N</text>
<g clip-path="url(#c8)"><g filter="url(#b)">
<rect x="223.3" y="273.0" width="115" height="125" fill="#1c92ac"/>
<path d="M228.0 278.0 C245.8 271.3 317.2 273.3 335.0 278.0 C352.8 282.7 338.5 300.7 335.0 306.0 C331.5 311.3 318.8 309.0 314.0 310.0 C309.2 311.0 308.7 311.0 306.0 312.0 C303.3 313.0 300.3 314.0 298.0 316.0 C295.7 318.0 294.3 322.0 292.0 324.0 C289.7 326.0 286.5 327.8 284.0 328.0 C281.5 328.2 279.3 326.0 277.0 325.0 C274.7 324.0 272.5 322.8 270.0 322.0 C267.5 321.2 264.7 320.9 262.0 320.5 C259.3 320.1 256.7 319.7 254.0 319.5 C251.3 319.3 248.7 319.8 246.0 319.5 C243.3 319.2 241.0 318.2 238.0 318.0 C235.0 317.8 229.7 324.7 228.0 318.0 C226.3 311.3 210.2 284.7 228.0 278.0Z" fill="#3cde14"/>
<path d="M234.6 312.5 C235.3 311.7 241.1 312.8 244.0 313.0 C246.9 313.2 250.3 313.2 252.0 314.0 C253.7 314.8 254.3 316.7 254.0 318.0 C253.7 319.3 251.7 321.3 250.0 322.0 C248.3 322.7 245.7 322.7 244.0 322.0 C242.3 321.3 241.6 319.6 240.0 318.0 C238.4 316.4 233.9 313.3 234.6 312.5Z" fill="#3ec64b"/>
<path d="M276.0 284.0 C277.0 280.0 280.3 281.0 282.0 282.0 C283.7 283.0 285.5 287.0 286.0 290.0 C286.5 293.0 285.7 297.0 285.0 300.0 C284.3 303.0 283.5 307.0 282.0 308.0 C280.5 309.0 277.0 310.0 276.0 306.0 C275.0 302.0 275.0 288.0 276.0 284.0Z" fill="#3ec64b"/>
<path d="M292.0 298.0 C293.0 296.0 297.3 296.0 300.0 296.0 C302.7 296.0 306.5 296.3 308.0 298.0 C309.5 299.7 310.0 304.0 309.0 306.0 C308.0 308.0 304.5 309.7 302.0 310.0 C299.5 310.3 295.7 310.0 294.0 308.0 C292.3 306.0 291.0 300.0 292.0 298.0Z" fill="#3ec64b"/>
<path d="M259.4 293.1 C259.4 294.2 259.1 295.4 258.8 296.3 C258.4 297.1 257.7 297.9 257.1 298.2 C256.5 298.6 255.7 298.6 255.1 298.2 C254.5 297.9 253.8 297.1 253.4 296.3 C253.1 295.4 252.8 294.2 252.8 293.1 C252.8 292.0 253.1 290.8 253.4 289.9 C253.8 289.1 254.5 288.3 255.1 288.0 C255.7 287.6 256.5 287.6 257.1 288.0 C257.7 288.3 258.4 289.1 258.8 289.9 C259.1 290.8 259.4 292.0 259.4 293.1Z" fill="#80eb34"/>
<path d="M252.8 308.4 C253.6 308.1 256.1 308.7 258.0 310.0 C259.9 311.3 263.7 314.6 264.4 316.0 C265.1 317.4 263.4 318.6 262.0 318.3 C260.6 318.0 257.5 315.1 256.0 314.0 C254.5 312.9 253.5 312.9 253.0 312.0 C252.5 311.1 252.0 308.7 252.8 308.4Z" fill="#80eb34"/>
<path d="M298.0 293.0 C298.0 293.8 297.7 294.7 297.1 295.4 C296.6 296.0 295.7 296.6 294.9 296.8 C294.1 297.0 292.9 297.0 292.1 296.8 C291.3 296.6 290.4 296.0 289.9 295.4 C289.3 294.7 289.0 293.8 289.0 293.0 C289.0 292.2 289.3 291.3 289.9 290.6 C290.4 290.0 291.3 289.4 292.1 289.2 C292.9 289.0 294.1 289.0 294.9 289.2 C295.7 289.4 296.6 290.0 297.1 290.6 C297.7 291.3 298.0 292.2 298.0 293.0Z" fill="#80eb34"/>
<path d="M264.0 286.0 C265.2 284.3 268.0 283.7 270.0 284.0 C272.0 284.3 274.5 286.0 276.0 288.0 C277.5 290.0 278.7 293.0 279.0 296.0 C279.3 299.0 278.0 302.7 278.0 306.0 C278.0 309.3 279.3 313.2 279.0 316.0 C278.7 318.8 277.5 322.0 276.0 323.0 C274.5 324.0 271.7 323.5 270.0 322.0 C268.3 320.5 267.0 317.0 266.0 314.0 C265.0 311.0 264.6 307.3 264.0 304.0 C263.4 300.7 262.7 297.0 262.7 294.0 C262.7 291.0 262.8 287.7 264.0 286.0Z" fill="#32ac78"/>
<path d="M241.0 319.5 C241.8 318.4 247.5 318.1 250.0 318.0 C252.5 317.9 254.7 318.3 256.0 319.0 C257.3 319.7 258.7 321.1 258.0 322.0 C257.3 322.9 254.2 324.1 252.0 324.5 C249.8 324.9 246.8 325.3 245.0 324.5 C243.2 323.7 240.2 320.6 241.0 319.5Z" fill="#32ac78"/>
<path d="M257.0 323.5 C257.5 322.6 259.6 322.0 261.0 322.0 C262.4 322.0 264.7 322.7 265.5 323.5 C266.3 324.3 266.6 326.2 266.0 327.0 C265.4 327.8 263.3 328.4 262.0 328.5 C260.7 328.6 258.8 328.3 258.0 327.5 C257.2 326.7 256.5 324.4 257.0 323.5Z" fill="#1c64a4"/>
<path d="M296.0 306.0 C297.0 304.5 301.3 304.0 304.0 304.0 C306.7 304.0 310.7 304.3 312.0 306.0 C313.3 307.7 313.3 312.3 312.0 314.0 C310.7 315.7 306.3 316.2 304.0 316.0 C301.7 315.8 299.3 314.7 298.0 313.0 C296.7 311.3 295.0 307.5 296.0 306.0Z" fill="#32ac78"/>
<path d="M274.0 310.0 C274.5 307.3 277.7 306.3 280.0 306.0 C282.3 305.7 285.8 306.7 288.0 308.0 C290.2 309.3 292.3 311.7 293.0 314.0 C293.7 316.3 292.8 319.8 292.0 322.0 C291.2 324.2 289.7 326.0 288.0 327.0 C286.3 328.0 283.8 328.8 282.0 328.0 C280.2 327.2 278.3 325.0 277.0 322.0 C275.7 319.0 273.5 312.7 274.0 310.0Z" fill="#80eb34"/>
<path d="M276.0 310.0 C277.1 308.2 280.5 307.6 282.6 307.6 C284.7 307.6 286.9 308.6 288.4 310.0 C289.9 311.4 291.3 313.9 291.7 315.8 C292.1 317.7 291.7 320.1 290.9 321.6 C290.1 323.1 287.9 324.2 286.7 325.0 C285.4 325.8 284.6 327.2 283.4 326.6 C282.2 326.0 280.5 323.0 279.3 321.6 C278.1 320.2 276.6 320.2 276.0 318.3 C275.4 316.4 274.9 311.8 276.0 310.0Z" fill="#c0f55a"/>
<path d="M244.0 332.0 C245.0 330.1 249.3 328.9 252.0 328.5 C254.7 328.1 257.5 329.0 260.0 329.5 C262.5 330.0 264.8 330.6 267.0 331.5 C269.2 332.4 271.3 333.6 273.0 335.0 C274.7 336.4 276.3 338.2 277.0 340.0 C277.7 341.8 277.8 344.0 277.0 346.0 C276.2 348.0 274.2 350.7 272.0 352.0 C269.8 353.3 266.7 354.0 264.0 354.0 C261.3 354.0 258.3 353.0 256.0 352.0 C253.7 351.0 251.7 350.0 250.0 348.0 C248.3 346.0 247.0 342.7 246.0 340.0 C245.0 337.3 243.0 333.9 244.0 332.0Z" fill="#1c64a4"/>
<path d="M246.0 336.0 C247.2 334.5 251.0 333.2 254.0 333.0 C257.0 332.8 261.3 333.8 264.0 335.0 C266.7 336.2 269.3 337.8 270.0 340.0 C270.7 342.2 269.7 346.3 268.0 348.0 C266.3 349.7 262.7 350.2 260.0 350.0 C257.3 349.8 254.2 348.3 252.0 347.0 C249.8 345.7 248.0 343.8 247.0 342.0 C246.0 340.2 244.8 337.5 246.0 336.0Z" fill="#1a3794"/>
<path d="M266.3 340.4 C266.3 341.5 265.7 342.9 265.0 343.7 C264.2 344.4 262.8 345.0 261.7 345.0 C260.6 345.0 259.2 344.4 258.4 343.7 C257.7 342.9 257.1 341.5 257.1 340.4 C257.1 339.3 257.7 337.9 258.4 337.1 C259.2 336.4 260.6 335.8 261.7 335.8 C262.8 335.8 264.2 336.4 265.0 337.1 C265.7 337.9 266.3 339.3 266.3 340.4Z" fill="#0e127a"/>
<path d="M266.2 327.2 C266.8 326.5 268.7 325.4 270.3 325.8 C271.9 326.2 273.8 328.3 275.7 329.9 C277.6 331.5 281.0 333.9 281.8 335.3 C282.6 336.7 281.4 337.8 280.4 338.0 C279.4 338.2 277.4 337.5 275.7 336.6 C274.0 335.7 271.8 333.7 270.3 332.6 C268.8 331.5 267.6 330.8 266.9 329.9 C266.2 329.0 265.6 327.9 266.2 327.2Z" fill="#3ec64b"/>
<path d="M267.0 327.5 C267.5 327.0 269.1 326.0 270.3 326.3 C271.6 326.6 273.9 328.5 274.5 329.5 C275.1 330.5 274.7 332.2 274.0 332.5 C273.3 332.8 271.6 332.0 270.5 331.5 C269.4 331.0 268.1 330.2 267.5 329.5 C266.9 328.8 266.5 328.0 267.0 327.5Z" fill="#3cde14"/>
<path d="M299.1 320.0 C301.0 318.5 305.2 316.1 307.4 315.8 C309.6 315.5 311.7 316.8 312.4 318.3 C313.1 319.8 312.3 323.1 311.5 325.0 C310.7 326.9 308.9 328.5 307.4 329.9 C305.9 331.3 304.3 332.1 302.4 333.2 C300.5 334.3 298.0 335.1 295.8 336.5 C293.6 337.9 291.4 340.8 289.2 341.5 C287.0 342.2 283.4 341.7 282.6 340.6 C281.8 339.5 282.9 336.7 284.3 334.9 C285.7 333.1 289.0 331.5 290.9 329.9 C292.8 328.2 294.4 326.6 295.8 325.0 C297.2 323.4 297.2 321.5 299.1 320.0Z" fill="#1c64a4"/>
<path d="M318.0 328.0 C318.7 326.3 322.2 325.7 324.0 326.0 C325.8 326.3 328.7 328.3 329.0 330.0 C329.3 331.7 327.5 335.0 326.0 336.0 C324.5 337.0 321.3 337.3 320.0 336.0 C318.7 334.7 317.3 329.7 318.0 328.0Z" fill="#1c64a4"/>
<path d="M284.0 340.0 C285.0 337.7 288.0 337.7 290.0 338.0 C292.0 338.3 294.7 340.0 296.0 342.0 C297.3 344.0 298.0 347.0 298.0 350.0 C298.0 353.0 297.0 357.3 296.0 360.0 C295.0 362.7 293.7 365.7 292.0 366.0 C290.3 366.3 287.3 364.3 286.0 362.0 C284.7 359.7 284.3 355.7 284.0 352.0 C283.7 348.3 283.0 342.3 284.0 340.0Z" fill="#1c64a4"/>
<path d="M310.0 346.0 C311.7 344.7 316.0 343.3 318.0 344.0 C320.0 344.7 322.0 347.7 322.0 350.0 C322.0 352.3 319.7 356.7 318.0 358.0 C316.3 359.3 313.7 359.0 312.0 358.0 C310.3 357.0 308.3 354.0 308.0 352.0 C307.7 350.0 308.3 347.3 310.0 346.0Z" fill="#1c64a4"/>
<path d="M272.6 353.0 C272.6 353.3 272.4 353.7 272.2 353.9 C272.0 354.1 271.6 354.3 271.3 354.3 C271.0 354.3 270.6 354.1 270.4 353.9 C270.2 353.7 270.0 353.3 270.0 353.0 C270.0 352.7 270.2 352.3 270.4 352.1 C270.6 351.9 271.0 351.7 271.3 351.7 C271.6 351.7 272.0 351.9 272.2 352.1 C272.4 352.3 272.6 352.7 272.6 353.0Z" fill="#1c64a4"/>
<path d="M273.1 360.3 C273.1 360.6 272.9 361.0 272.7 361.2 C272.5 361.4 272.1 361.6 271.8 361.6 C271.5 361.6 271.1 361.4 270.9 361.2 C270.7 361.0 270.5 360.6 270.5 360.3 C270.5 360.0 270.7 359.6 270.9 359.4 C271.1 359.2 271.5 359.0 271.8 359.0 C272.1 359.0 272.5 359.2 272.7 359.4 C272.9 359.6 273.1 360.0 273.1 360.3Z" fill="#1c64a4"/>
<path d="M238.0 352.0 C239.3 349.7 243.0 350.3 246.0 350.0 C249.0 349.7 253.0 349.3 256.0 350.0 C259.0 350.7 262.0 352.0 264.0 354.0 C266.0 356.0 267.7 359.0 268.0 362.0 C268.3 365.0 267.0 369.3 266.0 372.0 C265.0 374.7 263.7 377.3 262.0 378.0 C260.3 378.7 258.3 376.7 256.0 376.0 C253.7 375.3 250.3 374.7 248.0 374.0 C245.7 373.3 243.7 373.7 242.0 372.0 C240.3 370.3 238.7 367.3 238.0 364.0 C237.3 360.7 236.7 354.3 238.0 352.0Z" fill="#3ec64b"/>
<path d="M241.0 353.0 C242.0 351.4 245.5 351.0 248.0 350.5 C250.5 350.0 253.7 349.6 256.0 350.0 C258.3 350.4 261.0 351.0 262.0 353.0 C263.0 355.0 263.0 359.8 262.0 362.0 C261.0 364.2 258.3 365.7 256.0 366.0 C253.7 366.3 250.3 365.0 248.0 364.0 C245.7 363.0 243.2 361.8 242.0 360.0 C240.8 358.2 240.0 354.6 241.0 353.0Z" fill="#3cde14"/>
<path d="M242.0 355.3 C242.7 354.3 245.7 352.8 247.8 352.0 C249.9 351.2 252.6 350.1 254.4 350.4 C256.2 350.7 258.5 352.6 258.6 353.7 C258.8 354.8 257.0 356.3 255.3 357.0 C253.7 357.7 250.6 357.7 248.7 357.8 C246.8 357.9 244.8 358.2 243.7 357.8 C242.6 357.4 241.3 356.3 242.0 355.3Z" fill="#80eb34"/>
<path d="M259.0 368.0 C259.0 369.0 258.5 370.1 257.7 370.9 C256.9 371.7 255.5 372.5 254.2 372.8 C252.9 373.1 251.1 373.1 249.8 372.8 C248.5 372.5 247.1 371.7 246.3 370.9 C245.5 370.1 245.0 369.0 245.0 368.0 C245.0 367.0 245.5 365.9 246.3 365.1 C247.1 364.3 248.5 363.5 249.8 363.2 C251.1 362.9 252.9 362.9 254.2 363.2 C255.5 363.5 256.9 364.3 257.7 365.1 C258.5 365.9 259.0 367.0 259.0 368.0Z" fill="#32ac78"/>
<path d="M258.0 367.5 C258.0 368.2 257.6 369.0 257.0 369.6 C256.5 370.1 255.5 370.6 254.5 370.8 C253.6 371.0 252.4 371.0 251.5 370.8 C250.5 370.6 249.5 370.1 249.0 369.6 C248.4 369.0 248.0 368.2 248.0 367.5 C248.0 366.8 248.4 366.0 249.0 365.4 C249.5 364.9 250.5 364.4 251.5 364.2 C252.4 364.0 253.6 364.0 254.5 364.2 C255.5 364.4 256.5 364.9 257.0 365.4 C257.6 366.0 258.0 366.8 258.0 367.5Z" fill="#3ec64b"/>
<path d="M274.0 377.6 C274.0 379.5 273.0 381.9 271.7 383.3 C270.3 384.6 267.9 385.6 266.0 385.6 C264.1 385.6 261.7 384.6 260.3 383.3 C259.0 381.9 258.0 379.5 258.0 377.6 C258.0 375.7 259.0 373.3 260.3 371.9 C261.7 370.6 264.1 369.6 266.0 369.6 C267.9 369.6 270.3 370.6 271.7 371.9 C273.0 373.3 274.0 375.7 274.0 377.6Z" fill="#1c92ac"/>
<path d="M271.8 377.6 C271.8 379.0 271.1 380.7 270.1 381.7 C269.1 382.7 267.4 383.4 266.0 383.4 C264.6 383.4 262.9 382.7 261.9 381.7 C260.9 380.7 260.2 379.0 260.2 377.6 C260.2 376.2 260.9 374.5 261.9 373.5 C262.9 372.5 264.6 371.8 266.0 371.8 C267.4 371.8 269.1 372.5 270.1 373.5 C271.1 374.5 271.8 376.2 271.8 377.6Z" fill="#1c64a4"/>
<path d="M269.5 377.6 C269.5 378.4 269.1 379.5 268.5 380.1 C267.9 380.7 266.8 381.1 266.0 381.1 C265.2 381.1 264.1 380.7 263.5 380.1 C262.9 379.5 262.5 378.4 262.5 377.6 C262.5 376.8 262.9 375.7 263.5 375.1 C264.1 374.5 265.2 374.1 266.0 374.1 C266.8 374.1 267.9 374.5 268.5 375.1 C269.1 375.7 269.5 376.8 269.5 377.6Z" fill="#1a3794"/>
<path d="M270.0 361.0 C271.2 358.3 275.0 356.5 278.0 356.0 C281.0 355.5 285.7 356.3 288.0 358.0 C290.3 359.7 291.3 362.7 292.0 366.0 C292.7 369.3 293.0 374.7 292.0 378.0 C291.0 381.3 288.3 384.3 286.0 386.0 C283.7 387.7 280.2 388.3 278.0 388.0 C275.8 387.7 274.2 386.7 273.0 384.0 C271.8 381.3 271.5 375.8 271.0 372.0 C270.5 368.2 268.8 363.7 270.0 361.0Z" fill="#3cde14"/>
<path d="M287.0 382.0 C287.0 382.9 286.7 383.9 286.1 384.6 C285.6 385.4 284.7 386.0 283.9 386.3 C283.1 386.6 281.9 386.6 281.1 386.3 C280.3 386.0 279.4 385.4 278.9 384.6 C278.3 383.9 278.0 382.9 278.0 382.0 C278.0 381.1 278.3 380.1 278.9 379.4 C279.4 378.6 280.3 378.0 281.1 377.7 C281.9 377.4 283.1 377.4 283.9 377.7 C284.7 378.0 285.6 378.6 286.1 379.4 C286.7 380.1 287.0 381.1 287.0 382.0Z" fill="#80eb34"/>
<path d="M280.8 370.2 C280.8 370.9 280.4 371.8 279.9 372.3 C279.4 372.8 278.5 373.2 277.8 373.2 C277.1 373.2 276.2 372.8 275.7 372.3 C275.2 371.8 274.8 370.9 274.8 370.2 C274.8 369.5 275.2 368.6 275.7 368.1 C276.2 367.6 277.1 367.2 277.8 367.2 C278.5 367.2 279.4 367.6 279.9 368.1 C280.4 368.6 280.8 369.5 280.8 370.2Z" fill="#3ec64b"/>
<path d="M286.0 382.5 C286.0 383.1 285.7 383.8 285.4 384.3 C285.0 384.7 284.3 385.2 283.7 385.4 C283.1 385.5 282.2 385.5 281.6 385.4 C281.0 385.2 280.3 384.7 279.9 384.3 C279.6 383.8 279.3 383.1 279.3 382.5 C279.3 381.9 279.6 381.2 279.9 380.7 C280.3 380.3 281.0 379.8 281.6 379.6 C282.2 379.5 283.1 379.5 283.7 379.6 C284.3 379.8 285.0 380.3 285.4 380.7 C285.7 381.2 286.0 381.9 286.0 382.5Z" fill="#c0f55a"/>
<path d="M286.0 356.0 C286.3 354.3 288.3 351.7 290.0 352.0 C291.7 352.3 294.7 355.3 296.0 358.0 C297.3 360.7 297.7 364.7 298.0 368.0 C298.3 371.3 298.7 376.0 298.0 378.0 C297.3 380.0 295.0 381.3 294.0 380.0 C293.0 378.7 293.0 373.0 292.0 370.0 C291.0 367.0 289.0 364.3 288.0 362.0 C287.0 359.7 285.7 357.7 286.0 356.0Z" fill="#1c92ac"/>
<path d="M315.7 343.6 C315.7 345.1 314.9 346.8 313.7 348.0 C312.5 349.1 310.5 350.2 308.5 350.6 C306.6 351.1 304.1 351.1 302.2 350.6 C300.2 350.2 298.2 349.1 297.0 348.0 C295.8 346.8 295.0 345.1 295.0 343.6 C295.0 342.2 295.8 340.5 297.0 339.3 C298.2 338.2 300.2 337.1 302.2 336.7 C304.1 336.2 306.6 336.2 308.5 336.7 C310.5 337.1 312.5 338.2 313.7 339.3 C314.9 340.5 315.7 342.2 315.7 343.6Z" fill="#32ac78"/>
<path d="M310.7 342.5 C310.7 343.2 310.3 344.1 309.8 344.7 C309.2 345.3 308.2 345.8 307.3 346.0 C306.4 346.2 305.1 346.2 304.2 346.0 C303.3 345.8 302.3 345.3 301.7 344.7 C301.2 344.1 300.8 343.2 300.8 342.5 C300.8 341.8 301.2 340.9 301.7 340.3 C302.3 339.7 303.3 339.2 304.2 339.0 C305.1 338.8 306.4 338.8 307.3 339.0 C308.2 339.2 309.2 339.7 309.8 340.3 C310.3 340.9 310.7 341.8 310.7 342.5Z" fill="#3ec64b"/>
<path d="M314.0 402.0 C314.0 403.2 313.3 404.6 312.3 405.5 C311.2 406.5 309.5 407.3 307.8 407.7 C306.1 408.1 303.9 408.1 302.2 407.7 C300.5 407.3 298.8 406.5 297.7 405.5 C296.7 404.6 296.0 403.2 296.0 402.0 C296.0 400.8 296.7 399.4 297.7 398.5 C298.8 397.5 300.5 396.7 302.2 396.3 C303.9 395.9 306.1 395.9 307.8 396.3 C309.5 396.7 311.2 397.5 312.3 398.5 C313.3 399.4 314.0 400.8 314.0 402.0Z" fill="#32ac78"/>
<path d="M310.0 404.0 C310.0 404.8 309.6 405.7 309.0 406.4 C308.5 407.0 307.5 407.6 306.5 407.8 C305.6 408.0 304.4 408.0 303.5 407.8 C302.5 407.6 301.5 407.0 301.0 406.4 C300.4 405.7 300.0 404.8 300.0 404.0 C300.0 403.2 300.4 402.3 301.0 401.6 C301.5 401.0 302.5 400.4 303.5 400.2 C304.4 400.0 305.6 400.0 306.5 400.2 C307.5 400.4 308.5 401.0 309.0 401.6 C309.6 402.3 310.0 403.2 310.0 404.0Z" fill="#3ec64b"/>
<path d="M295.0 357.0 C295.4 355.5 297.4 354.0 299.1 353.7 C300.8 353.4 303.6 354.5 305.0 355.3 C306.4 356.1 307.5 357.4 307.4 358.6 C307.2 359.9 305.2 361.7 304.1 362.8 C303.0 363.9 302.0 365.2 300.8 365.2 C299.6 365.2 297.7 364.2 296.7 362.8 C295.7 361.4 294.6 358.5 295.0 357.0Z" fill="#1a3794"/>
</g></g>
<text class="s" x="222.8" y="356.1" font-size="3.7" fill="#111">K</text>
<text class="s" x="222.8" y="360.4" font-size="3.7" fill="#111">(Cmol kg<tspan dy="-1.1" font-size="2.3">-1</tspan><tspan dy="1.1">)</tspan></text>
<text class="s" x="222.8" y="365.1" font-size="3.7" fill="#111">&gt;10 cm</text>
<rect x="222.8" y="366.9" width="6.4" height="2.8" fill="#ffff80"/>
<text x="230.7" y="369.2" font-size="2.65" fill="#555">0.02 - 0.1</text>
<rect x="222.8" y="371.4" width="6.4" height="2.8" fill="#c0f55a"/>
<text x="230.7" y="373.8" font-size="2.65" fill="#555">0.1 - 0.15</text>
<rect x="222.8" y="375.9" width="6.4" height="2.8" fill="#80eb34"/>
<text x="230.7" y="378.3" font-size="2.65" fill="#555">0.15 - 0.18</text>
<rect x="222.8" y="380.4" width="6.4" height="2.8" fill="#3cde14"/>
<text x="230.7" y="382.8" font-size="2.65" fill="#555">0.18 - 0.23</text>
<rect x="222.8" y="384.9" width="6.4" height="2.8" fill="#3ec64b"/>
<text x="230.7" y="387.3" font-size="2.65" fill="#555">0.23 - 0.32</text>
<rect x="222.8" y="389.5" width="6.4" height="2.8" fill="#32ac78"/>
<text x="230.7" y="391.8" font-size="2.65" fill="#555">0.32 - 0.46</text>
<rect x="222.8" y="394.0" width="6.4" height="2.8" fill="#1c92ac"/>
<text x="230.7" y="396.3" font-size="2.65" fill="#555">0.46 - 0.7</text>
<rect x="222.8" y="398.5" width="6.4" height="2.8" fill="#1c64a4"/>
<text x="230.7" y="400.8" font-size="2.65" fill="#555">0.7 - 1.1</text>
<rect x="222.8" y="403.0" width="6.4" height="2.8" fill="#1a3794"/>
<text x="230.7" y="405.3" font-size="2.65" fill="#555">1.1 - 1.76</text>
<rect x="222.8" y="407.5" width="6.4" height="2.8" fill="#0e127a"/>
<text x="230.7" y="409.8" font-size="2.65" fill="#555">1.76 - 2.91</text>
<path d="M273.9 410.2H320.3M273.9 410.2v-2.8M285.5 410.2v-2.8M297.1 410.2v-2.8M320.3 410.2v-2.8M279.7 410.2v-1.9M291.3 410.2v-1.9M302.9 410.2v-1.9M308.7 410.2v-1.9M314.5 410.2v-1.9M275.8 410.2v-1.2M277.8 410.2v-1.2" fill="none" stroke="#222" stroke-width="0.55"/>
<text x="273.9" y="405.3" font-size="4.2" font-weight="bold" text-anchor="middle" fill="#111">0</text>
<text x="285.5" y="405.3" font-size="4.2" font-weight="bold" text-anchor="middle" fill="#111">30</text>
<text x="297.1" y="405.3" font-size="4.2" font-weight="bold" text-anchor="middle" fill="#111">60</text>
<text x="316.4" y="405.3" font-size="4.2" font-weight="bold" fill="#111">120 km</text>
<path d="M325.1 284.3l3.2 9.3l-3.2 -2.5l-3.2 2.5z" fill="#000"/>
<text x="325.1" y="282.3" font-size="2.6" text-anchor="middle" fill="#555">N</text>
<g clip-path="url(#c9)"><g filter="url(#b)">
<rect x="5.5" y="410.2" width="115" height="125" fill="#3ec64b"/>
<path d="M18.0 496.0 C19.3 493.7 25.0 493.8 28.0 494.0 C31.0 494.2 33.7 495.7 36.0 497.0 C38.3 498.3 40.3 500.2 42.0 502.0 C43.7 503.8 45.2 505.7 46.0 508.0 C46.8 510.3 47.3 513.5 47.0 516.0 C46.7 518.5 45.8 522.0 44.0 523.0 C42.2 524.0 39.0 523.2 36.0 522.0 C33.0 520.8 28.7 518.3 26.0 516.0 C23.3 513.7 21.3 511.3 20.0 508.0 C18.7 504.7 16.7 498.3 18.0 496.0Z" fill="#32ac78"/>
<path d="M52.0 506.0 C53.5 505.0 57.7 503.8 60.0 504.0 C62.3 504.2 65.3 505.7 66.0 507.0 C66.7 508.3 65.7 511.0 64.0 512.0 C62.3 513.0 58.2 513.3 56.0 513.0 C53.8 512.7 51.7 511.2 51.0 510.0 C50.3 508.8 50.5 507.0 52.0 506.0Z" fill="#32ac78"/>
<path d="M30.0 424.0 C31.3 422.7 36.7 422.7 40.0 422.0 C43.3 421.3 46.7 421.0 50.0 420.0 C53.3 419.0 56.7 415.3 60.0 416.0 C63.3 416.7 66.7 422.0 70.0 424.0 C73.3 426.0 76.7 427.3 80.0 428.0 C83.3 428.7 88.3 426.0 90.0 428.0 C91.7 430.0 91.0 437.3 90.0 440.0 C89.0 442.7 86.3 444.0 84.0 444.0 C81.7 444.0 78.7 440.7 76.0 440.0 C73.3 439.3 70.7 440.7 68.0 440.0 C65.3 439.3 62.0 438.0 60.0 436.0 C58.0 434.0 58.0 429.3 56.0 428.0 C54.0 426.7 50.7 427.7 48.0 428.0 C45.3 428.3 42.7 429.7 40.0 430.0 C37.3 430.3 33.7 431.0 32.0 430.0 C30.3 429.0 28.7 425.3 30.0 424.0Z" fill="#32ac78"/>
<path d="M16.0 449.0 C16.7 448.0 21.3 449.5 24.0 450.0 C26.7 450.5 29.7 451.0 32.0 452.0 C34.3 453.0 36.3 454.3 38.0 456.0 C39.7 457.7 41.7 459.7 42.0 462.0 C42.3 464.3 41.3 468.0 40.0 470.0 C38.7 472.0 36.0 474.0 34.0 474.0 C32.0 474.0 29.7 472.0 28.0 470.0 C26.3 468.0 25.3 464.3 24.0 462.0 C22.7 459.7 21.3 458.2 20.0 456.0 C18.7 453.8 15.3 450.0 16.0 449.0Z" fill="#32ac78"/>
<path d="M76.0 456.0 C77.3 453.7 81.0 451.3 84.0 450.0 C87.0 448.7 90.7 447.7 94.0 448.0 C97.3 448.3 101.0 449.7 104.0 452.0 C107.0 454.3 111.3 458.3 112.0 462.0 C112.7 465.7 109.7 470.3 108.0 474.0 C106.3 477.7 104.0 481.3 102.0 484.0 C100.0 486.7 98.3 489.3 96.0 490.0 C93.7 490.7 90.0 489.7 88.0 488.0 C86.0 486.3 84.0 482.7 84.0 480.0 C84.0 477.3 88.3 474.0 88.0 472.0 C87.7 470.0 84.0 469.3 82.0 468.0 C80.0 466.7 77.0 466.0 76.0 464.0 C75.0 462.0 74.7 458.3 76.0 456.0Z" fill="#32ac78"/>
<path d="M44.0 432.0 C45.2 430.0 49.3 428.0 52.0 428.0 C54.7 428.0 58.3 430.0 60.0 432.0 C61.7 434.0 62.3 437.7 62.0 440.0 C61.7 442.3 60.0 445.0 58.0 446.0 C56.0 447.0 52.2 447.0 50.0 446.0 C47.8 445.0 46.0 442.3 45.0 440.0 C44.0 437.7 42.8 434.0 44.0 432.0Z" fill="#3cde14"/>
<path d="M78.0 428.0 C79.7 426.0 84.0 425.0 86.0 426.0 C88.0 427.0 89.7 430.7 90.0 434.0 C90.3 437.3 89.0 443.0 88.0 446.0 C87.0 449.0 85.7 451.7 84.0 452.0 C82.3 452.3 79.3 450.3 78.0 448.0 C76.7 445.7 76.0 441.3 76.0 438.0 C76.0 434.7 76.3 430.0 78.0 428.0Z" fill="#3cde14"/>
<path d="M32.0 478.0 C33.0 475.3 37.0 475.0 40.0 474.0 C43.0 473.0 46.7 472.0 50.0 472.0 C53.3 472.0 56.7 474.0 60.0 474.0 C63.3 474.0 66.7 472.3 70.0 472.0 C73.3 471.7 77.0 471.0 80.0 472.0 C83.0 473.0 87.0 475.0 88.0 478.0 C89.0 481.0 87.0 486.3 86.0 490.0 C85.0 493.7 84.0 497.7 82.0 500.0 C80.0 502.3 76.7 503.7 74.0 504.0 C71.3 504.3 68.7 502.0 66.0 502.0 C63.3 502.0 61.0 504.0 58.0 504.0 C55.0 504.0 51.0 503.0 48.0 502.0 C45.0 501.0 42.3 500.0 40.0 498.0 C37.7 496.0 35.3 493.3 34.0 490.0 C32.7 486.7 31.0 480.7 32.0 478.0Z" fill="#3cde14"/>
<path d="M56.0 449.0 C56.8 447.2 59.7 446.2 62.0 446.0 C64.3 445.8 68.2 446.7 70.0 448.0 C71.8 449.3 73.0 452.0 73.0 454.0 C73.0 456.0 71.8 458.8 70.0 460.0 C68.2 461.2 64.2 461.5 62.0 461.0 C59.8 460.5 58.0 459.0 57.0 457.0 C56.0 455.0 55.2 450.8 56.0 449.0Z" fill="#3cde14"/>
<path d="M63.0 455.9 C63.0 456.7 62.7 457.6 62.4 458.3 C62.0 458.9 61.3 459.5 60.7 459.8 C60.1 460.0 59.2 460.0 58.6 459.8 C58.0 459.5 57.3 458.9 56.9 458.3 C56.6 457.6 56.3 456.7 56.3 455.9 C56.3 455.0 56.6 454.1 56.9 453.4 C57.3 452.8 58.0 452.2 58.6 451.9 C59.2 451.7 60.1 451.7 60.7 451.9 C61.3 452.2 62.0 452.8 62.4 453.4 C62.7 454.1 63.0 455.0 63.0 455.9Z" fill="#32ac78"/>
<path d="M63.0 437.5 C63.0 438.4 62.8 439.4 62.4 440.1 C62.1 440.9 61.5 441.5 60.9 441.8 C60.4 442.1 59.6 442.1 59.1 441.8 C58.5 441.5 57.9 440.9 57.6 440.1 C57.2 439.4 57.0 438.4 57.0 437.5 C57.0 436.6 57.2 435.6 57.6 434.9 C57.9 434.1 58.5 433.5 59.1 433.2 C59.6 432.9 60.4 432.9 60.9 433.2 C61.5 433.5 62.1 434.1 62.4 434.9 C62.8 435.6 63.0 436.6 63.0 437.5Z" fill="#32ac78"/>
<path d="M73.0 445.0 C73.0 446.0 72.7 447.1 72.3 447.9 C71.9 448.7 71.2 449.5 70.6 449.8 C69.9 450.1 69.1 450.1 68.4 449.8 C67.8 449.5 67.1 448.7 66.7 447.9 C66.3 447.1 66.0 446.0 66.0 445.0 C66.0 444.0 66.3 442.9 66.7 442.1 C67.1 441.3 67.8 440.5 68.4 440.2 C69.1 439.9 69.9 439.9 70.6 440.2 C71.2 440.5 71.9 441.3 72.3 442.1 C72.7 442.9 73.0 444.0 73.0 445.0Z" fill="#32ac78"/>
<path d="M35.0 424.0 C35.8 421.7 39.5 421.0 42.0 420.0 C44.5 419.0 47.7 418.0 50.0 418.0 C52.3 418.0 54.0 420.3 56.0 420.0 C58.0 419.7 60.3 415.8 62.0 416.0 C63.7 416.2 65.7 419.0 66.0 421.0 C66.3 423.0 65.0 426.0 64.0 428.0 C63.0 430.0 61.3 432.5 60.0 433.0 C58.7 433.5 57.7 431.5 56.0 431.0 C54.3 430.5 51.7 429.8 50.0 430.0 C48.3 430.2 47.3 431.0 46.0 432.0 C44.7 433.0 43.5 435.7 42.0 436.0 C40.5 436.3 38.2 436.0 37.0 434.0 C35.8 432.0 34.2 426.3 35.0 424.0Z" fill="#1c92ac"/>
<path d="M56.0 418.6 C57.1 416.8 60.7 417.2 62.6 417.8 C64.5 418.4 65.7 420.9 67.6 421.9 C69.5 422.9 72.0 422.5 74.2 423.6 C76.4 424.7 80.2 426.6 80.8 428.5 C81.3 430.4 79.2 433.7 77.5 435.1 C75.8 436.5 73.1 437.4 70.9 436.8 C68.7 436.2 66.8 433.2 64.3 431.8 C61.8 430.4 57.4 430.7 56.0 428.5 C54.6 426.3 54.9 420.4 56.0 418.6Z" fill="#1c92ac"/>
<path d="M49.7 427.5 C49.7 428.0 49.2 428.6 48.5 429.0 C47.8 429.4 46.6 429.7 45.4 429.9 C44.3 430.0 42.7 430.0 41.6 429.9 C40.4 429.7 39.2 429.4 38.5 429.0 C37.8 428.6 37.3 428.0 37.3 427.5 C37.3 427.0 37.8 426.4 38.5 426.0 C39.2 425.6 40.4 425.3 41.6 425.1 C42.7 425.0 44.3 425.0 45.4 425.1 C46.6 425.3 47.8 425.6 48.5 426.0 C49.2 426.4 49.7 427.0 49.7 427.5Z" fill="#1c64a4"/>
<path d="M78.3 429.0 C78.3 430.0 77.9 431.2 77.4 432.1 C76.8 432.9 75.8 433.7 74.9 434.0 C74.0 434.4 72.7 434.4 71.8 434.0 C70.9 433.7 69.9 432.9 69.3 432.1 C68.8 431.2 68.4 430.0 68.4 429.0 C68.4 427.9 68.8 426.7 69.3 425.8 C69.9 425.0 70.9 424.2 71.8 423.9 C72.7 423.5 74.0 423.5 74.9 423.9 C75.8 424.2 76.8 425.0 77.4 425.8 C77.9 426.7 78.3 427.9 78.3 429.0Z" fill="#1c64a4"/>
<path d="M24.0 458.0 C24.7 456.4 27.7 456.6 30.0 456.6 C32.3 456.6 35.8 457.1 38.0 458.0 C40.2 458.9 42.7 460.5 43.0 462.0 C43.3 463.5 41.8 466.0 40.0 467.0 C38.2 468.0 34.3 468.4 32.0 468.2 C29.7 468.0 27.3 467.7 26.0 466.0 C24.7 464.3 23.3 459.6 24.0 458.0Z" fill="#1c92ac"/>
<path d="M35.6 460.3 C35.6 460.8 35.3 461.4 35.0 461.7 C34.7 462.0 34.1 462.3 33.6 462.3 C33.1 462.3 32.5 462.0 32.2 461.7 C31.9 461.4 31.6 460.8 31.6 460.3 C31.6 459.8 31.9 459.2 32.2 458.9 C32.5 458.6 33.1 458.3 33.6 458.3 C34.1 458.3 34.7 458.6 35.0 458.9 C35.3 459.2 35.6 459.8 35.6 460.3Z" fill="#1c64a4"/>
<path d="M27.9 451.7 C27.9 452.0 27.7 452.5 27.5 452.7 C27.3 452.9 26.8 453.1 26.5 453.1 C26.2 453.1 25.7 452.9 25.5 452.7 C25.3 452.5 25.1 452.0 25.1 451.7 C25.1 451.4 25.3 450.9 25.5 450.7 C25.7 450.5 26.2 450.3 26.5 450.3 C26.8 450.3 27.3 450.5 27.5 450.7 C27.7 450.9 27.9 451.4 27.9 451.7Z" fill="#1c92ac"/>
<path d="M49.1 450.8 C49.1 451.1 48.9 451.6 48.7 451.8 C48.5 452.0 48.0 452.2 47.7 452.2 C47.4 452.2 46.9 452.0 46.7 451.8 C46.5 451.6 46.3 451.1 46.3 450.8 C46.3 450.5 46.5 450.0 46.7 449.8 C46.9 449.6 47.4 449.4 47.7 449.4 C48.0 449.4 48.5 449.6 48.7 449.8 C48.9 450.0 49.1 450.5 49.1 450.8Z" fill="#1c92ac"/>
<path d="M80.8 460.0 C81.3 458.1 83.2 455.2 84.9 454.1 C86.6 453.0 88.9 452.6 90.7 453.3 C92.5 454.0 94.3 456.5 95.7 458.3 C97.1 460.1 99.3 462.7 99.0 464.1 C98.7 465.5 95.9 465.9 94.0 466.5 C92.1 467.1 89.5 467.5 87.4 467.4 C85.3 467.3 82.7 466.9 81.6 465.7 C80.5 464.5 80.2 461.9 80.8 460.0Z" fill="#1c92ac"/>
<path d="M40.0 464.0 C41.3 462.7 45.3 462.0 48.0 462.0 C50.7 462.0 53.8 462.7 56.0 464.0 C58.2 465.3 60.3 467.3 61.0 470.0 C61.7 472.7 60.8 477.8 60.0 480.0 C59.2 482.2 57.7 483.3 56.0 483.0 C54.3 482.7 52.0 479.5 50.0 478.0 C48.0 476.5 45.7 475.3 44.0 474.0 C42.3 472.7 40.7 471.7 40.0 470.0 C39.3 468.3 38.7 465.3 40.0 464.0Z" fill="#32ac78"/>
<path d="M28.0 468.0 C28.3 469.0 31.5 471.5 34.0 472.0 C36.5 472.5 40.3 470.3 43.0 471.0 C45.7 471.7 47.8 474.2 50.0 476.0 C52.2 477.8 54.3 481.3 56.0 482.0 C57.7 482.7 59.2 481.7 60.0 480.0 C60.8 478.3 61.7 474.2 61.0 472.0 C60.3 469.8 58.2 468.2 56.0 467.0 C53.8 465.8 50.7 465.2 48.0 465.0 C45.3 464.8 42.7 465.8 40.0 466.0 C37.3 466.2 34.0 465.7 32.0 466.0 C30.0 466.3 27.7 467.0 28.0 468.0Z" fill="#1c92ac"/>
<path d="M58.0 437.6 C58.0 438.7 57.6 440.1 56.9 441.0 C56.2 441.9 55.1 442.8 54.0 443.1 C52.9 443.5 51.5 443.5 50.4 443.1 C49.3 442.8 48.2 441.9 47.5 441.0 C46.8 440.1 46.4 438.7 46.4 437.6 C46.4 436.5 46.8 435.1 47.5 434.2 C48.2 433.3 49.3 432.4 50.4 432.1 C51.5 431.7 52.9 431.7 54.0 432.1 C55.1 432.4 56.2 433.3 56.9 434.2 C57.6 435.1 58.0 436.5 58.0 437.6Z" fill="#80eb34"/>
<path d="M54.0 437.6 C54.0 438.3 53.8 439.1 53.4 439.6 C53.1 440.2 52.5 440.6 51.9 440.8 C51.4 441.0 50.6 441.0 50.1 440.8 C49.5 440.6 48.9 440.2 48.6 439.6 C48.2 439.1 48.0 438.3 48.0 437.6 C48.0 437.0 48.2 436.2 48.6 435.7 C48.9 435.1 49.5 434.7 50.1 434.5 C50.6 434.3 51.4 434.3 51.9 434.5 C52.5 434.7 53.1 435.1 53.4 435.7 C53.8 436.2 54.0 437.0 54.0 437.6Z" fill="#c0f55a"/>
<path d="M87.4 434.3 C87.4 434.9 87.2 435.7 86.8 436.2 C86.5 436.8 85.9 437.2 85.4 437.4 C84.9 437.6 84.1 437.6 83.6 437.4 C83.1 437.2 82.5 436.8 82.2 436.2 C81.8 435.7 81.6 434.9 81.6 434.3 C81.6 433.7 81.8 432.9 82.2 432.4 C82.5 431.8 83.1 431.4 83.6 431.2 C84.1 431.0 84.9 431.0 85.4 431.2 C85.9 431.4 86.5 431.8 86.8 432.4 C87.2 432.9 87.4 433.7 87.4 434.3Z" fill="#80eb34"/>
<path d="M64.9 456.6 C64.9 457.0 64.7 457.4 64.5 457.7 C64.2 457.9 63.8 458.1 63.4 458.1 C63.0 458.1 62.6 457.9 62.3 457.7 C62.1 457.4 61.9 457.0 61.9 456.6 C61.9 456.2 62.1 455.8 62.3 455.5 C62.6 455.3 63.0 455.1 63.4 455.1 C63.8 455.1 64.2 455.3 64.5 455.5 C64.7 455.8 64.9 456.2 64.9 456.6Z" fill="#80eb34"/>
<path d="M38.1 482.9 C38.9 481.4 40.7 478.6 42.2 477.9 C43.7 477.2 46.0 477.6 47.2 478.7 C48.5 479.8 48.6 482.7 49.7 484.5 C50.8 486.3 52.1 488.8 53.8 489.5 C55.4 490.2 58.1 488.1 59.6 488.7 C61.1 489.2 62.8 491.1 62.9 492.8 C63.0 494.5 61.8 497.2 60.4 498.6 C59.0 500.0 56.4 501.1 54.6 501.0 C52.8 500.9 51.2 499.2 49.7 497.8 C48.2 496.4 47.0 493.9 45.5 492.8 C44.0 491.7 42.0 492.1 40.6 491.1 C39.2 490.1 37.7 488.4 37.3 487.0 C36.9 485.6 37.3 484.4 38.1 482.9Z" fill="#c0f55a"/>
<path d="M72.5 478.2 C72.5 479.5 72.1 480.9 71.4 481.9 C70.7 482.9 69.6 483.8 68.5 484.2 C67.5 484.6 66.0 484.6 65.0 484.2 C63.9 483.8 62.8 482.9 62.1 481.9 C61.4 480.9 61.0 479.5 61.0 478.2 C61.0 477.0 61.4 475.6 62.1 474.6 C62.8 473.6 63.9 472.7 65.0 472.3 C66.0 471.9 67.5 471.9 68.5 472.3 C69.6 472.7 70.7 473.6 71.4 474.6 C72.1 475.6 72.5 477.0 72.5 478.2Z" fill="#c0f55a"/>
<path d="M80.0 479.5 C80.0 480.0 79.7 480.6 79.2 481.0 C78.7 481.4 77.9 481.7 77.1 481.9 C76.4 482.0 75.3 482.0 74.6 481.9 C73.8 481.7 73.0 481.4 72.5 481.0 C72.0 480.6 71.7 480.0 71.7 479.5 C71.7 479.0 72.0 478.4 72.5 478.0 C73.0 477.6 73.8 477.3 74.6 477.1 C75.3 477.0 76.4 477.0 77.1 477.1 C77.9 477.3 78.7 477.6 79.2 478.0 C79.7 478.4 80.0 479.0 80.0 479.5Z" fill="#c0f55a"/>
<path d="M40.6 507.3 C40.6 508.3 40.4 509.6 40.0 510.4 C39.7 511.3 39.1 512.0 38.6 512.3 C38.1 512.7 37.3 512.7 36.8 512.3 C36.3 512.0 35.7 511.3 35.4 510.4 C35.0 509.6 34.8 508.3 34.8 507.3 C34.8 506.3 35.0 505.0 35.4 504.2 C35.7 503.3 36.3 502.6 36.8 502.3 C37.3 501.9 38.1 501.9 38.6 502.3 C39.1 502.6 39.7 503.3 40.0 504.2 C40.4 505.0 40.6 506.3 40.6 507.3Z" fill="#32ac78"/>
<path d="M102.3 483.8 C102.3 484.9 101.8 486.2 101.0 487.1 C100.1 488.0 98.7 488.9 97.4 489.2 C96.1 489.6 94.4 489.6 93.1 489.2 C91.8 488.9 90.4 488.0 89.5 487.1 C88.7 486.2 88.2 484.9 88.2 483.8 C88.2 482.6 88.7 481.3 89.5 480.4 C90.4 479.5 91.8 478.6 93.1 478.3 C94.4 477.9 96.1 477.9 97.4 478.3 C98.7 478.6 100.1 479.5 101.0 480.4 C101.8 481.3 102.3 482.6 102.3 483.8Z" fill="#32ac78"/>
<path d="M99.0 483.5 C99.0 484.2 98.7 485.0 98.2 485.6 C97.8 486.1 97.0 486.6 96.2 486.8 C95.5 487.0 94.5 487.0 93.8 486.8 C93.0 486.6 92.2 486.1 91.8 485.6 C91.3 485.0 91.0 484.2 91.0 483.5 C91.0 482.8 91.3 482.0 91.8 481.4 C92.2 480.9 93.0 480.4 93.8 480.2 C94.5 480.0 95.5 480.0 96.2 480.2 C97.0 480.4 97.8 480.9 98.2 481.4 C98.7 482.0 99.0 482.8 99.0 483.5Z" fill="#1c92ac"/>
<path d="M85.8 486.6 C85.8 487.2 85.5 487.8 85.2 488.3 C84.8 488.8 84.1 489.2 83.5 489.4 C82.9 489.5 82.0 489.5 81.4 489.4 C80.8 489.2 80.1 488.8 79.7 488.3 C79.4 487.8 79.1 487.2 79.1 486.6 C79.1 486.0 79.4 485.4 79.7 484.9 C80.1 484.4 80.8 484.0 81.4 483.8 C82.0 483.7 82.9 483.7 83.5 483.8 C84.1 484.0 84.8 484.4 85.2 484.9 C85.5 485.4 85.8 486.0 85.8 486.6Z" fill="#32ac78"/>
<path d="M72.4 502.7 C72.4 503.1 72.2 503.5 72.0 503.8 C71.7 504.0 71.3 504.2 70.9 504.2 C70.5 504.2 70.1 504.0 69.8 503.8 C69.6 503.5 69.4 503.1 69.4 502.7 C69.4 502.3 69.6 501.9 69.8 501.6 C70.1 501.4 70.5 501.2 70.9 501.2 C71.3 501.2 71.7 501.4 72.0 501.6 C72.2 501.9 72.4 502.3 72.4 502.7Z" fill="#32ac78"/>
<path d="M68.0 507.7 C68.0 508.2 67.7 508.8 67.4 509.1 C67.1 509.4 66.5 509.7 66.0 509.7 C65.5 509.7 64.9 509.4 64.6 509.1 C64.3 508.8 64.0 508.2 64.0 507.7 C64.0 507.2 64.3 506.6 64.6 506.3 C64.9 506.0 65.5 505.7 66.0 505.7 C66.5 505.7 67.1 506.0 67.4 506.3 C67.7 506.6 68.0 507.2 68.0 507.7Z" fill="#32ac78"/>
</g></g>
<text class="s" x="2.8" y="494.8" font-size="3.7" fill="#111">SOM (%)</text>
<text class="s" x="2.8" y="499.2" font-size="3.7" fill="#111">0-5 cm</text>
<rect x="2.8" y="501.1" width="6.4" height="2.8" fill="#ffff80"/>
<text x="10.7" y="503.4" font-size="2.65" fill="#555">0.1 - 1.12</text>
<rect x="2.8" y="505.8" width="6.4" height="2.8" fill="#c0f55a"/>
<text x="10.7" y="508.1" font-size="2.65" fill="#555">1.12 - 1.8</text>
<rect x="2.8" y="510.4" width="6.4" height="2.8" fill="#80eb34"/>
<text x="10.7" y="512.8" font-size="2.65" fill="#555">1.8 - 2.29</text>
<rect x="2.8" y="515.1" width="6.4" height="2.8" fill="#3cde14"/>
<text x="10.7" y="517.5" font-size="2.65" fill="#555">2.29 - 2.88</text>
<rect x="2.8" y="519.8" width="6.4" height="2.8" fill="#3ec64b"/>
<text x="10.7" y="522.1" font-size="2.65" fill="#555">2.88 - 3.88</text>
<rect x="2.8" y="524.5" width="6.4" height="2.8" fill="#32ac78"/>
<text x="10.7" y="526.8" font-size="2.65" fill="#555">3.88 - 5.46</text>
<rect x="2.8" y="529.1" width="6.4" height="2.8" fill="#1c92ac"/>
<text x="10.7" y="531.5" font-size="2.65" fill="#555">5.46 - 7.72</text>
<rect x="2.8" y="533.8" width="6.4" height="2.8" fill="#1c64a4"/>
<text x="10.7" y="536.1" font-size="2.65" fill="#555">7.72 - 11.09</text>
<rect x="2.8" y="538.5" width="6.4" height="2.8" fill="#1a3794"/>
<text x="10.7" y="540.8" font-size="2.65" fill="#555">11.09 - 16.13</text>
<rect x="2.8" y="543.1" width="6.4" height="2.8" fill="#0e127a"/>
<text x="10.7" y="545.5" font-size="2.65" fill="#555">16.13 - 23.6</text>
<path d="M53.9 545.3H100.3M53.9 545.3v-2.8M65.5 545.3v-2.8M77.1 545.3v-2.8M100.3 545.3v-2.8M59.7 545.3v-1.9M71.3 545.3v-1.9M82.9 545.3v-1.9M88.7 545.3v-1.9M94.5 545.3v-1.9M55.8 545.3v-1.2M57.8 545.3v-1.2" fill="none" stroke="#222" stroke-width="0.55"/>
<text x="53.9" y="540.4" font-size="4.2" font-weight="bold" text-anchor="middle" fill="#111">0</text>
<text x="65.5" y="540.4" font-size="4.2" font-weight="bold" text-anchor="middle" fill="#111">30</text>
<text x="77.1" y="540.4" font-size="4.2" font-weight="bold" text-anchor="middle" fill="#111">60</text>
<text x="96.4" y="540.4" font-size="4.2" font-weight="bold" fill="#111">120 km</text>
<path d="M103.9 420.1l3.2 9.3l-3.2 -2.5l-3.2 2.5z" fill="#000"/>
<text x="103.9" y="418.1" font-size="2.6" text-anchor="middle" fill="#555">N</text>
<g clip-path="url(#c10)"><g filter="url(#b)">
<rect x="114.0" y="409.0" width="115" height="125" fill="#3ec64b"/>
<path d="M128.0 500.0 C129.3 497.7 134.7 496.0 138.0 496.0 C141.3 496.0 144.7 498.7 148.0 500.0 C151.3 501.3 154.7 503.7 158.0 504.0 C161.3 504.3 165.0 502.0 168.0 502.0 C171.0 502.0 173.0 503.3 176.0 504.0 C179.0 504.7 183.7 504.3 186.0 506.0 C188.3 507.7 190.0 511.7 190.0 514.0 C190.0 516.3 188.3 518.3 186.0 520.0 C183.7 521.7 179.0 522.7 176.0 524.0 C173.0 525.3 171.0 528.0 168.0 528.0 C165.0 528.0 161.3 525.3 158.0 524.0 C154.7 522.7 151.3 521.3 148.0 520.0 C144.7 518.7 141.0 517.7 138.0 516.0 C135.0 514.3 131.7 512.7 130.0 510.0 C128.3 507.3 126.7 502.3 128.0 500.0Z" fill="#32ac78"/>
<path d="M134.0 503.0 C135.3 502.0 141.7 503.5 146.0 504.0 C150.3 504.5 155.3 505.7 160.0 506.0 C164.7 506.3 171.3 505.3 174.0 506.0 C176.7 506.7 177.7 509.0 176.0 510.0 C174.3 511.0 168.3 511.7 164.0 512.0 C159.7 512.3 154.3 512.3 150.0 512.0 C145.7 511.7 140.7 511.5 138.0 510.0 C135.3 508.5 132.7 504.0 134.0 503.0Z" fill="#3ec64b"/>
<path d="M190.0 468.0 C191.7 466.0 195.0 463.0 198.0 462.0 C201.0 461.0 204.7 461.7 208.0 462.0 C211.3 462.3 217.0 461.7 218.0 464.0 C219.0 466.3 215.7 472.3 214.0 476.0 C212.3 479.7 210.3 483.0 208.0 486.0 C205.7 489.0 202.7 492.3 200.0 494.0 C197.3 495.7 194.0 497.0 192.0 496.0 C190.0 495.0 188.0 490.7 188.0 488.0 C188.0 485.3 192.0 482.3 192.0 480.0 C192.0 477.7 188.3 476.0 188.0 474.0 C187.7 472.0 188.3 470.0 190.0 468.0Z" fill="#32ac78"/>
<path d="M166.0 418.0 C167.3 415.3 172.7 419.0 176.0 420.0 C179.3 421.0 182.7 422.3 186.0 424.0 C189.3 425.7 194.7 427.7 196.0 430.0 C197.3 432.3 195.7 436.3 194.0 438.0 C192.3 439.7 189.0 440.0 186.0 440.0 C183.0 440.0 179.0 438.7 176.0 438.0 C173.0 437.3 169.7 439.3 168.0 436.0 C166.3 432.7 164.7 420.7 166.0 418.0Z" fill="#32ac78"/>
<path d="M132.0 482.0 C133.3 479.0 135.7 476.7 138.0 476.0 C140.3 475.3 143.7 476.7 146.0 478.0 C148.3 479.3 150.3 481.7 152.0 484.0 C153.7 486.3 155.7 489.3 156.0 492.0 C156.3 494.7 155.3 497.8 154.0 500.0 C152.7 502.2 150.3 504.0 148.0 505.0 C145.7 506.0 142.3 506.5 140.0 506.0 C137.7 505.5 135.7 504.0 134.0 502.0 C132.3 500.0 130.3 497.3 130.0 494.0 C129.7 490.7 130.7 485.0 132.0 482.0Z" fill="#32ac78"/>
<path d="M146.0 436.0 C147.5 434.0 151.3 432.0 154.0 432.0 C156.7 432.0 160.0 434.0 162.0 436.0 C164.0 438.0 164.7 441.3 166.0 444.0 C167.3 446.7 168.3 449.3 170.0 452.0 C171.7 454.7 173.7 458.0 176.0 460.0 C178.3 462.0 181.7 462.3 184.0 464.0 C186.3 465.7 189.3 467.3 190.0 470.0 C190.7 472.7 189.3 477.0 188.0 480.0 C186.7 483.0 184.0 485.7 182.0 488.0 C180.0 490.3 178.3 492.3 176.0 494.0 C173.7 495.7 170.7 497.3 168.0 498.0 C165.3 498.7 162.7 498.7 160.0 498.0 C157.3 497.3 154.3 495.7 152.0 494.0 C149.7 492.3 147.7 490.3 146.0 488.0 C144.3 485.7 142.0 483.0 142.0 480.0 C142.0 477.0 144.7 473.3 146.0 470.0 C147.3 466.7 149.7 463.3 150.0 460.0 C150.3 456.7 148.8 452.7 148.0 450.0 C147.2 447.3 145.3 446.3 145.0 444.0 C144.7 441.7 144.5 438.0 146.0 436.0Z" fill="#3cde14"/>
<path d="M161.3 449.2 C161.3 450.3 160.9 451.7 160.4 452.6 C159.8 453.5 158.8 454.4 157.9 454.7 C157.0 455.1 155.7 455.1 154.8 454.7 C153.9 454.4 152.9 453.5 152.3 452.6 C151.8 451.7 151.4 450.3 151.4 449.2 C151.4 448.1 151.8 446.7 152.3 445.8 C152.9 444.9 153.9 444.0 154.8 443.7 C155.7 443.3 157.0 443.3 157.9 443.7 C158.8 444.0 159.8 444.9 160.4 445.8 C160.9 446.7 161.3 448.1 161.3 449.2Z" fill="#32ac78"/>
<path d="M176.0 454.0 C176.0 455.2 175.5 456.6 174.9 457.5 C174.2 458.5 173.0 459.3 171.9 459.7 C170.7 460.1 169.3 460.1 168.1 459.7 C167.0 459.3 165.8 458.5 165.1 457.5 C164.5 456.6 164.0 455.2 164.0 454.0 C164.0 452.8 164.5 451.4 165.1 450.5 C165.8 449.5 167.0 448.7 168.1 448.3 C169.3 447.9 170.7 447.9 171.9 448.3 C173.0 448.7 174.2 449.5 174.9 450.5 C175.5 451.4 176.0 452.8 176.0 454.0Z" fill="#32ac78"/>
<path d="M182.0 446.0 C182.0 446.8 181.6 447.7 181.0 448.4 C180.5 449.0 179.5 449.6 178.5 449.8 C177.6 450.0 176.4 450.0 175.5 449.8 C174.5 449.6 173.5 449.0 173.0 448.4 C172.4 447.7 172.0 446.8 172.0 446.0 C172.0 445.2 172.4 444.3 173.0 443.6 C173.5 443.0 174.5 442.4 175.5 442.2 C176.4 442.0 177.6 442.0 178.5 442.2 C179.5 442.4 180.5 443.0 181.0 443.6 C181.6 444.3 182.0 445.2 182.0 446.0Z" fill="#32ac78"/>
<path d="M172.0 454.0 C172.0 454.8 171.8 455.7 171.4 456.4 C171.1 457.0 170.5 457.6 169.9 457.8 C169.4 458.0 168.6 458.0 168.1 457.8 C167.5 457.6 166.9 457.0 166.6 456.4 C166.2 455.7 166.0 454.8 166.0 454.0 C166.0 453.2 166.2 452.3 166.6 451.6 C166.9 451.0 167.5 450.4 168.1 450.2 C168.6 450.0 169.4 450.0 169.9 450.2 C170.5 450.4 171.1 451.0 171.4 451.6 C171.8 452.3 172.0 453.2 172.0 454.0Z" fill="#32ac78"/>
<path d="M185.0 480.0 C185.0 481.2 184.6 482.6 184.0 483.5 C183.5 484.5 182.5 485.3 181.5 485.7 C180.6 486.1 179.4 486.1 178.5 485.7 C177.5 485.3 176.5 484.5 176.0 483.5 C175.4 482.6 175.0 481.2 175.0 480.0 C175.0 478.8 175.4 477.4 176.0 476.5 C176.5 475.5 177.5 474.7 178.5 474.3 C179.4 473.9 180.6 473.9 181.5 474.3 C182.5 474.7 183.5 475.5 184.0 476.5 C184.6 477.4 185.0 478.8 185.0 480.0Z" fill="#32ac78"/>
<path d="M158.0 460.5 C158.0 461.6 157.6 462.9 157.0 463.7 C156.5 464.6 155.5 465.4 154.5 465.7 C153.6 466.1 152.4 466.1 151.5 465.7 C150.5 465.4 149.5 464.6 149.0 463.7 C148.4 462.9 148.0 461.6 148.0 460.5 C148.0 459.4 148.4 458.1 149.0 457.3 C149.5 456.4 150.5 455.6 151.5 455.3 C152.4 454.9 153.6 454.9 154.5 455.3 C155.5 455.6 156.5 456.4 157.0 457.3 C157.6 458.1 158.0 459.4 158.0 460.5Z" fill="#32ac78"/>
<path d="M176.0 467.0 C176.0 468.0 175.7 469.1 175.1 469.9 C174.6 470.7 173.7 471.5 172.9 471.8 C172.1 472.1 170.9 472.1 170.1 471.8 C169.3 471.5 168.4 470.7 167.9 469.9 C167.3 469.1 167.0 468.0 167.0 467.0 C167.0 466.0 167.3 464.9 167.9 464.1 C168.4 463.3 169.3 462.5 170.1 462.2 C170.9 461.9 172.1 461.9 172.9 462.2 C173.7 462.5 174.6 463.3 175.1 464.1 C175.7 464.9 176.0 466.0 176.0 467.0Z" fill="#32ac78"/>
<path d="M172.0 481.5 C172.0 482.6 171.5 483.9 170.9 484.7 C170.2 485.6 169.0 486.4 167.9 486.7 C166.7 487.1 165.3 487.1 164.1 486.7 C163.0 486.4 161.8 485.6 161.1 484.7 C160.5 483.9 160.0 482.6 160.0 481.5 C160.0 480.4 160.5 479.1 161.1 478.3 C161.8 477.4 163.0 476.6 164.1 476.3 C165.3 475.9 166.7 475.9 167.9 476.3 C169.0 476.6 170.2 477.4 170.9 478.3 C171.5 479.1 172.0 480.4 172.0 481.5Z" fill="#32ac78"/>
<path d="M184.0 496.0 C184.0 497.4 183.6 499.0 183.0 500.1 C182.5 501.2 181.5 502.2 180.5 502.7 C179.6 503.1 178.4 503.1 177.5 502.7 C176.5 502.2 175.5 501.2 175.0 500.1 C174.4 499.0 174.0 497.4 174.0 496.0 C174.0 494.6 174.4 493.0 175.0 491.9 C175.5 490.8 176.5 489.8 177.5 489.3 C178.4 488.9 179.6 488.9 180.5 489.3 C181.5 489.8 182.5 490.8 183.0 491.9 C183.6 493.0 184.0 494.6 184.0 496.0Z" fill="#32ac78"/>
<path d="M150.0 424.0 C151.0 422.3 155.7 421.3 158.0 420.0 C160.3 418.7 162.0 416.8 164.0 416.0 C166.0 415.2 168.2 414.3 170.0 415.0 C171.8 415.7 174.0 417.5 175.0 420.0 C176.0 422.5 176.5 427.0 176.0 430.0 C175.5 433.0 174.0 437.0 172.0 438.0 C170.0 439.0 166.3 437.3 164.0 436.0 C161.7 434.7 160.0 431.0 158.0 430.0 C156.0 429.0 153.3 431.0 152.0 430.0 C150.7 429.0 149.0 425.7 150.0 424.0Z" fill="#1c92ac"/>
<path d="M146.0 424.0 C146.5 422.7 148.0 422.0 150.0 422.0 C152.0 422.0 156.7 422.5 158.0 424.0 C159.3 425.5 159.0 429.7 158.0 431.0 C157.0 432.3 153.8 432.2 152.0 432.0 C150.2 431.8 148.0 431.3 147.0 430.0 C146.0 428.7 145.5 425.3 146.0 424.0Z" fill="#1c92ac"/>
<path d="M155.5 425.8 C155.5 426.2 155.2 426.7 154.7 427.0 C154.2 427.4 153.4 427.7 152.7 427.8 C151.9 427.9 150.9 427.9 150.1 427.8 C149.4 427.7 148.6 427.4 148.1 427.0 C147.6 426.7 147.3 426.2 147.3 425.8 C147.3 425.3 147.6 424.8 148.1 424.5 C148.6 424.1 149.4 423.8 150.1 423.7 C150.9 423.6 151.9 423.6 152.7 423.7 C153.4 423.8 154.2 424.1 154.7 424.5 C155.2 424.8 155.5 425.3 155.5 425.8Z" fill="#1a3794"/>
<path d="M125.0 448.4 C126.0 447.6 131.2 448.7 134.0 449.0 C136.8 449.3 139.3 449.2 142.0 450.0 C144.7 450.8 148.2 452.0 150.0 454.0 C151.8 456.0 153.0 459.7 153.0 462.0 C153.0 464.3 151.5 466.7 150.0 468.0 C148.5 469.3 146.0 470.0 144.0 470.0 C142.0 470.0 140.0 469.3 138.0 468.0 C136.0 466.7 133.7 464.3 132.0 462.0 C130.3 459.7 129.2 456.3 128.0 454.0 C126.8 451.7 124.0 449.2 125.0 448.4Z" fill="#1c92ac"/>
<path d="M145.6 459.1 C145.6 459.7 145.3 460.5 144.9 460.9 C144.5 461.3 143.7 461.6 143.1 461.6 C142.5 461.6 141.7 461.3 141.3 460.9 C140.9 460.5 140.6 459.7 140.6 459.1 C140.6 458.5 140.9 457.7 141.3 457.3 C141.7 456.9 142.5 456.6 143.1 456.6 C143.7 456.6 144.5 456.9 144.9 457.3 C145.3 457.7 145.6 458.5 145.6 459.1Z" fill="#1c64a4"/>
<path d="M159.5 449.2 C159.5 449.9 159.3 450.6 158.9 451.2 C158.6 451.7 158.0 452.1 157.4 452.3 C156.9 452.5 156.1 452.5 155.6 452.3 C155.0 452.1 154.4 451.7 154.1 451.2 C153.7 450.6 153.5 449.9 153.5 449.2 C153.5 448.6 153.7 447.9 154.1 447.3 C154.4 446.8 155.0 446.4 155.6 446.2 C156.1 446.0 156.9 446.0 157.4 446.2 C158.0 446.4 158.6 446.8 158.9 447.3 C159.3 447.9 159.5 448.6 159.5 449.2Z" fill="#1c92ac"/>
<path d="M161.7 461.6 C163.2 461.6 166.2 465.1 166.3 467.0 C166.4 468.9 163.5 473.2 162.0 473.2 C160.5 473.2 157.2 468.9 157.2 467.0 C157.1 465.1 160.2 461.6 161.7 461.6Z" fill="#1c92ac"/>
<path d="M188.2 428.0 C188.2 429.5 187.4 431.5 186.3 432.6 C185.2 433.7 183.2 434.5 181.7 434.5 C180.2 434.5 178.2 433.7 177.1 432.6 C176.0 431.5 175.2 429.5 175.2 428.0 C175.2 426.5 176.0 424.5 177.1 423.4 C178.2 422.3 180.2 421.5 181.7 421.5 C183.2 421.5 185.2 422.3 186.3 423.4 C187.4 424.5 188.2 426.5 188.2 428.0Z" fill="#1c92ac"/>
<path d="M184.7 428.0 C184.7 428.7 184.3 429.6 183.8 430.1 C183.3 430.6 182.4 431.0 181.7 431.0 C181.0 431.0 180.1 430.6 179.6 430.1 C179.1 429.6 178.7 428.7 178.7 428.0 C178.7 427.3 179.1 426.4 179.6 425.9 C180.1 425.4 181.0 425.0 181.7 425.0 C182.4 425.0 183.3 425.4 183.8 425.9 C184.3 426.4 184.7 427.3 184.7 428.0Z" fill="#1c64a4"/>
<path d="M174.0 426.5 C174.0 428.4 173.7 430.6 173.2 432.1 C172.8 433.6 172.0 435.0 171.2 435.5 C170.5 436.1 169.5 436.1 168.8 435.5 C168.0 435.0 167.2 433.6 166.8 432.1 C166.3 430.6 166.0 428.4 166.0 426.5 C166.0 424.6 166.3 422.4 166.8 420.9 C167.2 419.4 168.0 418.0 168.8 417.5 C169.5 416.9 170.5 416.9 171.2 417.5 C172.0 418.0 172.8 419.4 173.2 420.9 C173.7 422.4 174.0 424.6 174.0 426.5Z" fill="#1c92ac"/>
<path d="M202.8 455.5 C202.8 457.1 201.9 459.3 200.7 460.4 C199.6 461.6 197.4 462.5 195.8 462.5 C194.2 462.5 192.0 461.6 190.9 460.4 C189.7 459.3 188.8 457.1 188.8 455.5 C188.8 453.9 189.7 451.7 190.9 450.6 C192.0 449.4 194.2 448.5 195.8 448.5 C197.4 448.5 199.6 449.4 200.7 450.6 C201.9 451.7 202.8 453.9 202.8 455.5Z" fill="#1c92ac"/>
<path d="M199.3 455.5 C199.3 456.3 198.9 457.4 198.3 458.0 C197.7 458.6 196.6 459.0 195.8 459.0 C195.0 459.0 193.9 458.6 193.3 458.0 C192.7 457.4 192.3 456.3 192.3 455.5 C192.3 454.7 192.7 453.6 193.3 453.0 C193.9 452.4 195.0 452.0 195.8 452.0 C196.6 452.0 197.7 452.4 198.3 453.0 C198.9 453.6 199.3 454.7 199.3 455.5Z" fill="#1c64a4"/>
<path d="M212.0 462.0 C212.3 460.7 216.5 459.7 218.0 460.0 C219.5 460.3 221.3 462.7 221.0 464.0 C220.7 465.3 217.5 468.3 216.0 468.0 C214.5 467.7 211.7 463.3 212.0 462.0Z" fill="#1c92ac"/>
<path d="M155.5 493.2 C155.5 494.3 155.0 495.5 154.2 496.4 C153.5 497.2 152.2 498.0 150.9 498.3 C149.7 498.7 148.1 498.7 146.9 498.3 C145.6 498.0 144.3 497.2 143.6 496.4 C142.8 495.5 142.3 494.3 142.3 493.2 C142.3 492.1 142.8 490.9 143.6 490.0 C144.3 489.2 145.6 488.4 146.9 488.1 C148.1 487.7 149.7 487.7 150.9 488.1 C152.2 488.4 153.5 489.2 154.2 490.0 C155.0 490.9 155.5 492.1 155.5 493.2Z" fill="#1c92ac"/>
<path d="M159.7 436.8 C159.7 437.8 159.5 438.9 159.3 439.7 C159.1 440.5 158.6 441.3 158.2 441.6 C157.9 441.9 157.3 441.9 157.0 441.6 C156.6 441.3 156.1 440.5 155.9 439.7 C155.7 438.9 155.5 437.8 155.5 436.8 C155.5 435.8 155.7 434.7 155.9 433.9 C156.1 433.1 156.6 432.3 157.0 432.0 C157.3 431.7 157.9 431.7 158.2 432.0 C158.6 432.3 159.1 433.1 159.3 433.9 C159.5 434.7 159.7 435.8 159.7 436.8Z" fill="#80eb34"/>
<path d="M197.4 431.4 C197.4 432.5 197.1 433.7 196.8 434.6 C196.4 435.4 195.7 436.2 195.1 436.5 C194.5 436.9 193.7 436.9 193.1 436.5 C192.5 436.2 191.8 435.4 191.4 434.6 C191.1 433.7 190.8 432.5 190.8 431.4 C190.8 430.3 191.1 429.1 191.4 428.2 C191.8 427.4 192.5 426.6 193.1 426.3 C193.7 425.9 194.5 425.9 195.1 426.3 C195.7 426.6 196.4 427.4 196.8 428.2 C197.1 429.1 197.4 430.3 197.4 431.4Z" fill="#c0f55a"/>
<path d="M188.6 437.7 C188.8 438.1 188.9 438.7 188.8 439.3 C188.6 439.8 188.3 440.4 187.8 440.9 C187.4 441.3 186.7 441.7 186.1 441.9 C185.5 442.0 184.7 442.0 184.2 441.9 C183.7 441.7 183.2 441.3 182.9 440.9 C182.7 440.5 182.6 439.9 182.7 439.3 C182.9 438.8 183.2 438.2 183.7 437.7 C184.1 437.3 184.8 436.9 185.4 436.7 C186.0 436.6 186.8 436.6 187.3 436.7 C187.8 436.9 188.3 437.3 188.6 437.7Z" fill="#80eb34"/>
<path d="M150.6 475.1 C150.6 475.9 150.3 477.0 149.7 477.7 C149.2 478.4 148.3 479.1 147.5 479.4 C146.6 479.7 145.5 479.7 144.6 479.4 C143.8 479.1 142.9 478.4 142.4 477.7 C141.8 477.0 141.5 475.9 141.5 475.1 C141.5 474.2 141.8 473.1 142.4 472.4 C142.9 471.7 143.8 471.0 144.6 470.7 C145.5 470.4 146.6 470.4 147.5 470.7 C148.3 471.0 149.2 471.7 149.7 472.4 C150.3 473.1 150.6 474.2 150.6 475.1Z" fill="#c0f55a"/>
<path d="M155.5 492.0 C155.8 490.9 158.6 489.4 160.5 488.7 C162.4 488.0 165.4 487.2 167.1 487.8 C168.8 488.4 170.2 490.6 170.4 492.0 C170.6 493.4 169.1 495.1 168.0 496.1 C166.9 497.1 165.3 497.9 163.8 497.8 C162.3 497.7 160.2 496.3 158.8 495.3 C157.4 494.3 155.2 493.1 155.5 492.0Z" fill="#c0f55a"/>
<path d="M179.2 477.9 C179.2 479.0 178.9 480.4 178.4 481.3 C177.9 482.2 177.1 483.1 176.4 483.4 C175.6 483.8 174.6 483.8 173.8 483.4 C173.1 483.1 172.3 482.2 171.8 481.3 C171.3 480.4 171.0 479.0 171.0 477.9 C171.0 476.7 171.3 475.3 171.8 474.4 C172.3 473.5 173.1 472.6 173.8 472.3 C174.6 471.9 175.6 471.9 176.4 472.3 C177.1 472.6 177.9 473.5 178.4 474.4 C178.9 475.3 179.2 476.7 179.2 477.9Z" fill="#c0f55a"/>
<path d="M188.0 479.0 C188.0 479.6 187.8 480.3 187.4 480.8 C187.0 481.2 186.4 481.7 185.8 481.9 C185.2 482.0 184.5 482.0 183.9 481.9 C183.3 481.7 182.7 481.2 182.3 480.8 C181.9 480.3 181.7 479.6 181.7 479.0 C181.7 478.4 181.9 477.7 182.3 477.2 C182.7 476.8 183.3 476.3 183.9 476.1 C184.5 476.0 185.2 476.0 185.8 476.1 C186.4 476.3 187.0 476.8 187.4 477.2 C187.8 477.7 188.0 478.4 188.0 479.0Z" fill="#c0f55a"/>
<path d="M192.4 494.8 C192.4 495.5 192.1 496.4 191.8 497.0 C191.4 497.6 190.7 498.2 190.1 498.4 C189.5 498.6 188.7 498.6 188.1 498.4 C187.5 498.2 186.8 497.6 186.4 497.0 C186.1 496.4 185.8 495.5 185.8 494.8 C185.8 494.1 186.1 493.2 186.4 492.6 C186.8 492.0 187.5 491.4 188.1 491.2 C188.7 491.0 189.5 491.0 190.1 491.2 C190.7 491.4 191.4 492.0 191.8 492.6 C192.1 493.2 192.4 494.1 192.4 494.8Z" fill="#c0f55a"/>
<path d="M170.0 492.0 C170.0 492.8 169.8 493.7 169.6 494.4 C169.4 495.0 169.0 495.6 168.6 495.8 C168.2 496.0 167.8 496.0 167.4 495.8 C167.0 495.6 166.6 495.0 166.4 494.4 C166.2 493.7 166.0 492.8 166.0 492.0 C166.0 491.2 166.2 490.3 166.4 489.6 C166.6 489.0 167.0 488.4 167.4 488.2 C167.8 488.0 168.2 488.0 168.6 488.2 C169.0 488.4 169.4 489.0 169.6 489.6 C169.8 490.3 170.0 491.2 170.0 492.0Z" fill="#c0f55a"/>
</g></g>
<text class="s" x="112.8" y="495.9" font-size="3.7" fill="#111">SOM (%)</text>
<text class="s" x="112.8" y="500.4" font-size="3.7" fill="#111">5-10 cm</text>
<rect x="112.8" y="502.3" width="6.4" height="2.8" fill="#ffff80"/>
<text x="120.7" y="504.6" font-size="2.65" fill="#555">0.1 - 0.58</text>
<rect x="112.8" y="506.8" width="6.4" height="2.8" fill="#c0f55a"/>
<text x="120.7" y="509.2" font-size="2.65" fill="#555">0.58 - 0.89</text>
<rect x="112.8" y="511.3" width="6.4" height="2.8" fill="#80eb34"/>
<text x="120.7" y="513.7" font-size="2.65" fill="#555">0.89 - 1</text>
<rect x="112.8" y="515.8" width="6.4" height="2.8" fill="#3cde14"/>
<text x="120.7" y="518.2" font-size="2.65" fill="#555">1 - 1.27</text>
<rect x="112.8" y="520.3" width="6.4" height="2.8" fill="#3ec64b"/>
<text x="120.7" y="522.7" font-size="2.65" fill="#555">1.27 - 1.75</text>
<rect x="112.8" y="524.9" width="6.4" height="2.8" fill="#32ac78"/>
<text x="120.7" y="527.2" font-size="2.65" fill="#555">1.75 - 2.65</text>
<rect x="112.8" y="529.4" width="6.4" height="2.8" fill="#1c92ac"/>
<text x="120.7" y="531.7" font-size="2.65" fill="#555">2.65 - 4.14</text>
<rect x="112.8" y="533.9" width="6.4" height="2.8" fill="#1c64a4"/>
<text x="120.7" y="536.2" font-size="2.65" fill="#555">4.14 - 6.99</text>
<rect x="112.8" y="538.4" width="6.4" height="2.8" fill="#1a3794"/>
<text x="120.7" y="540.7" font-size="2.65" fill="#555">6.99 - 11.77</text>
<rect x="112.8" y="542.9" width="6.4" height="2.8" fill="#0e127a"/>
<text x="120.7" y="545.2" font-size="2.65" fill="#555">11.77 - 20.9</text>
<path d="M164.4 545.3H210.8M164.4 545.3v-2.8M176.0 545.3v-2.8M187.6 545.3v-2.8M210.8 545.3v-2.8M170.2 545.3v-1.9M181.8 545.3v-1.9M193.4 545.3v-1.9M199.2 545.3v-1.9M205.0 545.3v-1.9M166.3 545.3v-1.2M168.3 545.3v-1.2" fill="none" stroke="#222" stroke-width="0.55"/>
<text x="164.4" y="540.4" font-size="4.2" font-weight="bold" text-anchor="middle" fill="#111">0</text>
<text x="176.0" y="540.4" font-size="4.2" font-weight="bold" text-anchor="middle" fill="#111">30</text>
<text x="187.6" y="540.4" font-size="4.2" font-weight="bold" text-anchor="middle" fill="#111">60</text>
<text x="206.9" y="540.4" font-size="4.2" font-weight="bold" fill="#111">120 km</text>
<path d="M214.4 419.9l3.2 9.3l-3.2 -2.5l-3.2 2.5z" fill="#000"/>
<text x="214.4" y="417.9" font-size="2.6" text-anchor="middle" fill="#555">N</text>
<g clip-path="url(#c11)"><g filter="url(#b)">
<rect x="224.3" y="408.8" width="115" height="125" fill="#32ac78"/>
<path d="M242.0 484.0 C243.7 481.7 247.3 480.3 250.0 478.0 C252.7 475.7 255.3 471.6 258.0 470.0 C260.7 468.4 263.3 468.2 266.0 468.2 C268.7 468.2 271.7 470.7 274.0 470.0 C276.3 469.3 278.0 465.7 280.0 464.0 C282.0 462.3 284.0 459.7 286.0 460.0 C288.0 460.3 289.7 464.7 292.0 466.0 C294.3 467.3 298.0 466.3 300.0 468.0 C302.0 469.7 304.0 473.0 304.0 476.0 C304.0 479.0 299.7 483.0 300.0 486.0 C300.3 489.0 306.0 491.0 306.0 494.0 C306.0 497.0 302.0 501.3 300.0 504.0 C298.0 506.7 296.3 508.7 294.0 510.0 C291.7 511.3 288.3 510.7 286.0 512.0 C283.7 513.3 282.3 516.7 280.0 518.0 C277.7 519.3 274.7 520.3 272.0 520.0 C269.3 519.7 266.7 517.3 264.0 516.0 C261.3 514.7 258.7 513.3 256.0 512.0 C253.3 510.7 250.3 510.0 248.0 508.0 C245.7 506.0 243.3 502.7 242.0 500.0 C240.7 497.3 240.0 494.7 240.0 492.0 C240.0 489.3 240.3 486.3 242.0 484.0Z" fill="#3ec64b"/>
<path d="M272.6 452.5 C272.6 453.3 272.2 454.3 271.5 454.9 C270.8 455.6 269.7 456.2 268.6 456.4 C267.5 456.6 266.1 456.6 265.0 456.4 C263.9 456.2 262.8 455.6 262.1 454.9 C261.4 454.3 261.0 453.3 261.0 452.5 C261.0 451.7 261.4 450.7 262.1 450.1 C262.8 449.4 263.9 448.8 265.0 448.6 C266.1 448.4 267.5 448.4 268.6 448.6 C269.7 448.8 270.8 449.4 271.5 450.1 C272.2 450.7 272.6 451.7 272.6 452.5Z" fill="#3ec64b"/>
<path d="M307.4 428.5 C308.4 429.3 307.4 434.9 306.6 436.8 C305.8 438.7 304.2 438.9 302.4 440.0 C300.6 441.1 297.7 442.0 295.8 443.4 C293.9 444.8 292.8 447.4 290.9 448.4 C289.0 449.4 284.9 450.0 284.3 449.2 C283.8 448.4 286.9 445.5 287.6 443.4 C288.3 441.3 287.3 438.2 288.4 436.8 C289.5 435.4 292.1 435.9 294.2 435.1 C296.3 434.3 298.6 432.9 300.8 431.8 C303.0 430.7 306.4 427.7 307.4 428.5Z" fill="#3ec64b"/>
<path d="M306.0 429.5 C306.8 430.2 307.0 434.2 306.0 436.0 C305.0 437.8 302.0 439.5 300.0 440.0 C298.0 440.5 294.7 439.8 294.0 439.0 C293.3 438.2 294.8 436.2 296.0 435.0 C297.2 433.8 299.3 432.9 301.0 432.0 C302.7 431.1 305.2 428.8 306.0 429.5Z" fill="#3cde14"/>
<path d="M258.0 478.0 C259.3 475.3 263.3 474.3 266.0 474.0 C268.7 473.7 271.7 474.3 274.0 476.0 C276.3 477.7 278.7 481.0 280.0 484.0 C281.3 487.0 282.3 490.7 282.0 494.0 C281.7 497.3 279.3 500.7 278.0 504.0 C276.7 507.3 275.7 512.0 274.0 514.0 C272.3 516.0 269.7 517.0 268.0 516.0 C266.3 515.0 265.0 511.0 264.0 508.0 C263.0 505.0 263.0 501.0 262.0 498.0 C261.0 495.0 258.7 493.3 258.0 490.0 C257.3 486.7 256.7 480.7 258.0 478.0Z" fill="#3cde14"/>
<path d="M265.0 460.0 C265.8 457.5 269.5 457.0 272.0 457.0 C274.5 457.0 278.5 457.8 280.0 460.0 C281.5 462.2 281.3 466.7 281.0 470.0 C280.7 473.3 279.5 478.3 278.0 480.0 C276.5 481.7 273.8 481.3 272.0 480.0 C270.2 478.7 268.2 475.3 267.0 472.0 C265.8 468.7 264.2 462.5 265.0 460.0Z" fill="#32ac78"/>
<path d="M265.2 492.0 C265.8 490.8 269.7 488.5 271.8 488.2 C273.9 487.9 277.5 489.3 277.6 490.3 C277.7 491.3 274.1 493.6 272.6 494.4 C271.1 495.2 269.7 495.7 268.5 495.3 C267.3 494.9 264.6 493.2 265.2 492.0Z" fill="#c0f55a"/>
<path d="M256.0 492.7 C256.0 494.0 255.6 495.6 254.9 496.6 C254.2 497.7 253.1 498.7 252.0 499.1 C251.0 499.5 249.5 499.5 248.5 499.1 C247.4 498.7 246.3 497.7 245.6 496.6 C244.9 495.6 244.5 494.0 244.5 492.7 C244.5 491.4 244.9 489.8 245.6 488.8 C246.3 487.7 247.4 486.7 248.5 486.3 C249.5 485.9 251.0 485.9 252.0 486.3 C253.1 486.7 254.2 487.7 254.9 488.8 C255.6 489.8 256.0 491.4 256.0 492.7Z" fill="#32ac78"/>
<path d="M272.0 508.0 C272.3 505.0 277.0 503.3 280.0 502.0 C283.0 500.7 287.0 500.0 290.0 500.0 C293.0 500.0 297.0 500.0 298.0 502.0 C299.0 504.0 297.7 509.7 296.0 512.0 C294.3 514.3 291.0 514.7 288.0 516.0 C285.0 517.3 280.7 521.3 278.0 520.0 C275.3 518.7 271.7 511.0 272.0 508.0Z" fill="#32ac78"/>
<path d="M294.0 482.8 C294.0 483.4 293.8 484.1 293.4 484.7 C293.0 485.2 292.4 485.6 291.8 485.8 C291.1 486.0 290.4 486.0 289.7 485.8 C289.1 485.6 288.5 485.2 288.1 484.7 C287.7 484.1 287.5 483.4 287.5 482.8 C287.5 482.1 287.7 481.4 288.1 480.8 C288.5 480.3 289.1 479.9 289.7 479.7 C290.4 479.5 291.1 479.5 291.8 479.7 C292.4 479.9 293.0 480.3 293.4 480.8 C293.8 481.4 294.0 482.1 294.0 482.8Z" fill="#32ac78"/>
<path d="M297.5 488.5 C297.5 489.0 297.3 489.6 296.9 490.0 C296.5 490.4 295.9 490.7 295.3 490.9 C294.6 491.0 293.9 491.0 293.2 490.9 C292.6 490.7 292.0 490.4 291.6 490.0 C291.2 489.6 291.0 489.0 291.0 488.5 C291.0 488.0 291.2 487.4 291.6 487.0 C292.0 486.6 292.6 486.3 293.2 486.1 C293.9 486.0 294.6 486.0 295.3 486.1 C295.9 486.3 296.5 486.6 296.9 487.0 C297.3 487.4 297.5 488.0 297.5 488.5Z" fill="#32ac78"/>
<path d="M304.0 483.5 C304.0 484.0 303.8 484.6 303.4 485.0 C303.0 485.4 302.4 485.7 301.8 485.9 C301.1 486.0 300.4 486.0 299.7 485.9 C299.1 485.7 298.5 485.4 298.1 485.0 C297.7 484.6 297.5 484.0 297.5 483.5 C297.5 483.0 297.7 482.4 298.1 482.0 C298.5 481.6 299.1 481.3 299.7 481.1 C300.4 481.0 301.1 481.0 301.8 481.1 C302.4 481.3 303.0 481.6 303.4 482.0 C303.8 482.4 304.0 483.0 304.0 483.5Z" fill="#32ac78"/>
<path d="M254.0 424.0 C255.0 422.5 259.3 422.3 262.0 421.0 C264.7 419.7 267.2 417.0 270.0 416.0 C272.8 415.0 276.3 414.3 279.0 415.0 C281.7 415.7 283.8 418.8 286.0 420.0 C288.2 421.2 290.1 420.6 292.0 422.0 C293.9 423.4 297.2 426.7 297.5 428.5 C297.8 430.3 295.4 431.4 294.0 433.0 C292.6 434.6 290.7 436.7 289.0 438.0 C287.3 439.3 285.8 440.7 284.0 441.0 C282.2 441.3 280.0 440.3 278.0 440.0 C276.0 439.7 274.0 439.5 272.0 439.0 C270.0 438.5 268.0 437.8 266.0 437.0 C264.0 436.2 261.7 435.2 260.0 434.0 C258.3 432.8 257.0 431.7 256.0 430.0 C255.0 428.3 253.0 425.5 254.0 424.0Z" fill="#1c92ac"/>
<path d="M243.0 458.0 C244.2 455.0 247.8 453.0 250.0 452.0 C252.2 451.0 254.3 451.0 256.0 452.0 C257.7 453.0 259.2 455.7 260.0 458.0 C260.8 460.3 261.7 464.0 261.0 466.0 C260.3 468.0 257.8 469.0 256.0 470.0 C254.2 471.0 251.7 470.7 250.0 472.0 C248.3 473.3 247.2 478.3 246.0 478.0 C244.8 477.7 243.5 473.3 243.0 470.0 C242.5 466.7 241.8 461.0 243.0 458.0Z" fill="#1c92ac"/>
<path d="M288.4 461.6 C288.7 460.5 293.7 459.7 295.8 458.3 C297.9 456.9 298.6 454.6 300.8 453.3 C303.0 452.1 306.8 450.5 309.0 450.8 C311.2 451.1 312.3 453.2 314.0 455.0 C315.7 456.8 317.3 460.0 319.0 461.6 C320.7 463.2 324.0 463.7 324.0 464.9 C324.0 466.1 321.2 468.6 319.0 469.0 C316.8 469.4 313.5 468.1 310.7 467.4 C307.9 466.7 305.1 465.3 302.4 464.9 C299.6 464.5 296.5 465.4 294.2 464.9 C291.9 464.3 288.1 462.7 288.4 461.6Z" fill="#1c92ac"/>
<path d="M307.4 468.0 C308.4 466.0 311.6 466.0 314.0 466.0 C316.4 466.0 320.7 466.3 322.0 468.0 C323.3 469.7 323.0 473.3 322.0 476.0 C321.0 478.7 318.0 482.3 316.0 484.0 C314.0 485.7 311.3 487.0 310.0 486.0 C308.7 485.0 308.4 481.0 308.0 478.0 C307.6 475.0 306.4 470.0 307.4 468.0Z" fill="#1c92ac"/>
<path d="M300.0 510.0 C300.0 511.2 299.7 512.6 299.3 513.5 C298.9 514.5 298.1 515.3 297.4 515.7 C296.7 516.1 295.8 516.1 295.1 515.7 C294.4 515.3 293.6 514.5 293.2 513.5 C292.8 512.6 292.5 511.2 292.5 510.0 C292.5 508.8 292.8 507.4 293.2 506.5 C293.6 505.5 294.4 504.7 295.1 504.3 C295.8 503.9 296.7 503.9 297.4 504.3 C298.1 504.7 298.9 505.5 299.3 506.5 C299.7 507.4 300.0 508.8 300.0 510.0Z" fill="#1c92ac"/>
<path d="M266.0 427.7 C266.0 428.5 265.6 429.5 264.9 430.1 C264.2 430.8 263.1 431.4 262.0 431.6 C260.9 431.8 259.5 431.8 258.4 431.6 C257.3 431.4 256.2 430.8 255.5 430.1 C254.8 429.5 254.4 428.5 254.4 427.7 C254.4 426.9 254.8 425.9 255.5 425.3 C256.2 424.6 257.3 424.0 258.4 423.8 C259.5 423.6 260.9 423.6 262.0 423.8 C263.1 424.0 264.2 424.6 264.9 425.3 C265.6 425.9 266.0 426.9 266.0 427.7Z" fill="#1c64a4"/>
<path d="M235.9 448.0 C236.3 447.2 240.5 448.9 242.9 449.2 C245.3 449.5 248.8 449.2 250.3 450.0 C251.8 450.8 252.4 452.9 252.0 454.1 C251.6 455.4 249.2 456.7 247.8 457.5 C246.4 458.3 244.9 459.7 243.7 459.1 C242.5 458.5 241.7 456.0 240.4 454.1 C239.1 452.2 235.5 448.8 235.9 448.0Z" fill="#1c64a4"/>
<path d="M235.9 448.0 C236.2 447.4 240.0 448.3 241.0 449.0 C242.0 449.7 242.2 451.4 242.0 452.0 C241.8 452.6 240.5 453.2 239.5 452.5 C238.5 451.8 235.7 448.6 235.9 448.0Z" fill="#1a3794"/>
<path d="M301.6 458.3 C302.2 457.1 303.5 454.9 304.9 454.1 C306.3 453.3 308.5 452.6 309.9 453.3 C311.3 454.0 312.4 456.5 313.2 458.3 C314.0 460.1 315.2 463.0 314.8 464.1 C314.4 465.2 312.2 465.2 310.7 464.9 C309.2 464.6 307.3 462.9 305.8 462.4 C304.3 461.8 302.3 462.3 301.6 461.6 C300.9 460.9 301.1 459.6 301.6 458.3Z" fill="#1c64a4"/>
</g></g>
<text class="s" x="222.8" y="495.6" font-size="3.7" fill="#111">SOM (%)</text>
<text class="s" x="222.8" y="499.2" font-size="3.7" fill="#111">&gt;10 cm</text>
<rect x="222.8" y="500.8" width="6.4" height="2.8" fill="#ffff80"/>
<text x="230.7" y="503.1" font-size="2.65" fill="#555">0.1 - 0.24</text>
<rect x="222.8" y="505.5" width="6.4" height="2.8" fill="#c0f55a"/>
<text x="230.7" y="507.8" font-size="2.65" fill="#555">0.24 - 0.39</text>
<rect x="222.8" y="510.1" width="6.4" height="2.8" fill="#80eb34"/>
<text x="230.7" y="512.5" font-size="2.65" fill="#555">0.39 - 0.54</text>
<rect x="222.8" y="514.8" width="6.4" height="2.8" fill="#3cde14"/>
<text x="230.7" y="517.2" font-size="2.65" fill="#555">0.54 - 0.76</text>
<rect x="222.8" y="519.5" width="6.4" height="2.8" fill="#3ec64b"/>
<text x="230.7" y="521.8" font-size="2.65" fill="#555">0.76 - 1.08</text>
<rect x="222.8" y="524.1" width="6.4" height="2.8" fill="#32ac78"/>
<text x="230.7" y="526.5" font-size="2.65" fill="#555">1.08 - 1.52</text>
<rect x="222.8" y="528.8" width="6.4" height="2.8" fill="#1c92ac"/>
<text x="230.7" y="531.2" font-size="2.65" fill="#555">1.52 - 2.15</text>
<rect x="222.8" y="533.5" width="6.4" height="2.8" fill="#1c64a4"/>
<text x="230.7" y="535.8" font-size="2.65" fill="#555">2.15 - 3.03</text>
<rect x="222.8" y="538.2" width="6.4" height="2.8" fill="#1a3794"/>
<text x="230.7" y="540.5" font-size="2.65" fill="#555">3.03 - 4.27</text>
<rect x="222.8" y="542.8" width="6.4" height="2.8" fill="#0e127a"/>
<text x="230.7" y="545.2" font-size="2.65" fill="#555">4.27 - 6</text>
<path d="M273.9 545.3H320.3M273.9 545.3v-2.8M285.5 545.3v-2.8M297.1 545.3v-2.8M320.3 545.3v-2.8M279.7 545.3v-1.9M291.3 545.3v-1.9M302.9 545.3v-1.9M308.7 545.3v-1.9M314.5 545.3v-1.9M275.8 545.3v-1.2M277.8 545.3v-1.2" fill="none" stroke="#222" stroke-width="0.55"/>
<text x="273.9" y="540.4" font-size="4.2" font-weight="bold" text-anchor="middle" fill="#111">0</text>
<text x="285.5" y="540.4" font-size="4.2" font-weight="bold" text-anchor="middle" fill="#111">30</text>
<text x="297.1" y="540.4" font-size="4.2" font-weight="bold" text-anchor="middle" fill="#111">60</text>
<text x="316.4" y="540.4" font-size="4.2" font-weight="bold" fill="#111">120 km</text>
<path d="M324.9 419.8l3.2 9.3l-3.2 -2.5l-3.2 2.5z" fill="#000"/>
<text x="324.9" y="417.8" font-size="2.6" text-anchor="middle" fill="#555">N</text>
<g fill="none">
<path d="M2 3.85H331" stroke="#b0b0b0" stroke-width="1.8"/>
<path d="M111.6 3.5V546.3M221.4 3.5V546.3" stroke="#666" stroke-width="0.9"/>
<path d="M330.4 3.5V546.3" stroke="#999" stroke-width="1.2"/>
<path d="M2.2 4V546" stroke="#e0e0e0" stroke-width="0.8"/>
<path d="M2 137.5H331" stroke="#555" stroke-width="0.7"/>
<path d="M2 139.2H331" stroke="#aaa" stroke-width="1.2"/>
<path d="M2 273.4H331" stroke="#999" stroke-width="1"/>
<path d="M2 277.2H331" stroke="#555" stroke-width="0.7"/>
<path d="M2 411.2H331" stroke="#888" stroke-width="1.7"/>
<path d="M2 546H331" stroke="#999" stroke-width="1"/>
</g>
</svg></body></html>
